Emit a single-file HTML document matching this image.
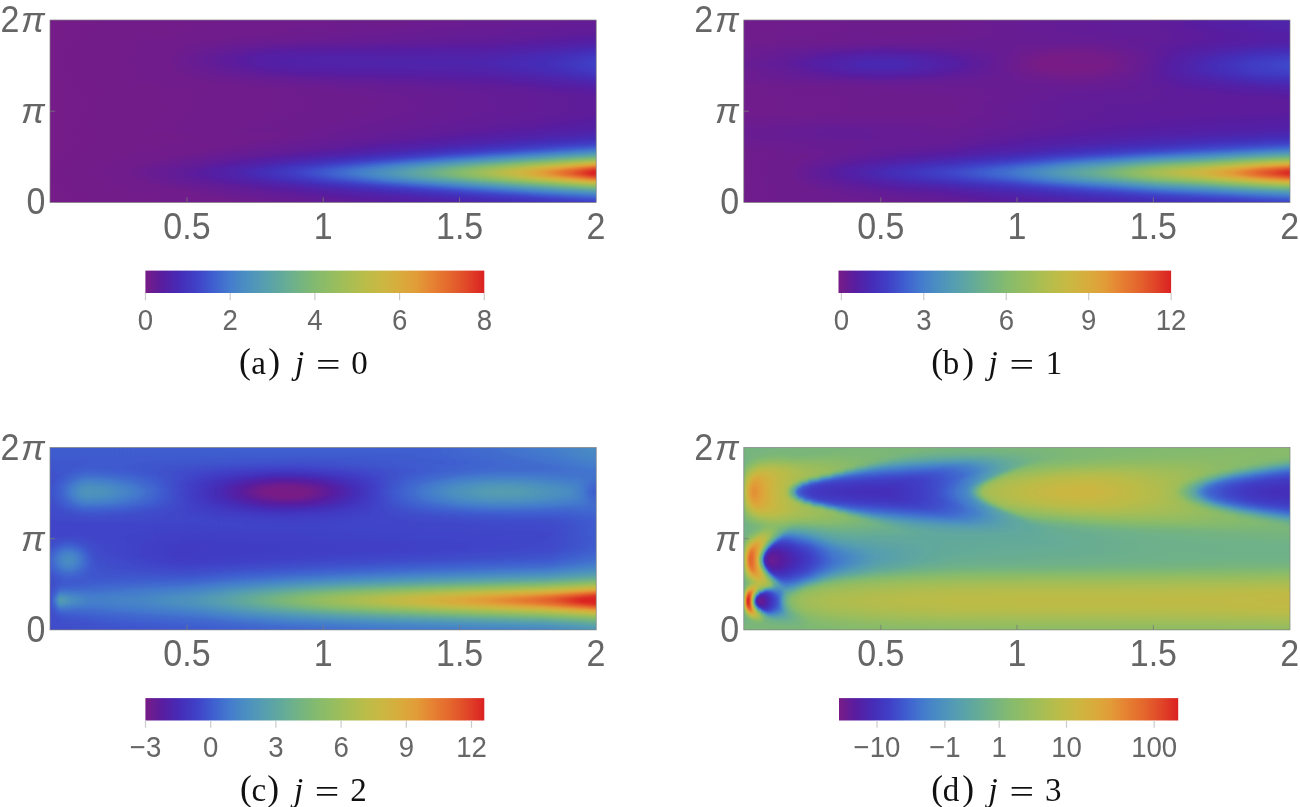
<!DOCTYPE html>
<html><head><meta charset="utf-8"><title>figure</title>
<style>html,body{margin:0;padding:0;background:#fff}svg{display:block}text{font-family:'Liberation Sans',sans-serif}.cap text{font-family:'Liberation Serif',serif}</style></head>
<body><svg width="1300" height="807" viewBox="0 0 1300 807">
<rect width="1300" height="807" fill="#fff"/>
<defs><filter id="rb" filterUnits="userSpaceOnUse" x="0" y="0" width="1300" height="807" color-interpolation-filters="sRGB"><feGaussianBlur stdDeviation="0 1.6"/><feComponentTransfer><feFuncR type="table" tableValues=".4706 .3451 .2745 .251 .2471 .2667 .2941 .3373 .3843 .4471 .5137 .5804 .6549 .7333 .7961 .8471 .8863 .902 .8941 .8784 .8588"/><feFuncG type="table" tableValues=".1098 .1137 .1725 .251 .3725 .4863 .5647 .6196 .6627 .702 .7294 .7412 .7451 .7373 .7176 .6745 .6118 .502 .4 .2745 .1294"/><feFuncB type="table" tableValues=".5255 .6275 .7176 .7804 .8157 .8039 .7529 .6902 .6118 .5216 .4392 .3804 .3294 .2824 .2588 .2353 .2196 .1961 .1765 .1569 .1333"/></feComponentTransfer></filter></defs>
<defs><linearGradient id="h0_0"><stop offset="0" stop-color="#010101"/><stop offset=".6378" stop-color="#040404"/><stop offset="1" stop-color="#080808"/></linearGradient><linearGradient id="h0_1"><stop offset="0" stop-color="#010101"/><stop offset=".6378" stop-color="#040404"/><stop offset="1" stop-color="#080808"/></linearGradient><linearGradient id="h0_2"><stop offset="0" stop-color="#010101"/><stop offset=".6378" stop-color="#040404"/><stop offset="1" stop-color="#080808"/></linearGradient><linearGradient id="h0_3"><stop offset="0" stop-color="#010101"/><stop offset=".6324" stop-color="#040404"/><stop offset="1" stop-color="#080808"/></linearGradient><linearGradient id="h0_4"><stop offset="0" stop-color="#010101"/><stop offset=".6109" stop-color="#040404"/><stop offset="1" stop-color="#090909"/></linearGradient><linearGradient id="h0_5"><stop offset="0" stop-color="#010101"/><stop offset=".5357" stop-color="#040404"/><stop offset=".9656" stop-color="#090909"/><stop offset="1" stop-color="#090909"/></linearGradient><linearGradient id="h0_6"><stop offset="0" stop-color="#010101"/><stop offset=".3852" stop-color="#030303"/><stop offset=".9011" stop-color="#080808"/><stop offset="1" stop-color="#0a0a0a"/></linearGradient><linearGradient id="h0_7"><stop offset="0" stop-color="#010101"/><stop offset=".3099" stop-color="#030303"/><stop offset=".8796" stop-color="#090909"/><stop offset="1" stop-color="#0c0c0c"/></linearGradient><linearGradient id="h0_8"><stop offset="0" stop-color="#010101"/><stop offset=".2669" stop-color="#030303"/><stop offset=".5679" stop-color="#060606"/><stop offset=".8581" stop-color="#0a0a0a"/><stop offset="1" stop-color="#0e0e0e"/></linearGradient><linearGradient id="h0_9"><stop offset="0" stop-color="#010101"/><stop offset=".2508" stop-color="#030303"/><stop offset=".4765" stop-color="#070707"/><stop offset=".8259" stop-color="#0a0a0a"/><stop offset=".9656" stop-color="#0f0f0f"/><stop offset="1" stop-color="#111111"/></linearGradient><linearGradient id="h0_10"><stop offset="0" stop-color="#010101"/><stop offset=".2401" stop-color="#030303"/><stop offset=".4497" stop-color="#090909"/><stop offset=".8097" stop-color="#0c0c0c"/><stop offset=".9441" stop-color="#111111"/><stop offset="1" stop-color="#141414"/></linearGradient><linearGradient id="h0_11"><stop offset="0" stop-color="#010101"/><stop offset=".2347" stop-color="#030303"/><stop offset=".4335" stop-color="#0b0b0b"/><stop offset=".799" stop-color="#0d0d0d"/><stop offset=".9334" stop-color="#131313"/><stop offset=".9979" stop-color="#181818"/><stop offset="1" stop-color="#181818"/></linearGradient><linearGradient id="h0_12"><stop offset="0" stop-color="#010101"/><stop offset=".2293" stop-color="#030303"/><stop offset=".412" stop-color="#0d0d0d"/><stop offset=".67" stop-color="#0f0f0f"/><stop offset=".799" stop-color="#101010"/><stop offset=".928" stop-color="#161616"/><stop offset=".9925" stop-color="#1c1c1c"/><stop offset="1" stop-color="#1c1c1c"/></linearGradient><linearGradient id="h0_13"><stop offset="0" stop-color="#010101"/><stop offset=".2293" stop-color="#030303"/><stop offset=".4013" stop-color="#0e0e0e"/><stop offset=".541" stop-color="#101010"/><stop offset=".7829" stop-color="#111111"/><stop offset=".9172" stop-color="#181818"/><stop offset=".9925" stop-color="#202020"/><stop offset="1" stop-color="#202020"/></linearGradient><linearGradient id="h0_14"><stop offset="0" stop-color="#010101"/><stop offset=".2239" stop-color="#030303"/><stop offset=".3959" stop-color="#0f0f0f"/><stop offset=".4927" stop-color="#121212"/><stop offset=".6915" stop-color="#121212"/><stop offset=".799" stop-color="#131313"/><stop offset=".9172" stop-color="#1a1a1a"/><stop offset=".9925" stop-color="#232323"/><stop offset="1" stop-color="#232323"/></linearGradient><linearGradient id="h0_15"><stop offset="0" stop-color="#010101"/><stop offset=".2239" stop-color="#030303"/><stop offset=".4013" stop-color="#101010"/><stop offset=".5088" stop-color="#121212"/><stop offset=".6915" stop-color="#131313"/><stop offset=".7936" stop-color="#141414"/><stop offset=".9119" stop-color="#1b1b1b"/><stop offset=".9925" stop-color="#252525"/><stop offset="1" stop-color="#252525"/></linearGradient><linearGradient id="h0_16"><stop offset="0" stop-color="#010101"/><stop offset=".2239" stop-color="#030303"/><stop offset=".412" stop-color="#101010"/><stop offset=".6163" stop-color="#131313"/><stop offset=".7721" stop-color="#141414"/><stop offset=".8957" stop-color="#1a1a1a"/><stop offset=".9602" stop-color="#222222"/><stop offset=".9925" stop-color="#272727"/><stop offset="1" stop-color="#272727"/></linearGradient><linearGradient id="h0_17"><stop offset="0" stop-color="#010101"/><stop offset=".2293" stop-color="#030303"/><stop offset=".4228" stop-color="#101010"/><stop offset=".6593" stop-color="#131313"/><stop offset=".7829" stop-color="#131313"/><stop offset=".9065" stop-color="#1b1b1b"/><stop offset=".9817" stop-color="#252525"/><stop offset="1" stop-color="#262626"/></linearGradient><linearGradient id="h0_18"><stop offset="0" stop-color="#010101"/><stop offset=".2293" stop-color="#030303"/><stop offset=".4335" stop-color="#0e0e0e"/><stop offset=".67" stop-color="#111111"/><stop offset=".7882" stop-color="#121212"/><stop offset=".9119" stop-color="#1a1a1a"/><stop offset=".9925" stop-color="#242424"/><stop offset="1" stop-color="#242424"/></linearGradient><linearGradient id="h0_19"><stop offset="0" stop-color="#010101"/><stop offset=".2347" stop-color="#030303"/><stop offset=".4443" stop-color="#0d0d0d"/><stop offset=".6969" stop-color="#0f0f0f"/><stop offset=".8097" stop-color="#121212"/><stop offset=".9226" stop-color="#191919"/><stop offset=".9925" stop-color="#222222"/><stop offset="1" stop-color="#222222"/></linearGradient><linearGradient id="h0_20"><stop offset="0" stop-color="#010101"/><stop offset=".2401" stop-color="#030303"/><stop offset=".4604" stop-color="#0b0b0b"/><stop offset=".799" stop-color="#0f0f0f"/><stop offset=".9226" stop-color="#161616"/><stop offset=".9925" stop-color="#1e1e1e"/><stop offset="1" stop-color="#1e1e1e"/></linearGradient><linearGradient id="h0_21"><stop offset="0" stop-color="#010101"/><stop offset=".2508" stop-color="#030303"/><stop offset=".4927" stop-color="#090909"/><stop offset=".8044" stop-color="#0d0d0d"/><stop offset=".928" stop-color="#141414"/><stop offset=".9925" stop-color="#1a1a1a"/><stop offset="1" stop-color="#1a1a1a"/></linearGradient><linearGradient id="h0_22"><stop offset="0" stop-color="#010101"/><stop offset=".2669" stop-color="#030303"/><stop offset=".6109" stop-color="#090909"/><stop offset=".8205" stop-color="#0c0c0c"/><stop offset=".9387" stop-color="#121212"/><stop offset=".9979" stop-color="#161616"/><stop offset="1" stop-color="#161616"/></linearGradient><linearGradient id="h0_23"><stop offset="0" stop-color="#010101"/><stop offset=".2992" stop-color="#030303"/><stop offset=".8312" stop-color="#0b0b0b"/><stop offset=".9549" stop-color="#101010"/><stop offset="1" stop-color="#131313"/></linearGradient><linearGradient id="h0_24"><stop offset="0" stop-color="#010101"/><stop offset=".3475" stop-color="#030303"/><stop offset=".8366" stop-color="#090909"/><stop offset=".9764" stop-color="#0f0f0f"/><stop offset="1" stop-color="#101010"/></linearGradient><linearGradient id="h0_25"><stop offset="0" stop-color="#010101"/><stop offset=".4174" stop-color="#030303"/><stop offset=".8527" stop-color="#090909"/><stop offset="1" stop-color="#0d0d0d"/></linearGradient><linearGradient id="h0_26"><stop offset="0" stop-color="#010101"/><stop offset=".5034" stop-color="#040404"/><stop offset=".8957" stop-color="#090909"/><stop offset="1" stop-color="#0c0c0c"/></linearGradient><linearGradient id="h0_27"><stop offset="0" stop-color="#010101"/><stop offset=".5464" stop-color="#040404"/><stop offset=".9334" stop-color="#090909"/><stop offset="1" stop-color="#0b0b0b"/></linearGradient><linearGradient id="h0_28"><stop offset="0" stop-color="#010101"/><stop offset=".5679" stop-color="#040404"/><stop offset=".9656" stop-color="#0a0a0a"/><stop offset="1" stop-color="#0a0a0a"/></linearGradient><linearGradient id="h0_29"><stop offset="0" stop-color="#010101"/><stop offset=".5733" stop-color="#040404"/><stop offset="1" stop-color="#0a0a0a"/></linearGradient><linearGradient id="h0_30"><stop offset="0" stop-color="#010101"/><stop offset=".5733" stop-color="#040404"/><stop offset="1" stop-color="#0a0a0a"/></linearGradient><linearGradient id="h0_31"><stop offset="0" stop-color="#010101"/><stop offset=".5679" stop-color="#040404"/><stop offset="1" stop-color="#0a0a0a"/></linearGradient><linearGradient id="h0_32"><stop offset="0" stop-color="#010101"/><stop offset=".5571" stop-color="#040404"/><stop offset=".9817" stop-color="#0a0a0a"/><stop offset="1" stop-color="#0b0b0b"/></linearGradient><linearGradient id="h0_33"><stop offset="0" stop-color="#010101"/><stop offset=".5464" stop-color="#040404"/><stop offset=".9602" stop-color="#0a0a0a"/><stop offset="1" stop-color="#0b0b0b"/></linearGradient><linearGradient id="h0_34"><stop offset="0" stop-color="#010101"/><stop offset=".5303" stop-color="#040404"/><stop offset=".928" stop-color="#0a0a0a"/><stop offset="1" stop-color="#0c0c0c"/></linearGradient><linearGradient id="h0_35"><stop offset="0" stop-color="#010101"/><stop offset=".5142" stop-color="#040404"/><stop offset=".8957" stop-color="#0a0a0a"/><stop offset="1" stop-color="#0d0d0d"/></linearGradient><linearGradient id="h0_36"><stop offset="0" stop-color="#010101"/><stop offset=".498" stop-color="#040404"/><stop offset=".8635" stop-color="#0a0a0a"/><stop offset="1" stop-color="#0e0e0e"/></linearGradient><linearGradient id="h0_37"><stop offset="0" stop-color="#010101"/><stop offset=".4819" stop-color="#040404"/><stop offset=".8312" stop-color="#0a0a0a"/><stop offset="1" stop-color="#0f0f0f"/></linearGradient><linearGradient id="h0_38"><stop offset="0" stop-color="#010101"/><stop offset=".4604" stop-color="#040404"/><stop offset=".7882" stop-color="#0a0a0a"/><stop offset="1" stop-color="#111111"/></linearGradient><linearGradient id="h0_39"><stop offset="0" stop-color="#010101"/><stop offset=".4389" stop-color="#040404"/><stop offset=".7506" stop-color="#0a0a0a"/><stop offset="1" stop-color="#141414"/></linearGradient><linearGradient id="h0_40"><stop offset="0" stop-color="#010101"/><stop offset=".4174" stop-color="#030303"/><stop offset=".7076" stop-color="#0a0a0a"/><stop offset=".9441" stop-color="#141414"/><stop offset="1" stop-color="#171717"/></linearGradient><linearGradient id="h0_41"><stop offset="0" stop-color="#010101"/><stop offset=".3905" stop-color="#030303"/><stop offset=".6593" stop-color="#0a0a0a"/><stop offset=".8796" stop-color="#141414"/><stop offset="1" stop-color="#1b1b1b"/></linearGradient><linearGradient id="h0_42"><stop offset="0" stop-color="#010101"/><stop offset=".3637" stop-color="#030303"/><stop offset=".6163" stop-color="#0a0a0a"/><stop offset=".8205" stop-color="#141414"/><stop offset=".9979" stop-color="#212121"/><stop offset="1" stop-color="#212121"/></linearGradient><linearGradient id="h0_43"><stop offset="0" stop-color="#010101"/><stop offset=".3368" stop-color="#030303"/><stop offset=".5679" stop-color="#0a0a0a"/><stop offset=".7614" stop-color="#141414"/><stop offset=".928" stop-color="#222222"/><stop offset=".9925" stop-color="#282828"/><stop offset="1" stop-color="#282828"/></linearGradient><linearGradient id="h0_44"><stop offset="0" stop-color="#010101"/><stop offset=".3046" stop-color="#030303"/><stop offset=".5195" stop-color="#090909"/><stop offset=".6969" stop-color="#141414"/><stop offset=".8527" stop-color="#222222"/><stop offset=".9925" stop-color="#333333"/><stop offset="1" stop-color="#333333"/></linearGradient><linearGradient id="h0_45"><stop offset="0" stop-color="#010101"/><stop offset=".2777" stop-color="#030303"/><stop offset=".4712" stop-color="#090909"/><stop offset=".6378" stop-color="#141414"/><stop offset=".7829" stop-color="#222222"/><stop offset=".9119" stop-color="#333333"/><stop offset=".9925" stop-color="#414141"/><stop offset="1" stop-color="#414141"/></linearGradient><linearGradient id="h0_46"><stop offset="0" stop-color="#010101"/><stop offset=".2508" stop-color="#030303"/><stop offset=".4282" stop-color="#090909"/><stop offset=".5786" stop-color="#141414"/><stop offset=".713" stop-color="#222222"/><stop offset=".8366" stop-color="#343434"/><stop offset=".9495" stop-color="#4a4a4a"/><stop offset=".9925" stop-color="#535353"/><stop offset="1" stop-color="#535353"/></linearGradient><linearGradient id="h0_47"><stop offset="0" stop-color="#010101"/><stop offset=".2239" stop-color="#030303"/><stop offset=".3852" stop-color="#090909"/><stop offset=".5249" stop-color="#141414"/><stop offset=".6485" stop-color="#222222"/><stop offset=".7614" stop-color="#353535"/><stop offset=".8689" stop-color="#4b4b4b"/><stop offset=".971" stop-color="#666666"/><stop offset=".9871" stop-color="#6b6b6b"/><stop offset="1" stop-color="#6c6c6c"/></linearGradient><linearGradient id="h0_48"><stop offset="0" stop-color="#010101"/><stop offset=".2024" stop-color="#030303"/><stop offset=".3475" stop-color="#0a0a0a"/><stop offset=".4712" stop-color="#141414"/><stop offset=".584" stop-color="#222222"/><stop offset=".6915" stop-color="#353535"/><stop offset=".7936" stop-color="#4c4c4c"/><stop offset=".8904" stop-color="#686868"/><stop offset=".9817" stop-color="#878787"/><stop offset=".9925" stop-color="#8a8a8a"/><stop offset="1" stop-color="#8a8a8a"/></linearGradient><linearGradient id="h0_49"><stop offset="0" stop-color="#010101"/><stop offset=".1809" stop-color="#030303"/><stop offset=".3153" stop-color="#0a0a0a"/><stop offset=".4282" stop-color="#141414"/><stop offset=".5357" stop-color="#232323"/><stop offset=".6324" stop-color="#363636"/><stop offset=".7238" stop-color="#4c4c4c"/><stop offset=".8151" stop-color="#686868"/><stop offset=".9011" stop-color="#888888"/><stop offset=".9817" stop-color="#aaaaaa"/><stop offset=".9871" stop-color="#adadad"/><stop offset="1" stop-color="#aeaeae"/></linearGradient><linearGradient id="h0_50"><stop offset="0" stop-color="#010101"/><stop offset=".1648" stop-color="#030303"/><stop offset=".2831" stop-color="#090909"/><stop offset=".3905" stop-color="#141414"/><stop offset=".4873" stop-color="#232323"/><stop offset=".5786" stop-color="#353535"/><stop offset=".6646" stop-color="#4c4c4c"/><stop offset=".7506" stop-color="#686868"/><stop offset=".8312" stop-color="#878787"/><stop offset=".9119" stop-color="#ababab"/><stop offset=".9871" stop-color="#d1d1d1"/><stop offset="1" stop-color="#d3d3d3"/></linearGradient><linearGradient id="h0_51"><stop offset="0" stop-color="#010101"/><stop offset=".1523" stop-color="#030303"/><stop offset=".2669" stop-color="#0a0a0a"/><stop offset=".369" stop-color="#151515"/><stop offset=".4604" stop-color="#242424"/><stop offset=".5464" stop-color="#363636"/><stop offset=".6324" stop-color="#4e4e4e"/><stop offset=".713" stop-color="#6a6a6a"/><stop offset=".7936" stop-color="#8b8b8b"/><stop offset=".8689" stop-color="#afafaf"/><stop offset=".9441" stop-color="#d7d7d7"/><stop offset=".9871" stop-color="#f1f1f1"/><stop offset=".9979" stop-color="#f2f2f2"/><stop offset="1" stop-color="#f2f2f2"/></linearGradient><linearGradient id="h0_52"><stop offset="0" stop-color="#010101"/><stop offset=".1469" stop-color="#030303"/><stop offset=".2562" stop-color="#0a0a0a"/><stop offset=".3529" stop-color="#141414"/><stop offset=".4443" stop-color="#242424"/><stop offset=".5303" stop-color="#373737"/><stop offset=".6109" stop-color="#4e4e4e"/><stop offset=".6915" stop-color="#6a6a6a"/><stop offset=".7668" stop-color="#8a8a8a"/><stop offset=".842" stop-color="#aeaeae"/><stop offset=".9172" stop-color="#d8d8d8"/><stop offset=".9817" stop-color="#ffffff"/><stop offset="1" stop-color="#ffffff"/></linearGradient><linearGradient id="h0_53"><stop offset="0" stop-color="#010101"/><stop offset=".1469" stop-color="#030303"/><stop offset=".2562" stop-color="#0a0a0a"/><stop offset=".3529" stop-color="#141414"/><stop offset=".4443" stop-color="#232323"/><stop offset=".5303" stop-color="#373737"/><stop offset=".6109" stop-color="#4e4e4e"/><stop offset=".6915" stop-color="#6a6a6a"/><stop offset=".7721" stop-color="#8c8c8c"/><stop offset=".8474" stop-color="#b0b0b0"/><stop offset=".9226" stop-color="#dadada"/><stop offset=".9817" stop-color="#ffffff"/><stop offset="1" stop-color="#ffffff"/></linearGradient><linearGradient id="h0_54"><stop offset="0" stop-color="#010101"/><stop offset=".1541" stop-color="#030303"/><stop offset=".2669" stop-color="#0a0a0a"/><stop offset=".369" stop-color="#141414"/><stop offset=".4604" stop-color="#232323"/><stop offset=".5518" stop-color="#373737"/><stop offset=".6378" stop-color="#4f4f4f"/><stop offset=".7184" stop-color="#6b6b6b"/><stop offset=".799" stop-color="#8c8c8c"/><stop offset=".8742" stop-color="#afafaf"/><stop offset=".9495" stop-color="#d8d8d8"/><stop offset=".9871" stop-color="#eeeeee"/><stop offset=".9979" stop-color="#f0f0f0"/><stop offset="1" stop-color="#f0f0f0"/></linearGradient><linearGradient id="h0_55"><stop offset="0" stop-color="#010101"/><stop offset=".1648" stop-color="#030303"/><stop offset=".2884" stop-color="#0a0a0a"/><stop offset=".3959" stop-color="#141414"/><stop offset=".4927" stop-color="#232323"/><stop offset=".584" stop-color="#363636"/><stop offset=".6754" stop-color="#4e4e4e"/><stop offset=".7614" stop-color="#696969"/><stop offset=".842" stop-color="#898989"/><stop offset=".9226" stop-color="#adadad"/><stop offset=".9871" stop-color="#cecece"/><stop offset="1" stop-color="#cfcfcf"/></linearGradient><linearGradient id="h0_56"><stop offset="0" stop-color="#010101"/><stop offset=".1809" stop-color="#030303"/><stop offset=".3153" stop-color="#0a0a0a"/><stop offset=".4335" stop-color="#141414"/><stop offset=".541" stop-color="#232323"/><stop offset=".6378" stop-color="#363636"/><stop offset=".7291" stop-color="#4c4c4c"/><stop offset=".8205" stop-color="#686868"/><stop offset=".9065" stop-color="#878787"/><stop offset=".9871" stop-color="#a9a9a9"/><stop offset="1" stop-color="#aaaaaa"/></linearGradient><linearGradient id="h0_57"><stop offset="0" stop-color="#010101"/><stop offset=".2024" stop-color="#030303"/><stop offset=".3475" stop-color="#090909"/><stop offset=".4765" stop-color="#141414"/><stop offset=".5894" stop-color="#222222"/><stop offset=".6969" stop-color="#353535"/><stop offset=".799" stop-color="#4c4c4c"/><stop offset=".8957" stop-color="#676767"/><stop offset=".9871" stop-color="#868686"/><stop offset="1" stop-color="#878787"/></linearGradient><linearGradient id="h0_58"><stop offset="0" stop-color="#010101"/><stop offset=".2293" stop-color="#030303"/><stop offset=".3905" stop-color="#0a0a0a"/><stop offset=".5303" stop-color="#141414"/><stop offset=".6539" stop-color="#222222"/><stop offset=".7668" stop-color="#343434"/><stop offset=".8742" stop-color="#4b4b4b"/><stop offset=".9764" stop-color="#656565"/><stop offset=".9925" stop-color="#696969"/><stop offset="1" stop-color="#696969"/></linearGradient><linearGradient id="h0_59"><stop offset="0" stop-color="#010101"/><stop offset=".2562" stop-color="#030303"/><stop offset=".4335" stop-color="#0a0a0a"/><stop offset=".584" stop-color="#141414"/><stop offset=".7184" stop-color="#222222"/><stop offset=".842" stop-color="#343434"/><stop offset=".9549" stop-color="#4a4a4a"/><stop offset=".9925" stop-color="#515151"/><stop offset="1" stop-color="#515151"/></linearGradient><linearGradient id="h0_60"><stop offset="0" stop-color="#010101"/><stop offset=".2831" stop-color="#030303"/><stop offset=".4819" stop-color="#0a0a0a"/><stop offset=".6485" stop-color="#141414"/><stop offset=".7936" stop-color="#222222"/><stop offset=".928" stop-color="#353535"/><stop offset=".9925" stop-color="#3f3f3f"/><stop offset="1" stop-color="#3f3f3f"/></linearGradient><linearGradient id="h0_61"><stop offset="0" stop-color="#010101"/><stop offset=".3099" stop-color="#030303"/><stop offset=".5249" stop-color="#0a0a0a"/><stop offset=".7023" stop-color="#141414"/><stop offset=".8581" stop-color="#212121"/><stop offset=".9925" stop-color="#313131"/><stop offset="1" stop-color="#313131"/></linearGradient><linearGradient id="h0_62"><stop offset="0" stop-color="#010101"/><stop offset=".3368" stop-color="#030303"/><stop offset=".5733" stop-color="#0a0a0a"/><stop offset=".7668" stop-color="#141414"/><stop offset=".9334" stop-color="#222222"/><stop offset=".9925" stop-color="#272727"/><stop offset="1" stop-color="#272727"/></linearGradient><linearGradient id="h0_63"><stop offset="0" stop-color="#010101"/><stop offset=".3475" stop-color="#030303"/><stop offset=".5894" stop-color="#0a0a0a"/><stop offset=".7882" stop-color="#141414"/><stop offset=".9602" stop-color="#222222"/><stop offset=".9979" stop-color="#252525"/><stop offset="1" stop-color="#252525"/></linearGradient><linearGradient id="h0_64"><stop offset="0" stop-color="#010101"/><stop offset=".3475" stop-color="#030303"/><stop offset=".5894" stop-color="#0a0a0a"/><stop offset=".7882" stop-color="#141414"/><stop offset=".9602" stop-color="#222222"/><stop offset=".9979" stop-color="#252525"/><stop offset="1" stop-color="#252525"/></linearGradient><clipPath id="cp0"><rect x="50" y="20" width="546.2" height="182.4"/></clipPath></defs>
<g clip-path="url(#cp0)"><g filter="url(#rb)"><rect x="44" y="14" width="558.2" height="3.5" fill="url(#h0_0)"/><rect x="44" y="17" width="558.2" height="3.5" fill="url(#h0_1)"/><rect x="44" y="20" width="558.2" height="3.5" fill="url(#h0_2)"/><rect x="44" y="23" width="558.2" height="3.5" fill="url(#h0_3)"/><rect x="44" y="26" width="558.2" height="3.5" fill="url(#h0_4)"/><rect x="44" y="29" width="558.2" height="3.5" fill="url(#h0_5)"/><rect x="44" y="32" width="558.2" height="3.5" fill="url(#h0_6)"/><rect x="44" y="35" width="558.2" height="3.5" fill="url(#h0_7)"/><rect x="44" y="38" width="558.2" height="3.5" fill="url(#h0_8)"/><rect x="44" y="41" width="558.2" height="3.5" fill="url(#h0_9)"/><rect x="44" y="44" width="558.2" height="3.5" fill="url(#h0_10)"/><rect x="44" y="47" width="558.2" height="3.5" fill="url(#h0_11)"/><rect x="44" y="50" width="558.2" height="3.5" fill="url(#h0_12)"/><rect x="44" y="53" width="558.2" height="3.5" fill="url(#h0_13)"/><rect x="44" y="56" width="558.2" height="3.5" fill="url(#h0_14)"/><rect x="44" y="59" width="558.2" height="3.5" fill="url(#h0_15)"/><rect x="44" y="62" width="558.2" height="3.5" fill="url(#h0_16)"/><rect x="44" y="65" width="558.2" height="3.5" fill="url(#h0_17)"/><rect x="44" y="68" width="558.2" height="3.5" fill="url(#h0_18)"/><rect x="44" y="71" width="558.2" height="3.5" fill="url(#h0_19)"/><rect x="44" y="74" width="558.2" height="3.5" fill="url(#h0_20)"/><rect x="44" y="77" width="558.2" height="3.5" fill="url(#h0_21)"/><rect x="44" y="80" width="558.2" height="3.5" fill="url(#h0_22)"/><rect x="44" y="83" width="558.2" height="3.5" fill="url(#h0_23)"/><rect x="44" y="86" width="558.2" height="3.5" fill="url(#h0_24)"/><rect x="44" y="89" width="558.2" height="3.5" fill="url(#h0_25)"/><rect x="44" y="92" width="558.2" height="3.5" fill="url(#h0_26)"/><rect x="44" y="95" width="558.2" height="3.5" fill="url(#h0_27)"/><rect x="44" y="98" width="558.2" height="3.5" fill="url(#h0_28)"/><rect x="44" y="101" width="558.2" height="3.5" fill="url(#h0_29)"/><rect x="44" y="104" width="558.2" height="3.5" fill="url(#h0_30)"/><rect x="44" y="107" width="558.2" height="3.5" fill="url(#h0_31)"/><rect x="44" y="110" width="558.2" height="3.5" fill="url(#h0_32)"/><rect x="44" y="113" width="558.2" height="3.5" fill="url(#h0_33)"/><rect x="44" y="116" width="558.2" height="3.5" fill="url(#h0_34)"/><rect x="44" y="119" width="558.2" height="3.5" fill="url(#h0_35)"/><rect x="44" y="122" width="558.2" height="3.5" fill="url(#h0_36)"/><rect x="44" y="125" width="558.2" height="3.5" fill="url(#h0_37)"/><rect x="44" y="128" width="558.2" height="3.5" fill="url(#h0_38)"/><rect x="44" y="131" width="558.2" height="3.5" fill="url(#h0_39)"/><rect x="44" y="134" width="558.2" height="3.5" fill="url(#h0_40)"/><rect x="44" y="137" width="558.2" height="3.5" fill="url(#h0_41)"/><rect x="44" y="140" width="558.2" height="3.5" fill="url(#h0_42)"/><rect x="44" y="143" width="558.2" height="3.5" fill="url(#h0_43)"/><rect x="44" y="146" width="558.2" height="3.5" fill="url(#h0_44)"/><rect x="44" y="149" width="558.2" height="3.5" fill="url(#h0_45)"/><rect x="44" y="152" width="558.2" height="3.5" fill="url(#h0_46)"/><rect x="44" y="155" width="558.2" height="3.5" fill="url(#h0_47)"/><rect x="44" y="158" width="558.2" height="3.5" fill="url(#h0_48)"/><rect x="44" y="161" width="558.2" height="3.5" fill="url(#h0_49)"/><rect x="44" y="164" width="558.2" height="3.5" fill="url(#h0_50)"/><rect x="44" y="167" width="558.2" height="3.5" fill="url(#h0_51)"/><rect x="44" y="170" width="558.2" height="3.5" fill="url(#h0_52)"/><rect x="44" y="173" width="558.2" height="3.5" fill="url(#h0_53)"/><rect x="44" y="176" width="558.2" height="3.5" fill="url(#h0_54)"/><rect x="44" y="179" width="558.2" height="3.5" fill="url(#h0_55)"/><rect x="44" y="182" width="558.2" height="3.5" fill="url(#h0_56)"/><rect x="44" y="185" width="558.2" height="3.5" fill="url(#h0_57)"/><rect x="44" y="188" width="558.2" height="3.5" fill="url(#h0_58)"/><rect x="44" y="191" width="558.2" height="3.5" fill="url(#h0_59)"/><rect x="44" y="194" width="558.2" height="3.5" fill="url(#h0_60)"/><rect x="44" y="197" width="558.2" height="3.5" fill="url(#h0_61)"/><rect x="44" y="200" width="558.2" height="3.5" fill="url(#h0_62)"/><rect x="44" y="203" width="558.2" height="3.5" fill="url(#h0_63)"/><rect x="44" y="206" width="558.2" height="3.5" fill="url(#h0_64)"/></g></g>
<rect x="50.0" y="20.0" width="546.2" height="182.4" fill="none" stroke="#808080" stroke-width="0.7"/>
<line x1="187.0" y1="202.4" x2="187.0" y2="197.4" stroke="#7a7a7a" stroke-width="0.8"/>
<text transform="translate(187.0 238.8) scale(1 1.07)" text-anchor="middle" font-size="34" fill="#666">0.5</text>
<line x1="323.2" y1="202.4" x2="323.2" y2="197.4" stroke="#7a7a7a" stroke-width="0.8"/>
<text transform="translate(323.2 238.8) scale(1 1.07)" text-anchor="middle" font-size="34" fill="#666">1</text>
<line x1="459.6" y1="202.4" x2="459.6" y2="197.4" stroke="#7a7a7a" stroke-width="0.8"/>
<text transform="translate(459.6 238.8) scale(1 1.07)" text-anchor="middle" font-size="34" fill="#666">1.5</text>
<text transform="translate(596.0 238.8) scale(1 1.07)" text-anchor="middle" font-size="34" fill="#666">2</text>
<line x1="50.0" y1="111.2" x2="55.0" y2="111.2" stroke="#7a7a7a" stroke-width="0.8"/>
<text transform="translate(19.3 32.0) scale(1 1.07)" text-anchor="end" font-size="34" fill="#666">2</text>
<text x="44.9" y="32.0" text-anchor="end" font-size="35.5" fill="#666" font-style="italic">π</text>
<text x="44.9" y="123.3" text-anchor="end" font-size="35.5" fill="#666" font-style="italic">π</text>
<text transform="translate(45.3 214.3) scale(1 1.07)" text-anchor="end" font-size="34" fill="#666">0</text>
<defs><linearGradient id="cb0"><stop offset="0" stop-color="#781c86"/><stop offset=".05" stop-color="#581da0"/><stop offset=".1" stop-color="#462cb7"/><stop offset=".15" stop-color="#4040c7"/><stop offset=".2" stop-color="#3f5fd0"/><stop offset=".25" stop-color="#447ccd"/><stop offset=".3" stop-color="#4b90c0"/><stop offset=".35" stop-color="#569eb0"/><stop offset=".4" stop-color="#62a99c"/><stop offset=".45" stop-color="#72b385"/><stop offset=".5" stop-color="#83ba70"/><stop offset=".55" stop-color="#94bd61"/><stop offset=".6" stop-color="#a7be54"/><stop offset=".65" stop-color="#bbbc48"/><stop offset=".7" stop-color="#cbb742"/><stop offset=".75" stop-color="#d8ac3c"/><stop offset=".8" stop-color="#e29c38"/><stop offset=".85" stop-color="#e68032"/><stop offset=".9" stop-color="#e4662d"/><stop offset=".95" stop-color="#e04628"/><stop offset="1" stop-color="#db2122"/></linearGradient></defs>
<rect x="145.4" y="270.6" width="338.9" height="22.4" fill="url(#cb0)"/>
<line x1="145.5" y1="293.0" x2="145.5" y2="300.3" stroke="#cbcbcb" stroke-width="1.2"/>
<text transform="translate(145.5 329.8) scale(1 1.05)" text-anchor="middle" font-size="27.6" fill="#666">0</text>
<line x1="230.2" y1="293.0" x2="230.2" y2="300.3" stroke="#cbcbcb" stroke-width="1.2"/>
<text transform="translate(230.2 329.8) scale(1 1.05)" text-anchor="middle" font-size="27.6" fill="#666">2</text>
<line x1="314.9" y1="293.0" x2="314.9" y2="300.3" stroke="#cbcbcb" stroke-width="1.2"/>
<text transform="translate(314.9 329.8) scale(1 1.05)" text-anchor="middle" font-size="27.6" fill="#666">4</text>
<line x1="399.6" y1="293.0" x2="399.6" y2="300.3" stroke="#cbcbcb" stroke-width="1.2"/>
<text transform="translate(399.6 329.8) scale(1 1.05)" text-anchor="middle" font-size="27.6" fill="#666">6</text>
<line x1="484.3" y1="293.0" x2="484.3" y2="300.3" stroke="#cbcbcb" stroke-width="1.2"/>
<text transform="translate(484.3 329.8) scale(1 1.05)" text-anchor="middle" font-size="27.6" fill="#666">8</text>
<g class="cap" font-size="33" fill="#111"><text x="239.0" y="372.8" font-size="35.5">(</text><text x="251.2" y="373.5">a</text><text x="268.2" y="372.8" font-size="35.5">)</text><text x="294.9" y="373.5" font-style="italic">j</text><text transform="translate(316.0 375.5) scale(1.32 1)">=</text><text x="351.3" y="373.5">0</text></g>
<defs><linearGradient id="h1_0"><stop offset="0" stop-color="#030303"/><stop offset=".3798" stop-color="#040404"/><stop offset=".6001" stop-color="#080808"/><stop offset=".7453" stop-color="#090909"/><stop offset=".9602" stop-color="#141414"/><stop offset="1" stop-color="#141414"/></linearGradient><linearGradient id="h1_1"><stop offset="0" stop-color="#030303"/><stop offset=".3798" stop-color="#040404"/><stop offset=".6001" stop-color="#080808"/><stop offset=".7453" stop-color="#090909"/><stop offset=".9602" stop-color="#141414"/><stop offset="1" stop-color="#141414"/></linearGradient><linearGradient id="h1_2"><stop offset="0" stop-color="#030303"/><stop offset=".3798" stop-color="#040404"/><stop offset=".6001" stop-color="#080808"/><stop offset=".7453" stop-color="#090909"/><stop offset=".9602" stop-color="#131313"/><stop offset="1" stop-color="#141414"/></linearGradient><linearGradient id="h1_3"><stop offset="0" stop-color="#030303"/><stop offset=".3798" stop-color="#040404"/><stop offset=".6001" stop-color="#080808"/><stop offset=".7506" stop-color="#090909"/><stop offset=".9602" stop-color="#131313"/><stop offset="1" stop-color="#131313"/></linearGradient><linearGradient id="h1_4"><stop offset="0" stop-color="#030303"/><stop offset=".3798" stop-color="#040404"/><stop offset=".6001" stop-color="#080808"/><stop offset=".7506" stop-color="#090909"/><stop offset=".9656" stop-color="#121212"/><stop offset="1" stop-color="#121212"/></linearGradient><linearGradient id="h1_5"><stop offset="0" stop-color="#030303"/><stop offset=".3852" stop-color="#040404"/><stop offset=".6055" stop-color="#080808"/><stop offset=".756" stop-color="#090909"/><stop offset=".9656" stop-color="#111111"/><stop offset="1" stop-color="#111111"/></linearGradient><linearGradient id="h1_6"><stop offset="0" stop-color="#030303"/><stop offset=".3905" stop-color="#040404"/><stop offset=".6109" stop-color="#080808"/><stop offset=".7668" stop-color="#090909"/><stop offset=".971" stop-color="#101010"/><stop offset="1" stop-color="#101010"/></linearGradient><linearGradient id="h1_7"><stop offset="0" stop-color="#030303"/><stop offset=".4067" stop-color="#050505"/><stop offset=".6324" stop-color="#070707"/><stop offset=".7829" stop-color="#0a0a0a"/><stop offset=".9817" stop-color="#0f0f0f"/><stop offset="1" stop-color="#101010"/></linearGradient><linearGradient id="h1_8"><stop offset="0" stop-color="#030303"/><stop offset=".455" stop-color="#060606"/><stop offset=".7399" stop-color="#080808"/><stop offset=".9764" stop-color="#101010"/><stop offset="1" stop-color="#101010"/></linearGradient><linearGradient id="h1_9"><stop offset="0" stop-color="#030303"/><stop offset=".3099" stop-color="#050505"/><stop offset=".6861" stop-color="#070707"/><stop offset=".9764" stop-color="#111111"/><stop offset="1" stop-color="#111111"/></linearGradient><linearGradient id="h1_10"><stop offset="0" stop-color="#030303"/><stop offset=".2831" stop-color="#070707"/><stop offset=".6378" stop-color="#050505"/><stop offset=".7668" stop-color="#0a0a0a"/><stop offset=".9602" stop-color="#131313"/><stop offset="1" stop-color="#131313"/></linearGradient><linearGradient id="h1_11"><stop offset="0" stop-color="#040404"/><stop offset=".1541" stop-color="#070707"/><stop offset=".2723" stop-color="#0a0a0a"/><stop offset=".6055" stop-color="#030303"/><stop offset=".713" stop-color="#070707"/><stop offset=".9441" stop-color="#161616"/><stop offset="1" stop-color="#171717"/></linearGradient><linearGradient id="h1_12"><stop offset="0" stop-color="#040404"/><stop offset=".1218" stop-color="#080808"/><stop offset=".2454" stop-color="#0d0d0d"/><stop offset=".3422" stop-color="#0b0b0b"/><stop offset=".584" stop-color="#020202"/><stop offset=".6754" stop-color="#040404"/><stop offset=".7936" stop-color="#0d0d0d"/><stop offset=".9387" stop-color="#191919"/><stop offset="1" stop-color="#1b1b1b"/></linearGradient><linearGradient id="h1_13"><stop offset="0" stop-color="#040404"/><stop offset=".1021" stop-color="#080808"/><stop offset=".2347" stop-color="#101010"/><stop offset=".3046" stop-color="#101010"/><stop offset=".5625" stop-color="#010101"/><stop offset=".6378" stop-color="#010101"/><stop offset=".7184" stop-color="#060606"/><stop offset=".928" stop-color="#1c1c1c"/><stop offset=".9979" stop-color="#202020"/><stop offset="1" stop-color="#202020"/></linearGradient><linearGradient id="h1_14"><stop offset="0" stop-color="#040404"/><stop offset=".0896" stop-color="#080808"/><stop offset=".2293" stop-color="#131313"/><stop offset=".2938" stop-color="#131313"/><stop offset=".5571" stop-color="#000000"/><stop offset=".6485" stop-color="#010101"/><stop offset=".7184" stop-color="#060606"/><stop offset=".9226" stop-color="#1f1f1f"/><stop offset=".9925" stop-color="#242424"/><stop offset="1" stop-color="#242424"/></linearGradient><linearGradient id="h1_15"><stop offset="0" stop-color="#050505"/><stop offset=".0824" stop-color="#090909"/><stop offset=".2239" stop-color="#151515"/><stop offset=".2831" stop-color="#161616"/><stop offset=".3744" stop-color="#0f0f0f"/><stop offset=".5464" stop-color="#000000"/><stop offset=".6593" stop-color="#010101"/><stop offset=".7238" stop-color="#060606"/><stop offset=".9172" stop-color="#212121"/><stop offset=".9871" stop-color="#272727"/><stop offset="1" stop-color="#272727"/></linearGradient><linearGradient id="h1_16"><stop offset="0" stop-color="#050505"/><stop offset=".0788" stop-color="#090909"/><stop offset=".2239" stop-color="#161616"/><stop offset=".2831" stop-color="#171717"/><stop offset=".369" stop-color="#101010"/><stop offset=".541" stop-color="#000000"/><stop offset=".6646" stop-color="#010101"/><stop offset=".7291" stop-color="#070707"/><stop offset=".9172" stop-color="#232323"/><stop offset=".9817" stop-color="#292929"/><stop offset="1" stop-color="#292929"/></linearGradient><linearGradient id="h1_17"><stop offset="0" stop-color="#050505"/><stop offset=".0806" stop-color="#090909"/><stop offset=".2239" stop-color="#161616"/><stop offset=".2831" stop-color="#171717"/><stop offset=".369" stop-color="#101010"/><stop offset=".541" stop-color="#000000"/><stop offset=".6593" stop-color="#000000"/><stop offset=".7238" stop-color="#070707"/><stop offset=".9172" stop-color="#232323"/><stop offset=".9817" stop-color="#292929"/><stop offset="1" stop-color="#292929"/></linearGradient><linearGradient id="h1_18"><stop offset="0" stop-color="#050505"/><stop offset=".086" stop-color="#080808"/><stop offset=".2239" stop-color="#141414"/><stop offset=".2831" stop-color="#151515"/><stop offset=".3852" stop-color="#0d0d0d"/><stop offset=".5518" stop-color="#000000"/><stop offset=".6539" stop-color="#010101"/><stop offset=".7184" stop-color="#060606"/><stop offset=".9226" stop-color="#232323"/><stop offset=".9871" stop-color="#282828"/><stop offset="1" stop-color="#282828"/></linearGradient><linearGradient id="h1_19"><stop offset="0" stop-color="#040404"/><stop offset=".0949" stop-color="#080808"/><stop offset=".2293" stop-color="#111111"/><stop offset=".2938" stop-color="#111111"/><stop offset=".5625" stop-color="#010101"/><stop offset=".6378" stop-color="#010101"/><stop offset=".713" stop-color="#060606"/><stop offset=".928" stop-color="#222222"/><stop offset=".9925" stop-color="#262626"/><stop offset="1" stop-color="#262626"/></linearGradient><linearGradient id="h1_20"><stop offset="0" stop-color="#040404"/><stop offset=".1111" stop-color="#080808"/><stop offset=".2401" stop-color="#0e0e0e"/><stop offset=".3207" stop-color="#0d0d0d"/><stop offset=".5733" stop-color="#020202"/><stop offset=".6539" stop-color="#030303"/><stop offset=".7291" stop-color="#080808"/><stop offset=".928" stop-color="#1f1f1f"/><stop offset=".9925" stop-color="#222222"/><stop offset="1" stop-color="#222222"/></linearGradient><linearGradient id="h1_21"><stop offset="0" stop-color="#040404"/><stop offset=".1379" stop-color="#080808"/><stop offset=".2562" stop-color="#0b0b0b"/><stop offset=".6001" stop-color="#030303"/><stop offset=".7023" stop-color="#060606"/><stop offset=".9441" stop-color="#1c1c1c"/><stop offset="1" stop-color="#1e1e1e"/></linearGradient><linearGradient id="h1_22"><stop offset="0" stop-color="#040404"/><stop offset=".2723" stop-color="#080808"/><stop offset=".6216" stop-color="#040404"/><stop offset=".7238" stop-color="#080808"/><stop offset=".9495" stop-color="#191919"/><stop offset="1" stop-color="#1a1a1a"/></linearGradient><linearGradient id="h1_23"><stop offset="0" stop-color="#030303"/><stop offset=".2938" stop-color="#060606"/><stop offset=".6593" stop-color="#060606"/><stop offset=".7721" stop-color="#0b0b0b"/><stop offset=".9602" stop-color="#151515"/><stop offset="1" stop-color="#161616"/></linearGradient><linearGradient id="h1_24"><stop offset="0" stop-color="#030303"/><stop offset=".6915" stop-color="#070707"/><stop offset=".9817" stop-color="#131313"/><stop offset="1" stop-color="#131313"/></linearGradient><linearGradient id="h1_25"><stop offset="0" stop-color="#030303"/><stop offset=".4174" stop-color="#050505"/><stop offset=".756" stop-color="#090909"/><stop offset=".9925" stop-color="#101010"/><stop offset="1" stop-color="#101010"/></linearGradient><linearGradient id="h1_26"><stop offset="0" stop-color="#030303"/><stop offset=".3959" stop-color="#050505"/><stop offset=".6216" stop-color="#080808"/><stop offset=".8527" stop-color="#0b0b0b"/><stop offset="1" stop-color="#0e0e0e"/></linearGradient><linearGradient id="h1_27"><stop offset="0" stop-color="#030303"/><stop offset=".3852" stop-color="#040404"/><stop offset=".6109" stop-color="#080808"/><stop offset="1" stop-color="#0c0c0c"/></linearGradient><linearGradient id="h1_28"><stop offset="0" stop-color="#030303"/><stop offset=".3798" stop-color="#040404"/><stop offset=".6055" stop-color="#080808"/><stop offset="1" stop-color="#0b0b0b"/></linearGradient><linearGradient id="h1_29"><stop offset="0" stop-color="#030303"/><stop offset=".3798" stop-color="#040404"/><stop offset=".6055" stop-color="#090909"/><stop offset="1" stop-color="#0b0b0b"/></linearGradient><linearGradient id="h1_30"><stop offset="0" stop-color="#030303"/><stop offset=".3798" stop-color="#040404"/><stop offset=".6055" stop-color="#090909"/><stop offset="1" stop-color="#0b0b0b"/></linearGradient><linearGradient id="h1_31"><stop offset="0" stop-color="#030303"/><stop offset=".3798" stop-color="#040404"/><stop offset=".6055" stop-color="#090909"/><stop offset="1" stop-color="#0b0b0b"/></linearGradient><linearGradient id="h1_32"><stop offset="0" stop-color="#030303"/><stop offset=".3798" stop-color="#040404"/><stop offset=".6109" stop-color="#090909"/><stop offset="1" stop-color="#0b0b0b"/></linearGradient><linearGradient id="h1_33"><stop offset="0" stop-color="#030303"/><stop offset=".3852" stop-color="#040404"/><stop offset=".6109" stop-color="#090909"/><stop offset="1" stop-color="#0c0c0c"/></linearGradient><linearGradient id="h1_34"><stop offset="0" stop-color="#040404"/><stop offset=".3905" stop-color="#050505"/><stop offset=".6163" stop-color="#090909"/><stop offset="1" stop-color="#0d0d0d"/></linearGradient><linearGradient id="h1_35"><stop offset="0" stop-color="#040404"/><stop offset=".2562" stop-color="#050505"/><stop offset=".4013" stop-color="#050505"/><stop offset=".6216" stop-color="#0a0a0a"/><stop offset="1" stop-color="#0e0e0e"/></linearGradient><linearGradient id="h1_36"><stop offset="0" stop-color="#040404"/><stop offset=".2132" stop-color="#060606"/><stop offset=".3798" stop-color="#050505"/><stop offset=".6324" stop-color="#0a0a0a"/><stop offset="1" stop-color="#0f0f0f"/></linearGradient><linearGradient id="h1_37"><stop offset="0" stop-color="#050505"/><stop offset=".1971" stop-color="#070707"/><stop offset=".3798" stop-color="#050505"/><stop offset=".6431" stop-color="#0b0b0b"/><stop offset="1" stop-color="#101010"/></linearGradient><linearGradient id="h1_38"><stop offset="0" stop-color="#050505"/><stop offset=".1863" stop-color="#080808"/><stop offset=".3798" stop-color="#060606"/><stop offset=".6646" stop-color="#0c0c0c"/><stop offset="1" stop-color="#121212"/></linearGradient><linearGradient id="h1_39"><stop offset="0" stop-color="#050505"/><stop offset=".1809" stop-color="#080808"/><stop offset=".3744" stop-color="#060606"/><stop offset=".799" stop-color="#101010"/><stop offset="1" stop-color="#151515"/></linearGradient><linearGradient id="h1_40"><stop offset="0" stop-color="#050505"/><stop offset=".1863" stop-color="#080808"/><stop offset=".3744" stop-color="#060606"/><stop offset=".9119" stop-color="#151515"/><stop offset="1" stop-color="#181818"/></linearGradient><linearGradient id="h1_41"><stop offset="0" stop-color="#050505"/><stop offset=".2024" stop-color="#080808"/><stop offset=".3744" stop-color="#070707"/><stop offset=".885" stop-color="#181818"/><stop offset="1" stop-color="#1d1d1d"/></linearGradient><linearGradient id="h1_42"><stop offset="0" stop-color="#050505"/><stop offset=".2347" stop-color="#070707"/><stop offset=".3798" stop-color="#070707"/><stop offset=".8259" stop-color="#191919"/><stop offset="1" stop-color="#232323"/></linearGradient><linearGradient id="h1_43"><stop offset="0" stop-color="#040404"/><stop offset=".3852" stop-color="#080808"/><stop offset=".7023" stop-color="#171717"/><stop offset=".8904" stop-color="#232323"/><stop offset=".9925" stop-color="#2b2b2b"/><stop offset="1" stop-color="#2b2b2b"/></linearGradient><linearGradient id="h1_44"><stop offset="0" stop-color="#040404"/><stop offset=".369" stop-color="#090909"/><stop offset=".541" stop-color="#121212"/><stop offset=".713" stop-color="#1d1d1d"/><stop offset=".8796" stop-color="#2a2a2a"/><stop offset=".9871" stop-color="#353535"/><stop offset="1" stop-color="#353535"/></linearGradient><linearGradient id="h1_45"><stop offset="0" stop-color="#030303"/><stop offset=".1917" stop-color="#060606"/><stop offset=".3852" stop-color="#0b0b0b"/><stop offset=".5357" stop-color="#141414"/><stop offset=".6969" stop-color="#222222"/><stop offset=".8689" stop-color="#333333"/><stop offset=".9871" stop-color="#434343"/><stop offset="1" stop-color="#434343"/></linearGradient><linearGradient id="h1_46"><stop offset="0" stop-color="#030303"/><stop offset=".1451" stop-color="#050505"/><stop offset=".3744" stop-color="#0d0d0d"/><stop offset=".5195" stop-color="#171717"/><stop offset=".6861" stop-color="#292929"/><stop offset=".7882" stop-color="#363636"/><stop offset=".8742" stop-color="#424242"/><stop offset=".971" stop-color="#545454"/><stop offset=".9925" stop-color="#565656"/><stop offset="1" stop-color="#565656"/></linearGradient><linearGradient id="h1_47"><stop offset="0" stop-color="#030303"/><stop offset=".1236" stop-color="#040404"/><stop offset=".3744" stop-color="#101010"/><stop offset=".5088" stop-color="#1c1c1c"/><stop offset=".6754" stop-color="#323232"/><stop offset=".7721" stop-color="#434343"/><stop offset=".8527" stop-color="#505050"/><stop offset=".9226" stop-color="#606060"/><stop offset=".9871" stop-color="#6e6e6e"/><stop offset="1" stop-color="#6e6e6e"/></linearGradient><linearGradient id="h1_48"><stop offset="0" stop-color="#030303"/><stop offset=".1111" stop-color="#040404"/><stop offset=".3475" stop-color="#121212"/><stop offset=".4819" stop-color="#1f1f1f"/><stop offset=".5518" stop-color="#2a2a2a"/><stop offset=".6754" stop-color="#404040"/><stop offset=".7614" stop-color="#535353"/><stop offset=".842" stop-color="#636363"/><stop offset=".9011" stop-color="#747474"/><stop offset=".9549" stop-color="#848484"/><stop offset=".9925" stop-color="#8c8c8c"/><stop offset="1" stop-color="#8c8c8c"/></linearGradient><linearGradient id="h1_49"><stop offset="0" stop-color="#030303"/><stop offset=".1039" stop-color="#040404"/><stop offset=".2293" stop-color="#0d0d0d"/><stop offset=".3852" stop-color="#1b1b1b"/><stop offset=".4927" stop-color="#282828"/><stop offset=".5571" stop-color="#353535"/><stop offset=".67" stop-color="#4e4e4e"/><stop offset=".756" stop-color="#676767"/><stop offset=".8366" stop-color="#7a7a7a"/><stop offset=".8957" stop-color="#8e8e8e"/><stop offset=".9441" stop-color="#a0a0a0"/><stop offset=".9871" stop-color="#adadad"/><stop offset="1" stop-color="#adadad"/></linearGradient><linearGradient id="h1_50"><stop offset="0" stop-color="#030303"/><stop offset=".0985" stop-color="#040404"/><stop offset=".2078" stop-color="#0e0e0e"/><stop offset=".3852" stop-color="#202020"/><stop offset=".4873" stop-color="#303030"/><stop offset=".5357" stop-color="#3a3a3a"/><stop offset=".6646" stop-color="#5d5d5d"/><stop offset=".7506" stop-color="#7b7b7b"/><stop offset=".8312" stop-color="#929292"/><stop offset=".8904" stop-color="#a8a8a8"/><stop offset=".9441" stop-color="#c1c1c1"/><stop offset=".9871" stop-color="#cfcfcf"/><stop offset="1" stop-color="#d0d0d0"/></linearGradient><linearGradient id="h1_51"><stop offset="0" stop-color="#030303"/><stop offset=".0949" stop-color="#040404"/><stop offset=".1971" stop-color="#0e0e0e"/><stop offset=".3905" stop-color="#262626"/><stop offset=".4873" stop-color="#373737"/><stop offset=".5357" stop-color="#434343"/><stop offset=".6324" stop-color="#606060"/><stop offset=".6754" stop-color="#6f6f6f"/><stop offset=".7453" stop-color="#8c8c8c"/><stop offset=".8312" stop-color="#a7a7a7"/><stop offset=".885" stop-color="#bebebe"/><stop offset=".9387" stop-color="#dadada"/><stop offset=".9871" stop-color="#ececec"/><stop offset="1" stop-color="#ededed"/></linearGradient><linearGradient id="h1_52"><stop offset="0" stop-color="#030303"/><stop offset=".0932" stop-color="#040404"/><stop offset=".1917" stop-color="#0f0f0f"/><stop offset=".3905" stop-color="#2a2a2a"/><stop offset=".4819" stop-color="#3a3a3a"/><stop offset=".5249" stop-color="#454545"/><stop offset=".6324" stop-color="#686868"/><stop offset=".6754" stop-color="#777777"/><stop offset=".7453" stop-color="#969696"/><stop offset=".8312" stop-color="#b3b3b3"/><stop offset=".885" stop-color="#cccccc"/><stop offset=".9387" stop-color="#e9e9e9"/><stop offset=".9817" stop-color="#fbfbfb"/><stop offset=".9925" stop-color="#fefefe"/><stop offset="1" stop-color="#fefefe"/></linearGradient><linearGradient id="h1_53"><stop offset="0" stop-color="#030303"/><stop offset=".0932" stop-color="#040404"/><stop offset=".1971" stop-color="#0f0f0f"/><stop offset=".3905" stop-color="#292929"/><stop offset=".4819" stop-color="#3a3a3a"/><stop offset=".5249" stop-color="#444444"/><stop offset=".6324" stop-color="#676767"/><stop offset=".6754" stop-color="#777777"/><stop offset=".7453" stop-color="#959595"/><stop offset=".8312" stop-color="#b3b3b3"/><stop offset=".885" stop-color="#cbcbcb"/><stop offset=".9387" stop-color="#e8e8e8"/><stop offset=".9817" stop-color="#fafafa"/><stop offset=".9925" stop-color="#fdfdfd"/><stop offset="1" stop-color="#fdfdfd"/></linearGradient><linearGradient id="h1_54"><stop offset="0" stop-color="#030303"/><stop offset=".0949" stop-color="#040404"/><stop offset=".1971" stop-color="#0e0e0e"/><stop offset=".3905" stop-color="#262626"/><stop offset=".4873" stop-color="#363636"/><stop offset=".5357" stop-color="#424242"/><stop offset=".6324" stop-color="#5f5f5f"/><stop offset=".6754" stop-color="#6e6e6e"/><stop offset=".7453" stop-color="#8a8a8a"/><stop offset=".8312" stop-color="#a5a5a5"/><stop offset=".885" stop-color="#bcbcbc"/><stop offset=".9387" stop-color="#d7d7d7"/><stop offset=".9871" stop-color="#eaeaea"/><stop offset="1" stop-color="#ebebeb"/></linearGradient><linearGradient id="h1_55"><stop offset="0" stop-color="#030303"/><stop offset=".0985" stop-color="#040404"/><stop offset=".2078" stop-color="#0d0d0d"/><stop offset=".3852" stop-color="#202020"/><stop offset=".4873" stop-color="#2f2f2f"/><stop offset=".541" stop-color="#3b3b3b"/><stop offset=".67" stop-color="#5d5d5d"/><stop offset=".7506" stop-color="#797979"/><stop offset=".8312" stop-color="#8f8f8f"/><stop offset=".8904" stop-color="#a6a6a6"/><stop offset=".9441" stop-color="#bdbdbd"/><stop offset=".9871" stop-color="#cccccc"/><stop offset="1" stop-color="#cdcdcd"/></linearGradient><linearGradient id="h1_56"><stop offset="0" stop-color="#030303"/><stop offset=".1039" stop-color="#040404"/><stop offset=".2347" stop-color="#0d0d0d"/><stop offset=".3852" stop-color="#1a1a1a"/><stop offset=".4927" stop-color="#272727"/><stop offset=".5571" stop-color="#343434"/><stop offset=".67" stop-color="#4c4c4c"/><stop offset=".756" stop-color="#656565"/><stop offset=".8366" stop-color="#787878"/><stop offset=".8957" stop-color="#8b8b8b"/><stop offset=".9441" stop-color="#9d9d9d"/><stop offset=".9871" stop-color="#a9a9a9"/><stop offset="1" stop-color="#aaaaaa"/></linearGradient><linearGradient id="h1_57"><stop offset="0" stop-color="#030303"/><stop offset=".1129" stop-color="#040404"/><stop offset=".3475" stop-color="#121212"/><stop offset=".4819" stop-color="#1e1e1e"/><stop offset=".5518" stop-color="#292929"/><stop offset=".6754" stop-color="#3e3e3e"/><stop offset=".7614" stop-color="#525252"/><stop offset=".842" stop-color="#616161"/><stop offset=".9065" stop-color="#737373"/><stop offset=".9602" stop-color="#828282"/><stop offset=".9925" stop-color="#888888"/><stop offset="1" stop-color="#888888"/></linearGradient><linearGradient id="h1_58"><stop offset="0" stop-color="#030303"/><stop offset=".1254" stop-color="#040404"/><stop offset=".3744" stop-color="#101010"/><stop offset=".5088" stop-color="#1b1b1b"/><stop offset=".6754" stop-color="#313131"/><stop offset=".7721" stop-color="#424242"/><stop offset=".8527" stop-color="#4e4e4e"/><stop offset=".9226" stop-color="#5e5e5e"/><stop offset=".9871" stop-color="#6b6b6b"/><stop offset="1" stop-color="#6b6b6b"/></linearGradient><linearGradient id="h1_59"><stop offset="0" stop-color="#030303"/><stop offset=".1451" stop-color="#040404"/><stop offset=".3744" stop-color="#0c0c0c"/><stop offset=".5195" stop-color="#171717"/><stop offset=".6861" stop-color="#282828"/><stop offset=".7936" stop-color="#363636"/><stop offset=".8796" stop-color="#424242"/><stop offset=".971" stop-color="#515151"/><stop offset=".9925" stop-color="#545454"/><stop offset="1" stop-color="#545454"/></linearGradient><linearGradient id="h1_60"><stop offset="0" stop-color="#030303"/><stop offset=".1756" stop-color="#050505"/><stop offset=".3852" stop-color="#0b0b0b"/><stop offset=".541" stop-color="#151515"/><stop offset=".6969" stop-color="#212121"/><stop offset=".8689" stop-color="#323232"/><stop offset=".9871" stop-color="#424242"/><stop offset="1" stop-color="#424242"/></linearGradient><linearGradient id="h1_61"><stop offset="0" stop-color="#030303"/><stop offset=".2132" stop-color="#050505"/><stop offset=".3905" stop-color="#090909"/><stop offset=".67" stop-color="#191919"/><stop offset=".8796" stop-color="#292929"/><stop offset=".9871" stop-color="#343434"/><stop offset="1" stop-color="#343434"/></linearGradient><linearGradient id="h1_62"><stop offset="0" stop-color="#030303"/><stop offset=".2884" stop-color="#050505"/><stop offset=".4389" stop-color="#0a0a0a"/><stop offset=".7399" stop-color="#191919"/><stop offset=".8904" stop-color="#222222"/><stop offset=".9925" stop-color="#2a2a2a"/><stop offset="1" stop-color="#2a2a2a"/></linearGradient><linearGradient id="h1_63"><stop offset="0" stop-color="#030303"/><stop offset=".3153" stop-color="#060606"/><stop offset=".498" stop-color="#0c0c0c"/><stop offset=".8527" stop-color="#1d1d1d"/><stop offset=".9925" stop-color="#272727"/><stop offset="1" stop-color="#272727"/></linearGradient><linearGradient id="h1_64"><stop offset="0" stop-color="#030303"/><stop offset=".3153" stop-color="#060606"/><stop offset=".498" stop-color="#0c0c0c"/><stop offset=".8527" stop-color="#1d1d1d"/><stop offset=".9925" stop-color="#272727"/><stop offset="1" stop-color="#272727"/></linearGradient><clipPath id="cp1"><rect x="743.8" y="20" width="546.2" height="182.4"/></clipPath></defs>
<g clip-path="url(#cp1)"><g filter="url(#rb)"><rect x="737.8" y="14" width="558.2" height="3.5" fill="url(#h1_0)"/><rect x="737.8" y="17" width="558.2" height="3.5" fill="url(#h1_1)"/><rect x="737.8" y="20" width="558.2" height="3.5" fill="url(#h1_2)"/><rect x="737.8" y="23" width="558.2" height="3.5" fill="url(#h1_3)"/><rect x="737.8" y="26" width="558.2" height="3.5" fill="url(#h1_4)"/><rect x="737.8" y="29" width="558.2" height="3.5" fill="url(#h1_5)"/><rect x="737.8" y="32" width="558.2" height="3.5" fill="url(#h1_6)"/><rect x="737.8" y="35" width="558.2" height="3.5" fill="url(#h1_7)"/><rect x="737.8" y="38" width="558.2" height="3.5" fill="url(#h1_8)"/><rect x="737.8" y="41" width="558.2" height="3.5" fill="url(#h1_9)"/><rect x="737.8" y="44" width="558.2" height="3.5" fill="url(#h1_10)"/><rect x="737.8" y="47" width="558.2" height="3.5" fill="url(#h1_11)"/><rect x="737.8" y="50" width="558.2" height="3.5" fill="url(#h1_12)"/><rect x="737.8" y="53" width="558.2" height="3.5" fill="url(#h1_13)"/><rect x="737.8" y="56" width="558.2" height="3.5" fill="url(#h1_14)"/><rect x="737.8" y="59" width="558.2" height="3.5" fill="url(#h1_15)"/><rect x="737.8" y="62" width="558.2" height="3.5" fill="url(#h1_16)"/><rect x="737.8" y="65" width="558.2" height="3.5" fill="url(#h1_17)"/><rect x="737.8" y="68" width="558.2" height="3.5" fill="url(#h1_18)"/><rect x="737.8" y="71" width="558.2" height="3.5" fill="url(#h1_19)"/><rect x="737.8" y="74" width="558.2" height="3.5" fill="url(#h1_20)"/><rect x="737.8" y="77" width="558.2" height="3.5" fill="url(#h1_21)"/><rect x="737.8" y="80" width="558.2" height="3.5" fill="url(#h1_22)"/><rect x="737.8" y="83" width="558.2" height="3.5" fill="url(#h1_23)"/><rect x="737.8" y="86" width="558.2" height="3.5" fill="url(#h1_24)"/><rect x="737.8" y="89" width="558.2" height="3.5" fill="url(#h1_25)"/><rect x="737.8" y="92" width="558.2" height="3.5" fill="url(#h1_26)"/><rect x="737.8" y="95" width="558.2" height="3.5" fill="url(#h1_27)"/><rect x="737.8" y="98" width="558.2" height="3.5" fill="url(#h1_28)"/><rect x="737.8" y="101" width="558.2" height="3.5" fill="url(#h1_29)"/><rect x="737.8" y="104" width="558.2" height="3.5" fill="url(#h1_30)"/><rect x="737.8" y="107" width="558.2" height="3.5" fill="url(#h1_31)"/><rect x="737.8" y="110" width="558.2" height="3.5" fill="url(#h1_32)"/><rect x="737.8" y="113" width="558.2" height="3.5" fill="url(#h1_33)"/><rect x="737.8" y="116" width="558.2" height="3.5" fill="url(#h1_34)"/><rect x="737.8" y="119" width="558.2" height="3.5" fill="url(#h1_35)"/><rect x="737.8" y="122" width="558.2" height="3.5" fill="url(#h1_36)"/><rect x="737.8" y="125" width="558.2" height="3.5" fill="url(#h1_37)"/><rect x="737.8" y="128" width="558.2" height="3.5" fill="url(#h1_38)"/><rect x="737.8" y="131" width="558.2" height="3.5" fill="url(#h1_39)"/><rect x="737.8" y="134" width="558.2" height="3.5" fill="url(#h1_40)"/><rect x="737.8" y="137" width="558.2" height="3.5" fill="url(#h1_41)"/><rect x="737.8" y="140" width="558.2" height="3.5" fill="url(#h1_42)"/><rect x="737.8" y="143" width="558.2" height="3.5" fill="url(#h1_43)"/><rect x="737.8" y="146" width="558.2" height="3.5" fill="url(#h1_44)"/><rect x="737.8" y="149" width="558.2" height="3.5" fill="url(#h1_45)"/><rect x="737.8" y="152" width="558.2" height="3.5" fill="url(#h1_46)"/><rect x="737.8" y="155" width="558.2" height="3.5" fill="url(#h1_47)"/><rect x="737.8" y="158" width="558.2" height="3.5" fill="url(#h1_48)"/><rect x="737.8" y="161" width="558.2" height="3.5" fill="url(#h1_49)"/><rect x="737.8" y="164" width="558.2" height="3.5" fill="url(#h1_50)"/><rect x="737.8" y="167" width="558.2" height="3.5" fill="url(#h1_51)"/><rect x="737.8" y="170" width="558.2" height="3.5" fill="url(#h1_52)"/><rect x="737.8" y="173" width="558.2" height="3.5" fill="url(#h1_53)"/><rect x="737.8" y="176" width="558.2" height="3.5" fill="url(#h1_54)"/><rect x="737.8" y="179" width="558.2" height="3.5" fill="url(#h1_55)"/><rect x="737.8" y="182" width="558.2" height="3.5" fill="url(#h1_56)"/><rect x="737.8" y="185" width="558.2" height="3.5" fill="url(#h1_57)"/><rect x="737.8" y="188" width="558.2" height="3.5" fill="url(#h1_58)"/><rect x="737.8" y="191" width="558.2" height="3.5" fill="url(#h1_59)"/><rect x="737.8" y="194" width="558.2" height="3.5" fill="url(#h1_60)"/><rect x="737.8" y="197" width="558.2" height="3.5" fill="url(#h1_61)"/><rect x="737.8" y="200" width="558.2" height="3.5" fill="url(#h1_62)"/><rect x="737.8" y="203" width="558.2" height="3.5" fill="url(#h1_63)"/><rect x="737.8" y="206" width="558.2" height="3.5" fill="url(#h1_64)"/></g></g>
<rect x="743.8" y="20.0" width="546.2" height="182.4" fill="none" stroke="#808080" stroke-width="0.7"/>
<line x1="880.8" y1="202.4" x2="880.8" y2="197.4" stroke="#7a7a7a" stroke-width="0.8"/>
<text transform="translate(880.8 238.8) scale(1 1.07)" text-anchor="middle" font-size="34" fill="#666">0.5</text>
<line x1="1017.0" y1="202.4" x2="1017.0" y2="197.4" stroke="#7a7a7a" stroke-width="0.8"/>
<text transform="translate(1017.0 238.8) scale(1 1.07)" text-anchor="middle" font-size="34" fill="#666">1</text>
<line x1="1153.4" y1="202.4" x2="1153.4" y2="197.4" stroke="#7a7a7a" stroke-width="0.8"/>
<text transform="translate(1153.4 238.8) scale(1 1.07)" text-anchor="middle" font-size="34" fill="#666">1.5</text>
<text transform="translate(1289.8 238.8) scale(1 1.07)" text-anchor="middle" font-size="34" fill="#666">2</text>
<line x1="743.8" y1="111.2" x2="748.8" y2="111.2" stroke="#7a7a7a" stroke-width="0.8"/>
<text transform="translate(713.1 32.0) scale(1 1.07)" text-anchor="end" font-size="34" fill="#666">2</text>
<text x="738.7" y="32.0" text-anchor="end" font-size="35.5" fill="#666" font-style="italic">π</text>
<text x="738.7" y="123.3" text-anchor="end" font-size="35.5" fill="#666" font-style="italic">π</text>
<text transform="translate(739.1 214.3) scale(1 1.07)" text-anchor="end" font-size="34" fill="#666">0</text>
<defs><linearGradient id="cb1"><stop offset="0" stop-color="#781c86"/><stop offset=".05" stop-color="#581da0"/><stop offset=".1" stop-color="#462cb7"/><stop offset=".15" stop-color="#4040c7"/><stop offset=".2" stop-color="#3f5fd0"/><stop offset=".25" stop-color="#447ccd"/><stop offset=".3" stop-color="#4b90c0"/><stop offset=".35" stop-color="#569eb0"/><stop offset=".4" stop-color="#62a99c"/><stop offset=".45" stop-color="#72b385"/><stop offset=".5" stop-color="#83ba70"/><stop offset=".55" stop-color="#94bd61"/><stop offset=".6" stop-color="#a7be54"/><stop offset=".65" stop-color="#bbbc48"/><stop offset=".7" stop-color="#cbb742"/><stop offset=".75" stop-color="#d8ac3c"/><stop offset=".8" stop-color="#e29c38"/><stop offset=".85" stop-color="#e68032"/><stop offset=".9" stop-color="#e4662d"/><stop offset=".95" stop-color="#e04628"/><stop offset="1" stop-color="#db2122"/></linearGradient></defs>
<rect x="838.5" y="270.6" width="332.6" height="22.4" fill="url(#cb1)"/>
<line x1="841.4" y1="293.0" x2="841.4" y2="300.3" stroke="#cbcbcb" stroke-width="1.2"/>
<text transform="translate(841.4 329.8) scale(1 1.05)" text-anchor="middle" font-size="27.6" fill="#666">0</text>
<line x1="923.8" y1="293.0" x2="923.8" y2="300.3" stroke="#cbcbcb" stroke-width="1.2"/>
<text transform="translate(923.8 329.8) scale(1 1.05)" text-anchor="middle" font-size="27.6" fill="#666">3</text>
<line x1="1006.3" y1="293.0" x2="1006.3" y2="300.3" stroke="#cbcbcb" stroke-width="1.2"/>
<text transform="translate(1006.3 329.8) scale(1 1.05)" text-anchor="middle" font-size="27.6" fill="#666">6</text>
<line x1="1088.7" y1="293.0" x2="1088.7" y2="300.3" stroke="#cbcbcb" stroke-width="1.2"/>
<text transform="translate(1088.7 329.8) scale(1 1.05)" text-anchor="middle" font-size="27.6" fill="#666">9</text>
<line x1="1171.1" y1="293.0" x2="1171.1" y2="300.3" stroke="#cbcbcb" stroke-width="1.2"/>
<text transform="translate(1171.1 329.8) scale(1 1.05)" text-anchor="middle" font-size="27.6" fill="#666">12</text>
<g class="cap" font-size="33" fill="#111"><text x="931.2" y="372.8" font-size="35.5">(</text><text x="942.8" y="373.5">b</text><text x="962.2" y="372.8" font-size="35.5">)</text><text x="988.6" y="373.5" font-style="italic">j</text><text transform="translate(1009.5 375.5) scale(1.32 1)">=</text><text x="1045.7" y="373.5">1</text></g>
<defs><linearGradient id="h2_0"><stop offset="0" stop-color="#323232"/><stop offset=".6915" stop-color="#333333"/><stop offset=".842" stop-color="#3c3c3c"/><stop offset=".9119" stop-color="#414141"/><stop offset=".9764" stop-color="#494949"/><stop offset="1" stop-color="#4a4a4a"/></linearGradient><linearGradient id="h2_1"><stop offset="0" stop-color="#323232"/><stop offset=".6915" stop-color="#333333"/><stop offset=".842" stop-color="#3c3c3c"/><stop offset=".9119" stop-color="#414141"/><stop offset=".9764" stop-color="#494949"/><stop offset="1" stop-color="#4a4a4a"/></linearGradient><linearGradient id="h2_2"><stop offset="0" stop-color="#323232"/><stop offset=".6915" stop-color="#333333"/><stop offset=".842" stop-color="#3c3c3c"/><stop offset=".9119" stop-color="#414141"/><stop offset=".9764" stop-color="#494949"/><stop offset="1" stop-color="#494949"/></linearGradient><linearGradient id="h2_3"><stop offset="0" stop-color="#323232"/><stop offset=".6861" stop-color="#333333"/><stop offset=".8312" stop-color="#3b3b3b"/><stop offset=".9119" stop-color="#404040"/><stop offset=".9764" stop-color="#484848"/><stop offset="1" stop-color="#494949"/></linearGradient><linearGradient id="h2_4"><stop offset="0" stop-color="#323232"/><stop offset=".6593" stop-color="#323232"/><stop offset=".7775" stop-color="#373737"/><stop offset=".9119" stop-color="#3f3f3f"/><stop offset=".9764" stop-color="#474747"/><stop offset="1" stop-color="#474747"/></linearGradient><linearGradient id="h2_5"><stop offset="0" stop-color="#313131"/><stop offset=".541" stop-color="#303030"/><stop offset=".7076" stop-color="#333333"/><stop offset=".9119" stop-color="#3d3d3d"/><stop offset=".9764" stop-color="#454545"/><stop offset="1" stop-color="#454545"/></linearGradient><linearGradient id="h2_6"><stop offset="0" stop-color="#303030"/><stop offset=".1756" stop-color="#313131"/><stop offset=".4819" stop-color="#2e2e2e"/><stop offset=".713" stop-color="#323232"/><stop offset=".9119" stop-color="#3c3c3c"/><stop offset=".9764" stop-color="#434343"/><stop offset="1" stop-color="#434343"/></linearGradient><linearGradient id="h2_7"><stop offset="0" stop-color="#2f2f2f"/><stop offset=".1147" stop-color="#313131"/><stop offset=".455" stop-color="#2c2c2c"/><stop offset=".7291" stop-color="#333333"/><stop offset=".9172" stop-color="#3b3b3b"/><stop offset=".9764" stop-color="#414141"/><stop offset="1" stop-color="#414141"/></linearGradient><linearGradient id="h2_8"><stop offset="0" stop-color="#2e2e2e"/><stop offset=".0932" stop-color="#323232"/><stop offset=".3529" stop-color="#2a2a2a"/><stop offset=".4497" stop-color="#282828"/><stop offset=".756" stop-color="#353535"/><stop offset=".8796" stop-color="#383838"/><stop offset=".9226" stop-color="#3a3a3a"/><stop offset=".9817" stop-color="#3f3f3f"/><stop offset="1" stop-color="#3f3f3f"/></linearGradient><linearGradient id="h2_9"><stop offset="0" stop-color="#2e2e2e"/><stop offset=".0412" stop-color="#303030"/><stop offset=".0806" stop-color="#333333"/><stop offset=".1971" stop-color="#2f2f2f"/><stop offset=".369" stop-color="#262626"/><stop offset=".4443" stop-color="#242424"/><stop offset=".5303" stop-color="#282828"/><stop offset=".799" stop-color="#383838"/><stop offset=".9172" stop-color="#3a3a3a"/><stop offset=".9817" stop-color="#3d3d3d"/><stop offset="1" stop-color="#3d3d3d"/></linearGradient><linearGradient id="h2_10"><stop offset="0" stop-color="#2d2d2d"/><stop offset=".0322" stop-color="#2f2f2f"/><stop offset=".0752" stop-color="#363636"/><stop offset=".1397" stop-color="#333333"/><stop offset=".3368" stop-color="#242424"/><stop offset=".4174" stop-color="#1e1e1e"/><stop offset=".4712" stop-color="#1f1f1f"/><stop offset=".6969" stop-color="#343434"/><stop offset=".799" stop-color="#3b3b3b"/><stop offset=".8742" stop-color="#3b3b3b"/><stop offset=".9226" stop-color="#3b3b3b"/><stop offset=".9764" stop-color="#3c3c3c"/><stop offset="1" stop-color="#3c3c3c"/></linearGradient><linearGradient id="h2_11"><stop offset="0" stop-color="#2d2d2d"/><stop offset=".0233" stop-color="#2e2e2e"/><stop offset=".0735" stop-color="#3a3a3a"/><stop offset=".1182" stop-color="#383838"/><stop offset=".326" stop-color="#222222"/><stop offset=".4013" stop-color="#191919"/><stop offset=".4497" stop-color="#181818"/><stop offset=".5034" stop-color="#1d1d1d"/><stop offset=".6431" stop-color="#303030"/><stop offset=".7721" stop-color="#3e3e3e"/><stop offset=".8366" stop-color="#404040"/><stop offset=".9226" stop-color="#3d3d3d"/><stop offset=".971" stop-color="#3c3c3c"/><stop offset="1" stop-color="#3b3b3b"/></linearGradient><linearGradient id="h2_12"><stop offset="0" stop-color="#2c2c2c"/><stop offset=".0197" stop-color="#2e2e2e"/><stop offset=".043" stop-color="#343434"/><stop offset=".0699" stop-color="#3e3e3e"/><stop offset=".0914" stop-color="#3f3f3f"/><stop offset=".1397" stop-color="#3a3a3a"/><stop offset=".2562" stop-color="#292929"/><stop offset=".3475" stop-color="#1a1a1a"/><stop offset=".4067" stop-color="#111111"/><stop offset=".4443" stop-color="#101010"/><stop offset=".4873" stop-color="#141414"/><stop offset=".6378" stop-color="#303030"/><stop offset=".756" stop-color="#414141"/><stop offset=".8151" stop-color="#454545"/><stop offset=".8689" stop-color="#444444"/><stop offset=".9226" stop-color="#404040"/><stop offset=".9602" stop-color="#3e3e3e"/><stop offset=".9925" stop-color="#3a3a3a"/><stop offset="1" stop-color="#3a3a3a"/></linearGradient><linearGradient id="h2_13"><stop offset="0" stop-color="#2d2d2d"/><stop offset=".0161" stop-color="#2d2d2d"/><stop offset=".0358" stop-color="#343434"/><stop offset=".0681" stop-color="#434343"/><stop offset=".0824" stop-color="#454545"/><stop offset=".12" stop-color="#414141"/><stop offset=".2401" stop-color="#2a2a2a"/><stop offset=".3207" stop-color="#1b1b1b"/><stop offset=".3905" stop-color="#0d0d0d"/><stop offset=".4282" stop-color="#090909"/><stop offset=".4658" stop-color="#0b0b0b"/><stop offset=".5088" stop-color="#131313"/><stop offset=".6216" stop-color="#2e2e2e"/><stop offset=".7453" stop-color="#454545"/><stop offset=".799" stop-color="#4b4b4b"/><stop offset=".8474" stop-color="#4b4b4b"/><stop offset=".9549" stop-color="#414141"/><stop offset=".9871" stop-color="#383838"/><stop offset="1" stop-color="#383838"/></linearGradient><linearGradient id="h2_14"><stop offset="0" stop-color="#2d2d2d"/><stop offset=".0143" stop-color="#2e2e2e"/><stop offset=".0322" stop-color="#343434"/><stop offset=".0663" stop-color="#474747"/><stop offset=".0788" stop-color="#4a4a4a"/><stop offset=".1111" stop-color="#484848"/><stop offset=".1594" stop-color="#3d3d3d"/><stop offset=".2347" stop-color="#2b2b2b"/><stop offset=".3153" stop-color="#1a1a1a"/><stop offset=".3905" stop-color="#070707"/><stop offset=".4228" stop-color="#030303"/><stop offset=".455" stop-color="#040404"/><stop offset=".4927" stop-color="#0a0a0a"/><stop offset=".6216" stop-color="#2e2e2e"/><stop offset=".7399" stop-color="#494949"/><stop offset=".7882" stop-color="#505050"/><stop offset=".8312" stop-color="#525252"/><stop offset=".8742" stop-color="#4e4e4e"/><stop offset=".9495" stop-color="#444444"/><stop offset=".971" stop-color="#3c3c3c"/><stop offset=".9871" stop-color="#363636"/><stop offset="1" stop-color="#363636"/></linearGradient><linearGradient id="h2_15"><stop offset="0" stop-color="#2d2d2d"/><stop offset=".0143" stop-color="#2e2e2e"/><stop offset=".0305" stop-color="#343434"/><stop offset=".052" stop-color="#424242"/><stop offset=".0681" stop-color="#4c4c4c"/><stop offset=".0788" stop-color="#4f4f4f"/><stop offset=".1093" stop-color="#4c4c4c"/><stop offset=".1523" stop-color="#424242"/><stop offset=".2239" stop-color="#2e2e2e"/><stop offset=".3099" stop-color="#1a1a1a"/><stop offset=".3852" stop-color="#040404"/><stop offset=".412" stop-color="#000000"/><stop offset=".4658" stop-color="#010101"/><stop offset=".5034" stop-color="#090909"/><stop offset=".6163" stop-color="#2d2d2d"/><stop offset=".7345" stop-color="#4b4b4b"/><stop offset=".7829" stop-color="#545454"/><stop offset=".8205" stop-color="#565656"/><stop offset=".8635" stop-color="#545454"/><stop offset=".9441" stop-color="#484848"/><stop offset=".9602" stop-color="#424242"/><stop offset=".9817" stop-color="#363636"/><stop offset=".9871" stop-color="#343434"/><stop offset="1" stop-color="#333333"/></linearGradient><linearGradient id="h2_16"><stop offset="0" stop-color="#2d2d2d"/><stop offset=".0143" stop-color="#2e2e2e"/><stop offset=".0305" stop-color="#343434"/><stop offset=".0502" stop-color="#424242"/><stop offset=".0663" stop-color="#4d4d4d"/><stop offset=".077" stop-color="#515151"/><stop offset=".1057" stop-color="#4f4f4f"/><stop offset=".1433" stop-color="#464646"/><stop offset=".2186" stop-color="#303030"/><stop offset=".3099" stop-color="#191919"/><stop offset=".3852" stop-color="#020202"/><stop offset=".3959" stop-color="#000000"/><stop offset=".4765" stop-color="#010101"/><stop offset=".5195" stop-color="#0d0d0d"/><stop offset=".6109" stop-color="#2c2c2c"/><stop offset=".7291" stop-color="#4c4c4c"/><stop offset=".7775" stop-color="#555555"/><stop offset=".8151" stop-color="#595959"/><stop offset=".8527" stop-color="#575757"/><stop offset=".9441" stop-color="#494949"/><stop offset=".9602" stop-color="#424242"/><stop offset=".9817" stop-color="#343434"/><stop offset=".9871" stop-color="#323232"/><stop offset="1" stop-color="#323232"/></linearGradient><linearGradient id="h2_17"><stop offset="0" stop-color="#2d2d2d"/><stop offset=".0143" stop-color="#2e2e2e"/><stop offset=".0305" stop-color="#343434"/><stop offset=".0502" stop-color="#424242"/><stop offset=".0663" stop-color="#4d4d4d"/><stop offset=".077" stop-color="#505050"/><stop offset=".1057" stop-color="#4e4e4e"/><stop offset=".1451" stop-color="#454545"/><stop offset=".2186" stop-color="#2f2f2f"/><stop offset=".3099" stop-color="#191919"/><stop offset=".3852" stop-color="#030303"/><stop offset=".4013" stop-color="#000000"/><stop offset=".4712" stop-color="#000000"/><stop offset=".5088" stop-color="#0a0a0a"/><stop offset=".6109" stop-color="#2c2c2c"/><stop offset=".7291" stop-color="#4b4b4b"/><stop offset=".7775" stop-color="#555555"/><stop offset=".8151" stop-color="#585858"/><stop offset=".8527" stop-color="#575757"/><stop offset=".9441" stop-color="#494949"/><stop offset=".9602" stop-color="#424242"/><stop offset=".9817" stop-color="#353535"/><stop offset=".9871" stop-color="#333333"/><stop offset="1" stop-color="#323232"/></linearGradient><linearGradient id="h2_18"><stop offset="0" stop-color="#2d2d2d"/><stop offset=".0143" stop-color="#2e2e2e"/><stop offset=".0322" stop-color="#343434"/><stop offset=".0663" stop-color="#4a4a4a"/><stop offset=".077" stop-color="#4d4d4d"/><stop offset=".1075" stop-color="#4b4b4b"/><stop offset=".1505" stop-color="#414141"/><stop offset=".2239" stop-color="#2e2e2e"/><stop offset=".3099" stop-color="#1a1a1a"/><stop offset=".3852" stop-color="#050505"/><stop offset=".4174" stop-color="#000000"/><stop offset=".455" stop-color="#000000"/><stop offset=".4873" stop-color="#060606"/><stop offset=".5464" stop-color="#181818"/><stop offset=".6216" stop-color="#2e2e2e"/><stop offset=".7345" stop-color="#4a4a4a"/><stop offset=".7829" stop-color="#535353"/><stop offset=".8259" stop-color="#555555"/><stop offset=".8689" stop-color="#525252"/><stop offset=".9441" stop-color="#474747"/><stop offset=".9602" stop-color="#424242"/><stop offset=".9817" stop-color="#363636"/><stop offset=".9925" stop-color="#343434"/><stop offset="1" stop-color="#343434"/></linearGradient><linearGradient id="h2_19"><stop offset="0" stop-color="#2c2c2c"/><stop offset=".0161" stop-color="#2d2d2d"/><stop offset=".034" stop-color="#333333"/><stop offset=".0663" stop-color="#454545"/><stop offset=".0788" stop-color="#484848"/><stop offset=".1129" stop-color="#454545"/><stop offset=".1702" stop-color="#393939"/><stop offset=".2454" stop-color="#292929"/><stop offset=".3207" stop-color="#191919"/><stop offset=".3905" stop-color="#090909"/><stop offset=".4282" stop-color="#040404"/><stop offset=".4604" stop-color="#060606"/><stop offset=".498" stop-color="#0d0d0d"/><stop offset=".6216" stop-color="#2e2e2e"/><stop offset=".7399" stop-color="#474747"/><stop offset=".7936" stop-color="#4e4e4e"/><stop offset=".8366" stop-color="#4f4f4f"/><stop offset=".885" stop-color="#4b4b4b"/><stop offset=".9495" stop-color="#434343"/><stop offset=".971" stop-color="#3c3c3c"/><stop offset=".9871" stop-color="#373737"/><stop offset="1" stop-color="#363636"/></linearGradient><linearGradient id="h2_20"><stop offset="0" stop-color="#2c2c2c"/><stop offset=".0179" stop-color="#2d2d2d"/><stop offset=".0394" stop-color="#343434"/><stop offset=".0681" stop-color="#404040"/><stop offset=".0824" stop-color="#424242"/><stop offset=".1218" stop-color="#3f3f3f"/><stop offset=".2454" stop-color="#292929"/><stop offset=".326" stop-color="#1b1b1b"/><stop offset=".3959" stop-color="#0d0d0d"/><stop offset=".4335" stop-color="#0b0b0b"/><stop offset=".4712" stop-color="#0d0d0d"/><stop offset=".5195" stop-color="#161616"/><stop offset=".6216" stop-color="#2d2d2d"/><stop offset=".7453" stop-color="#434343"/><stop offset=".799" stop-color="#484848"/><stop offset=".8474" stop-color="#484848"/><stop offset=".9334" stop-color="#414141"/><stop offset=".9602" stop-color="#3e3e3e"/><stop offset=".9871" stop-color="#383838"/><stop offset="1" stop-color="#383838"/></linearGradient><linearGradient id="h2_21"><stop offset="0" stop-color="#2b2b2b"/><stop offset=".0197" stop-color="#2c2c2c"/><stop offset=".0448" stop-color="#333333"/><stop offset=".0699" stop-color="#3b3b3b"/><stop offset=".0949" stop-color="#3b3b3b"/><stop offset=".1487" stop-color="#363636"/><stop offset=".3314" stop-color="#1d1d1d"/><stop offset=".4013" stop-color="#131313"/><stop offset=".4443" stop-color="#111111"/><stop offset=".4873" stop-color="#151515"/><stop offset=".6378" stop-color="#2f2f2f"/><stop offset=".756" stop-color="#3e3e3e"/><stop offset=".8151" stop-color="#424242"/><stop offset=".8742" stop-color="#404040"/><stop offset=".9226" stop-color="#3d3d3d"/><stop offset=".9656" stop-color="#3b3b3b"/><stop offset=".9925" stop-color="#383838"/><stop offset="1" stop-color="#383838"/></linearGradient><linearGradient id="h2_22"><stop offset="0" stop-color="#2b2b2b"/><stop offset=".0269" stop-color="#2c2c2c"/><stop offset=".0735" stop-color="#363636"/><stop offset=".1236" stop-color="#343434"/><stop offset=".3314" stop-color="#202020"/><stop offset=".4067" stop-color="#181818"/><stop offset=".455" stop-color="#181818"/><stop offset=".5142" stop-color="#1e1e1e"/><stop offset=".6485" stop-color="#2e2e2e"/><stop offset=".7721" stop-color="#3a3a3a"/><stop offset=".8366" stop-color="#3b3b3b"/><stop offset=".9226" stop-color="#383838"/><stop offset=".9764" stop-color="#383838"/><stop offset="1" stop-color="#373737"/></linearGradient><linearGradient id="h2_23"><stop offset="0" stop-color="#2a2a2a"/><stop offset=".034" stop-color="#2c2c2c"/><stop offset=".077" stop-color="#313131"/><stop offset=".1505" stop-color="#2f2f2f"/><stop offset=".3475" stop-color="#212121"/><stop offset=".4228" stop-color="#1d1d1d"/><stop offset=".4819" stop-color="#1f1f1f"/><stop offset=".6808" stop-color="#2f2f2f"/><stop offset=".7936" stop-color="#353535"/><stop offset=".8742" stop-color="#353535"/><stop offset=".9226" stop-color="#343434"/><stop offset=".9817" stop-color="#363636"/><stop offset="1" stop-color="#363636"/></linearGradient><linearGradient id="h2_24"><stop offset="0" stop-color="#292929"/><stop offset=".0466" stop-color="#2c2c2c"/><stop offset=".086" stop-color="#2e2e2e"/><stop offset=".3099" stop-color="#262626"/><stop offset=".4228" stop-color="#212121"/><stop offset=".498" stop-color="#232323"/><stop offset=".713" stop-color="#2e2e2e"/><stop offset=".8259" stop-color="#313131"/><stop offset=".9172" stop-color="#313131"/><stop offset=".9817" stop-color="#343434"/><stop offset="1" stop-color="#343434"/></linearGradient><linearGradient id="h2_25"><stop offset="0" stop-color="#292929"/><stop offset=".1003" stop-color="#2c2c2c"/><stop offset=".4389" stop-color="#242424"/><stop offset=".7936" stop-color="#2e2e2e"/><stop offset=".9119" stop-color="#2e2e2e"/><stop offset=".9817" stop-color="#333333"/><stop offset="1" stop-color="#333333"/></linearGradient><linearGradient id="h2_26"><stop offset="0" stop-color="#292929"/><stop offset=".1272" stop-color="#2a2a2a"/><stop offset=".455" stop-color="#262626"/><stop offset=".8205" stop-color="#2c2c2c"/><stop offset=".9119" stop-color="#2c2c2c"/><stop offset=".9817" stop-color="#323232"/><stop offset="1" stop-color="#323232"/></linearGradient><linearGradient id="h2_27"><stop offset="0" stop-color="#282828"/><stop offset=".1756" stop-color="#282828"/><stop offset=".4819" stop-color="#272727"/><stop offset=".8689" stop-color="#2a2a2a"/><stop offset=".9172" stop-color="#2c2c2c"/><stop offset=".9817" stop-color="#313131"/><stop offset="1" stop-color="#323232"/></linearGradient><linearGradient id="h2_28"><stop offset="0" stop-color="#282828"/><stop offset=".2454" stop-color="#272727"/><stop offset=".5571" stop-color="#282828"/><stop offset=".9119" stop-color="#2a2a2a"/><stop offset=".9817" stop-color="#313131"/><stop offset="1" stop-color="#313131"/></linearGradient><linearGradient id="h2_29"><stop offset="0" stop-color="#282828"/><stop offset=".4819" stop-color="#272727"/><stop offset=".9065" stop-color="#2a2a2a"/><stop offset=".9817" stop-color="#313131"/><stop offset="1" stop-color="#313131"/></linearGradient><linearGradient id="h2_30"><stop offset="0" stop-color="#282828"/><stop offset=".0878" stop-color="#282828"/><stop offset=".3207" stop-color="#262626"/><stop offset=".9065" stop-color="#292929"/><stop offset=".9817" stop-color="#313131"/><stop offset="1" stop-color="#313131"/></linearGradient><linearGradient id="h2_31"><stop offset="0" stop-color="#282828"/><stop offset=".0591" stop-color="#292929"/><stop offset=".2669" stop-color="#252525"/><stop offset=".9011" stop-color="#292929"/><stop offset=".9817" stop-color="#313131"/><stop offset="1" stop-color="#313131"/></linearGradient><linearGradient id="h2_32"><stop offset="0" stop-color="#292929"/><stop offset=".0287" stop-color="#2b2b2b"/><stop offset=".0555" stop-color="#2b2b2b"/><stop offset=".1021" stop-color="#282828"/><stop offset=".2723" stop-color="#252525"/><stop offset=".8957" stop-color="#292929"/><stop offset=".9549" stop-color="#2e2e2e"/><stop offset=".9925" stop-color="#313131"/><stop offset="1" stop-color="#313131"/></linearGradient><linearGradient id="h2_33"><stop offset="0" stop-color="#2a2a2a"/><stop offset=".0161" stop-color="#2b2b2b"/><stop offset=".043" stop-color="#2f2f2f"/><stop offset=".0681" stop-color="#2c2c2c"/><stop offset=".0985" stop-color="#292929"/><stop offset=".2616" stop-color="#242424"/><stop offset=".8259" stop-color="#282828"/><stop offset=".9119" stop-color="#2a2a2a"/><stop offset=".9817" stop-color="#313131"/><stop offset="1" stop-color="#313131"/></linearGradient><linearGradient id="h2_34"><stop offset="0" stop-color="#2c2c2c"/><stop offset=".0143" stop-color="#2c2c2c"/><stop offset=".0394" stop-color="#333333"/><stop offset=".0537" stop-color="#323232"/><stop offset=".086" stop-color="#2a2a2a"/><stop offset=".2454" stop-color="#232323"/><stop offset=".7453" stop-color="#272727"/><stop offset=".9065" stop-color="#2a2a2a"/><stop offset=".9817" stop-color="#313131"/><stop offset="1" stop-color="#323232"/></linearGradient><linearGradient id="h2_35"><stop offset="0" stop-color="#2d2d2d"/><stop offset=".0125" stop-color="#2e2e2e"/><stop offset=".0376" stop-color="#383838"/><stop offset=".0502" stop-color="#383838"/><stop offset=".0842" stop-color="#2c2c2c"/><stop offset=".1111" stop-color="#292929"/><stop offset=".2508" stop-color="#232323"/><stop offset=".7291" stop-color="#272727"/><stop offset=".9065" stop-color="#2a2a2a"/><stop offset=".9817" stop-color="#323232"/><stop offset="1" stop-color="#323232"/></linearGradient><linearGradient id="h2_36"><stop offset="0" stop-color="#303030"/><stop offset=".0107" stop-color="#303030"/><stop offset=".0358" stop-color="#3e3e3e"/><stop offset=".0466" stop-color="#3f3f3f"/><stop offset=".0573" stop-color="#3b3b3b"/><stop offset=".0806" stop-color="#2e2e2e"/><stop offset=".0985" stop-color="#2a2a2a"/><stop offset=".2454" stop-color="#232323"/><stop offset=".7023" stop-color="#272727"/><stop offset=".9065" stop-color="#2b2b2b"/><stop offset=".9817" stop-color="#333333"/><stop offset="1" stop-color="#333333"/></linearGradient><linearGradient id="h2_37"><stop offset="0" stop-color="#323232"/><stop offset=".0107" stop-color="#323232"/><stop offset=".0358" stop-color="#434343"/><stop offset=".0448" stop-color="#454545"/><stop offset=".0537" stop-color="#434343"/><stop offset=".0806" stop-color="#303030"/><stop offset=".0949" stop-color="#2b2b2b"/><stop offset=".2347" stop-color="#232323"/><stop offset=".6754" stop-color="#282828"/><stop offset=".9065" stop-color="#2d2d2d"/><stop offset=".9817" stop-color="#353535"/><stop offset="1" stop-color="#353535"/></linearGradient><linearGradient id="h2_38"><stop offset="0" stop-color="#333333"/><stop offset=".0107" stop-color="#333333"/><stop offset=".034" stop-color="#464646"/><stop offset=".043" stop-color="#494949"/><stop offset=".052" stop-color="#474747"/><stop offset=".0645" stop-color="#3e3e3e"/><stop offset=".0806" stop-color="#313131"/><stop offset=".0949" stop-color="#2c2c2c"/><stop offset=".1469" stop-color="#282828"/><stop offset=".2454" stop-color="#232323"/><stop offset=".7023" stop-color="#2a2a2a"/><stop offset=".9065" stop-color="#2e2e2e"/><stop offset=".9817" stop-color="#373737"/><stop offset="1" stop-color="#373737"/></linearGradient><linearGradient id="h2_39"><stop offset="0" stop-color="#343434"/><stop offset=".0107" stop-color="#343434"/><stop offset=".034" stop-color="#484848"/><stop offset=".043" stop-color="#4b4b4b"/><stop offset=".052" stop-color="#494949"/><stop offset=".0645" stop-color="#3f3f3f"/><stop offset=".0788" stop-color="#333333"/><stop offset=".0914" stop-color="#2d2d2d"/><stop offset=".1147" stop-color="#2b2b2b"/><stop offset=".2454" stop-color="#242424"/><stop offset=".7184" stop-color="#2c2c2c"/><stop offset=".9065" stop-color="#313131"/><stop offset=".9817" stop-color="#3a3a3a"/><stop offset="1" stop-color="#3a3a3a"/></linearGradient><linearGradient id="h2_40"><stop offset="0" stop-color="#333333"/><stop offset=".0107" stop-color="#333333"/><stop offset=".034" stop-color="#474747"/><stop offset=".043" stop-color="#4a4a4a"/><stop offset=".052" stop-color="#484848"/><stop offset=".0645" stop-color="#3f3f3f"/><stop offset=".0806" stop-color="#323232"/><stop offset=".0949" stop-color="#2d2d2d"/><stop offset=".1809" stop-color="#282828"/><stop offset=".2562" stop-color="#252525"/><stop offset=".7775" stop-color="#313131"/><stop offset=".9065" stop-color="#343434"/><stop offset=".9817" stop-color="#3d3d3d"/><stop offset="1" stop-color="#3e3e3e"/></linearGradient><linearGradient id="h2_41"><stop offset="0" stop-color="#323232"/><stop offset=".0107" stop-color="#323232"/><stop offset=".034" stop-color="#434343"/><stop offset=".043" stop-color="#464646"/><stop offset=".052" stop-color="#444444"/><stop offset=".0681" stop-color="#3a3a3a"/><stop offset=".0824" stop-color="#313131"/><stop offset=".0985" stop-color="#2d2d2d"/><stop offset=".2454" stop-color="#272727"/><stop offset=".8366" stop-color="#363636"/><stop offset=".9119" stop-color="#393939"/><stop offset=".9817" stop-color="#424242"/><stop offset="1" stop-color="#424242"/></linearGradient><linearGradient id="h2_42"><stop offset="0" stop-color="#313131"/><stop offset=".0107" stop-color="#313131"/><stop offset=".0358" stop-color="#3f3f3f"/><stop offset=".0466" stop-color="#414141"/><stop offset=".0591" stop-color="#3c3c3c"/><stop offset=".0806" stop-color="#313131"/><stop offset=".0985" stop-color="#2d2d2d"/><stop offset=".2454" stop-color="#292929"/><stop offset=".8957" stop-color="#3d3d3d"/><stop offset=".9495" stop-color="#444444"/><stop offset=".9871" stop-color="#494949"/><stop offset="1" stop-color="#494949"/></linearGradient><linearGradient id="h2_43"><stop offset="0" stop-color="#2f2f2f"/><stop offset=".0125" stop-color="#303030"/><stop offset=".0358" stop-color="#3a3a3a"/><stop offset=".0484" stop-color="#3b3b3b"/><stop offset=".0663" stop-color="#353535"/><stop offset=".086" stop-color="#2f2f2f"/><stop offset=".1218" stop-color="#2e2e2e"/><stop offset=".2508" stop-color="#2b2b2b"/><stop offset=".9065" stop-color="#454545"/><stop offset=".9817" stop-color="#505050"/><stop offset="1" stop-color="#515151"/></linearGradient><linearGradient id="h2_44"><stop offset="0" stop-color="#2e2e2e"/><stop offset=".0125" stop-color="#2e2e2e"/><stop offset=".0376" stop-color="#363636"/><stop offset=".0537" stop-color="#363636"/><stop offset=".086" stop-color="#2f2f2f"/><stop offset=".2562" stop-color="#2e2e2e"/><stop offset=".9011" stop-color="#4e4e4e"/><stop offset=".9871" stop-color="#5b5b5b"/><stop offset="1" stop-color="#5b5b5b"/></linearGradient><linearGradient id="h2_45"><stop offset="0" stop-color="#2d2d2d"/><stop offset=".0143" stop-color="#2d2d2d"/><stop offset=".0376" stop-color="#333333"/><stop offset=".0609" stop-color="#323232"/><stop offset=".0914" stop-color="#303030"/><stop offset=".2669" stop-color="#313131"/><stop offset=".6216" stop-color="#494949"/><stop offset=".9011" stop-color="#5a5a5a"/><stop offset=".9871" stop-color="#686868"/><stop offset="1" stop-color="#686868"/></linearGradient><linearGradient id="h2_46"><stop offset="0" stop-color="#2c2c2c"/><stop offset=".0161" stop-color="#2d2d2d"/><stop offset=".0358" stop-color="#313131"/><stop offset=".1003" stop-color="#313131"/><stop offset=".2669" stop-color="#353535"/><stop offset=".4282" stop-color="#434343"/><stop offset=".5948" stop-color="#515151"/><stop offset=".9011" stop-color="#696969"/><stop offset=".9871" stop-color="#797979"/><stop offset="1" stop-color="#7a7a7a"/></linearGradient><linearGradient id="h2_47"><stop offset="0" stop-color="#2b2b2b"/><stop offset=".0143" stop-color="#2c2c2c"/><stop offset=".034" stop-color="#313131"/><stop offset=".1075" stop-color="#343434"/><stop offset=".2616" stop-color="#393939"/><stop offset=".3475" stop-color="#424242"/><stop offset=".5464" stop-color="#595959"/><stop offset=".8957" stop-color="#7b7b7b"/><stop offset=".9387" stop-color="#848484"/><stop offset=".9871" stop-color="#8f8f8f"/><stop offset="1" stop-color="#8f8f8f"/></linearGradient><linearGradient id="h2_48"><stop offset="0" stop-color="#2b2b2b"/><stop offset=".0125" stop-color="#2c2c2c"/><stop offset=".0251" stop-color="#313131"/><stop offset=".0322" stop-color="#333333"/><stop offset=".1039" stop-color="#373737"/><stop offset=".2508" stop-color="#3d3d3d"/><stop offset=".3153" stop-color="#444444"/><stop offset=".5303" stop-color="#656565"/><stop offset=".8904" stop-color="#919191"/><stop offset=".928" stop-color="#999999"/><stop offset=".9871" stop-color="#a9a9a9"/><stop offset="1" stop-color="#a9a9a9"/></linearGradient><linearGradient id="h2_49"><stop offset="0" stop-color="#2b2b2b"/><stop offset=".0107" stop-color="#2b2b2b"/><stop offset=".0233" stop-color="#323232"/><stop offset=".0287" stop-color="#383838"/><stop offset=".0394" stop-color="#393939"/><stop offset=".0932" stop-color="#393939"/><stop offset=".2347" stop-color="#414141"/><stop offset=".2884" stop-color="#464646"/><stop offset=".4604" stop-color="#676767"/><stop offset=".5733" stop-color="#7a7a7a"/><stop offset=".8796" stop-color="#a8a8a8"/><stop offset=".9172" stop-color="#b0b0b0"/><stop offset=".9871" stop-color="#c6c6c6"/><stop offset="1" stop-color="#c6c6c6"/></linearGradient><linearGradient id="h2_50"><stop offset="0" stop-color="#2b2b2b"/><stop offset=".0107" stop-color="#2b2b2b"/><stop offset=".0215" stop-color="#353535"/><stop offset=".0287" stop-color="#404040"/><stop offset=".034" stop-color="#414141"/><stop offset=".0555" stop-color="#3e3e3e"/><stop offset=".0896" stop-color="#3c3c3c"/><stop offset=".2078" stop-color="#434343"/><stop offset=".2777" stop-color="#4a4a4a"/><stop offset=".3475" stop-color="#595959"/><stop offset=".5142" stop-color="#7f7f7f"/><stop offset=".8796" stop-color="#c0c0c0"/><stop offset=".9119" stop-color="#c8c8c8"/><stop offset=".9871" stop-color="#e3e3e3"/><stop offset="1" stop-color="#e4e4e4"/></linearGradient><linearGradient id="h2_51"><stop offset="0" stop-color="#2b2b2b"/><stop offset=".0107" stop-color="#2b2b2b"/><stop offset=".0197" stop-color="#383838"/><stop offset=".0233" stop-color="#404040"/><stop offset=".0269" stop-color="#494949"/><stop offset=".0287" stop-color="#4c4c4c"/><stop offset=".0322" stop-color="#4d4d4d"/><stop offset=".043" stop-color="#494949"/><stop offset=".0537" stop-color="#454545"/><stop offset=".0824" stop-color="#404040"/><stop offset=".1648" stop-color="#434343"/><stop offset=".2669" stop-color="#4d4d4d"/><stop offset=".3207" stop-color="#585858"/><stop offset=".5142" stop-color="#8a8a8a"/><stop offset=".6861" stop-color="#adadad"/><stop offset=".8796" stop-color="#d5d5d5"/><stop offset=".9119" stop-color="#dedede"/><stop offset=".9871" stop-color="#fbfbfb"/><stop offset="1" stop-color="#fcfcfc"/></linearGradient><linearGradient id="h2_52"><stop offset="0" stop-color="#2b2b2b"/><stop offset=".0107" stop-color="#2b2b2b"/><stop offset=".0197" stop-color="#3d3d3d"/><stop offset=".0233" stop-color="#474747"/><stop offset=".0269" stop-color="#525252"/><stop offset=".0287" stop-color="#565656"/><stop offset=".0305" stop-color="#575757"/><stop offset=".0376" stop-color="#545454"/><stop offset=".0484" stop-color="#4c4c4c"/><stop offset=".077" stop-color="#434343"/><stop offset=".0985" stop-color="#424242"/><stop offset=".1756" stop-color="#464646"/><stop offset=".2723" stop-color="#515151"/><stop offset=".326" stop-color="#5d5d5d"/><stop offset=".5088" stop-color="#909090"/><stop offset=".6539" stop-color="#afafaf"/><stop offset=".8742" stop-color="#dfdfdf"/><stop offset=".9119" stop-color="#eaeaea"/><stop offset=".9602" stop-color="#fefefe"/><stop offset="1" stop-color="#ffffff"/></linearGradient><linearGradient id="h2_53"><stop offset="0" stop-color="#2b2b2b"/><stop offset=".0107" stop-color="#2b2b2b"/><stop offset=".0197" stop-color="#3c3c3c"/><stop offset=".0233" stop-color="#464646"/><stop offset=".0269" stop-color="#515151"/><stop offset=".0287" stop-color="#555555"/><stop offset=".0305" stop-color="#575757"/><stop offset=".0376" stop-color="#545454"/><stop offset=".0484" stop-color="#4c4c4c"/><stop offset=".077" stop-color="#434343"/><stop offset=".0985" stop-color="#424242"/><stop offset=".1756" stop-color="#464646"/><stop offset=".2723" stop-color="#515151"/><stop offset=".326" stop-color="#5d5d5d"/><stop offset=".5088" stop-color="#8f8f8f"/><stop offset=".6539" stop-color="#afafaf"/><stop offset=".8742" stop-color="#dfdfdf"/><stop offset=".9119" stop-color="#e9e9e9"/><stop offset=".9656" stop-color="#ffffff"/><stop offset="1" stop-color="#ffffff"/></linearGradient><linearGradient id="h2_54"><stop offset="0" stop-color="#2b2b2b"/><stop offset=".0107" stop-color="#2b2b2b"/><stop offset=".0215" stop-color="#3b3b3b"/><stop offset=".0269" stop-color="#484848"/><stop offset=".0287" stop-color="#4b4b4b"/><stop offset=".0322" stop-color="#4c4c4c"/><stop offset=".043" stop-color="#484848"/><stop offset=".0537" stop-color="#444444"/><stop offset=".0842" stop-color="#3f3f3f"/><stop offset=".1756" stop-color="#444444"/><stop offset=".2723" stop-color="#4e4e4e"/><stop offset=".326" stop-color="#595959"/><stop offset=".5142" stop-color="#8a8a8a"/><stop offset=".6861" stop-color="#acacac"/><stop offset=".8796" stop-color="#d3d3d3"/><stop offset=".9119" stop-color="#dcdcdc"/><stop offset=".9871" stop-color="#f9f9f9"/><stop offset="1" stop-color="#fafafa"/></linearGradient><linearGradient id="h2_55"><stop offset="0" stop-color="#2b2b2b"/><stop offset=".0107" stop-color="#2b2b2b"/><stop offset=".0215" stop-color="#353535"/><stop offset=".0287" stop-color="#3f3f3f"/><stop offset=".0358" stop-color="#404040"/><stop offset=".0555" stop-color="#3d3d3d"/><stop offset=".0896" stop-color="#3c3c3c"/><stop offset=".2078" stop-color="#434343"/><stop offset=".2777" stop-color="#4a4a4a"/><stop offset=".3475" stop-color="#585858"/><stop offset=".5142" stop-color="#7e7e7e"/><stop offset=".8796" stop-color="#bebebe"/><stop offset=".9172" stop-color="#c8c8c8"/><stop offset=".9871" stop-color="#e0e0e0"/><stop offset="1" stop-color="#e1e1e1"/></linearGradient><linearGradient id="h2_56"><stop offset="0" stop-color="#2b2b2b"/><stop offset=".0125" stop-color="#2c2c2c"/><stop offset=".0233" stop-color="#323232"/><stop offset=".0305" stop-color="#373737"/><stop offset=".0949" stop-color="#393939"/><stop offset=".2401" stop-color="#424242"/><stop offset=".2938" stop-color="#474747"/><stop offset=".5249" stop-color="#727272"/><stop offset=".885" stop-color="#a6a6a6"/><stop offset=".9172" stop-color="#aeaeae"/><stop offset=".9871" stop-color="#c3c3c3"/><stop offset="1" stop-color="#c4c4c4"/></linearGradient><linearGradient id="h2_57"><stop offset="0" stop-color="#2b2b2b"/><stop offset=".0143" stop-color="#2c2c2c"/><stop offset=".0269" stop-color="#313131"/><stop offset=".0376" stop-color="#333333"/><stop offset=".2669" stop-color="#3f3f3f"/><stop offset=".3475" stop-color="#494949"/><stop offset=".5303" stop-color="#646464"/><stop offset=".8904" stop-color="#8f8f8f"/><stop offset=".928" stop-color="#979797"/><stop offset=".9871" stop-color="#a7a7a7"/><stop offset="1" stop-color="#a7a7a7"/></linearGradient><linearGradient id="h2_58"><stop offset="0" stop-color="#2b2b2b"/><stop offset=".0179" stop-color="#2c2c2c"/><stop offset=".034" stop-color="#2f2f2f"/><stop offset=".1451" stop-color="#353535"/><stop offset=".2831" stop-color="#3c3c3c"/><stop offset=".5518" stop-color="#5a5a5a"/><stop offset=".8957" stop-color="#7a7a7a"/><stop offset=".9387" stop-color="#838383"/><stop offset=".9871" stop-color="#8d8d8d"/><stop offset="1" stop-color="#8e8e8e"/></linearGradient><linearGradient id="h2_59"><stop offset="0" stop-color="#2b2b2b"/><stop offset=".0233" stop-color="#2c2c2c"/><stop offset=".0448" stop-color="#2e2e2e"/><stop offset=".1415" stop-color="#333333"/><stop offset=".2884" stop-color="#383838"/><stop offset=".5679" stop-color="#505050"/><stop offset=".8957" stop-color="#686868"/><stop offset=".9441" stop-color="#717171"/><stop offset=".9871" stop-color="#797979"/><stop offset="1" stop-color="#797979"/></linearGradient><linearGradient id="h2_60"><stop offset="0" stop-color="#2b2b2b"/><stop offset=".1451" stop-color="#313131"/><stop offset=".2992" stop-color="#363636"/><stop offset=".584" stop-color="#484848"/><stop offset=".9011" stop-color="#5a5a5a"/><stop offset=".9871" stop-color="#686868"/><stop offset="1" stop-color="#696969"/></linearGradient><linearGradient id="h2_61"><stop offset="0" stop-color="#2b2b2b"/><stop offset=".1541" stop-color="#303030"/><stop offset=".3099" stop-color="#343434"/><stop offset=".6109" stop-color="#434343"/><stop offset=".9011" stop-color="#4f4f4f"/><stop offset=".9871" stop-color="#5c5c5c"/><stop offset="1" stop-color="#5c5c5c"/></linearGradient><linearGradient id="h2_62"><stop offset="0" stop-color="#2b2b2b"/><stop offset=".1756" stop-color="#2f2f2f"/><stop offset=".3314" stop-color="#333333"/><stop offset=".6539" stop-color="#3f3f3f"/><stop offset=".9065" stop-color="#474747"/><stop offset=".9817" stop-color="#525252"/><stop offset="1" stop-color="#525252"/></linearGradient><linearGradient id="h2_63"><stop offset="0" stop-color="#2b2b2b"/><stop offset=".1863" stop-color="#2f2f2f"/><stop offset=".3422" stop-color="#323232"/><stop offset=".6808" stop-color="#3e3e3e"/><stop offset=".9065" stop-color="#454545"/><stop offset=".9817" stop-color="#505050"/><stop offset="1" stop-color="#505050"/></linearGradient><linearGradient id="h2_64"><stop offset="0" stop-color="#2b2b2b"/><stop offset=".1863" stop-color="#2f2f2f"/><stop offset=".3422" stop-color="#323232"/><stop offset=".6808" stop-color="#3e3e3e"/><stop offset=".9065" stop-color="#454545"/><stop offset=".9817" stop-color="#505050"/><stop offset="1" stop-color="#505050"/></linearGradient><clipPath id="cp2"><rect x="50" y="447.5" width="546.2" height="182.4"/></clipPath></defs>
<g clip-path="url(#cp2)"><g filter="url(#rb)"><rect x="44" y="441.5" width="558.2" height="3.5" fill="url(#h2_0)"/><rect x="44" y="444.5" width="558.2" height="3.5" fill="url(#h2_1)"/><rect x="44" y="447.5" width="558.2" height="3.5" fill="url(#h2_2)"/><rect x="44" y="450.5" width="558.2" height="3.5" fill="url(#h2_3)"/><rect x="44" y="453.5" width="558.2" height="3.5" fill="url(#h2_4)"/><rect x="44" y="456.5" width="558.2" height="3.5" fill="url(#h2_5)"/><rect x="44" y="459.5" width="558.2" height="3.5" fill="url(#h2_6)"/><rect x="44" y="462.5" width="558.2" height="3.5" fill="url(#h2_7)"/><rect x="44" y="465.5" width="558.2" height="3.5" fill="url(#h2_8)"/><rect x="44" y="468.5" width="558.2" height="3.5" fill="url(#h2_9)"/><rect x="44" y="471.5" width="558.2" height="3.5" fill="url(#h2_10)"/><rect x="44" y="474.5" width="558.2" height="3.5" fill="url(#h2_11)"/><rect x="44" y="477.5" width="558.2" height="3.5" fill="url(#h2_12)"/><rect x="44" y="480.5" width="558.2" height="3.5" fill="url(#h2_13)"/><rect x="44" y="483.5" width="558.2" height="3.5" fill="url(#h2_14)"/><rect x="44" y="486.5" width="558.2" height="3.5" fill="url(#h2_15)"/><rect x="44" y="489.5" width="558.2" height="3.5" fill="url(#h2_16)"/><rect x="44" y="492.5" width="558.2" height="3.5" fill="url(#h2_17)"/><rect x="44" y="495.5" width="558.2" height="3.5" fill="url(#h2_18)"/><rect x="44" y="498.5" width="558.2" height="3.5" fill="url(#h2_19)"/><rect x="44" y="501.5" width="558.2" height="3.5" fill="url(#h2_20)"/><rect x="44" y="504.5" width="558.2" height="3.5" fill="url(#h2_21)"/><rect x="44" y="507.5" width="558.2" height="3.5" fill="url(#h2_22)"/><rect x="44" y="510.5" width="558.2" height="3.5" fill="url(#h2_23)"/><rect x="44" y="513.5" width="558.2" height="3.5" fill="url(#h2_24)"/><rect x="44" y="516.5" width="558.2" height="3.5" fill="url(#h2_25)"/><rect x="44" y="519.5" width="558.2" height="3.5" fill="url(#h2_26)"/><rect x="44" y="522.5" width="558.2" height="3.5" fill="url(#h2_27)"/><rect x="44" y="525.5" width="558.2" height="3.5" fill="url(#h2_28)"/><rect x="44" y="528.5" width="558.2" height="3.5" fill="url(#h2_29)"/><rect x="44" y="531.5" width="558.2" height="3.5" fill="url(#h2_30)"/><rect x="44" y="534.5" width="558.2" height="3.5" fill="url(#h2_31)"/><rect x="44" y="537.5" width="558.2" height="3.5" fill="url(#h2_32)"/><rect x="44" y="540.5" width="558.2" height="3.5" fill="url(#h2_33)"/><rect x="44" y="543.5" width="558.2" height="3.5" fill="url(#h2_34)"/><rect x="44" y="546.5" width="558.2" height="3.5" fill="url(#h2_35)"/><rect x="44" y="549.5" width="558.2" height="3.5" fill="url(#h2_36)"/><rect x="44" y="552.5" width="558.2" height="3.5" fill="url(#h2_37)"/><rect x="44" y="555.5" width="558.2" height="3.5" fill="url(#h2_38)"/><rect x="44" y="558.5" width="558.2" height="3.5" fill="url(#h2_39)"/><rect x="44" y="561.5" width="558.2" height="3.5" fill="url(#h2_40)"/><rect x="44" y="564.5" width="558.2" height="3.5" fill="url(#h2_41)"/><rect x="44" y="567.5" width="558.2" height="3.5" fill="url(#h2_42)"/><rect x="44" y="570.5" width="558.2" height="3.5" fill="url(#h2_43)"/><rect x="44" y="573.5" width="558.2" height="3.5" fill="url(#h2_44)"/><rect x="44" y="576.5" width="558.2" height="3.5" fill="url(#h2_45)"/><rect x="44" y="579.5" width="558.2" height="3.5" fill="url(#h2_46)"/><rect x="44" y="582.5" width="558.2" height="3.5" fill="url(#h2_47)"/><rect x="44" y="585.5" width="558.2" height="3.5" fill="url(#h2_48)"/><rect x="44" y="588.5" width="558.2" height="3.5" fill="url(#h2_49)"/><rect x="44" y="591.5" width="558.2" height="3.5" fill="url(#h2_50)"/><rect x="44" y="594.5" width="558.2" height="3.5" fill="url(#h2_51)"/><rect x="44" y="597.5" width="558.2" height="3.5" fill="url(#h2_52)"/><rect x="44" y="600.5" width="558.2" height="3.5" fill="url(#h2_53)"/><rect x="44" y="603.5" width="558.2" height="3.5" fill="url(#h2_54)"/><rect x="44" y="606.5" width="558.2" height="3.5" fill="url(#h2_55)"/><rect x="44" y="609.5" width="558.2" height="3.5" fill="url(#h2_56)"/><rect x="44" y="612.5" width="558.2" height="3.5" fill="url(#h2_57)"/><rect x="44" y="615.5" width="558.2" height="3.5" fill="url(#h2_58)"/><rect x="44" y="618.5" width="558.2" height="3.5" fill="url(#h2_59)"/><rect x="44" y="621.5" width="558.2" height="3.5" fill="url(#h2_60)"/><rect x="44" y="624.5" width="558.2" height="3.5" fill="url(#h2_61)"/><rect x="44" y="627.5" width="558.2" height="3.5" fill="url(#h2_62)"/><rect x="44" y="630.5" width="558.2" height="3.5" fill="url(#h2_63)"/><rect x="44" y="633.5" width="558.2" height="3.5" fill="url(#h2_64)"/></g></g>
<rect x="50.0" y="447.5" width="546.2" height="182.4" fill="none" stroke="#808080" stroke-width="0.7"/>
<line x1="187.0" y1="629.9" x2="187.0" y2="624.9" stroke="#7a7a7a" stroke-width="0.8"/>
<text transform="translate(187.0 666.3) scale(1 1.07)" text-anchor="middle" font-size="34" fill="#666">0.5</text>
<line x1="323.2" y1="629.9" x2="323.2" y2="624.9" stroke="#7a7a7a" stroke-width="0.8"/>
<text transform="translate(323.2 666.3) scale(1 1.07)" text-anchor="middle" font-size="34" fill="#666">1</text>
<line x1="459.6" y1="629.9" x2="459.6" y2="624.9" stroke="#7a7a7a" stroke-width="0.8"/>
<text transform="translate(459.6 666.3) scale(1 1.07)" text-anchor="middle" font-size="34" fill="#666">1.5</text>
<text transform="translate(596.0 666.3) scale(1 1.07)" text-anchor="middle" font-size="34" fill="#666">2</text>
<line x1="50.0" y1="538.7" x2="55.0" y2="538.7" stroke="#7a7a7a" stroke-width="0.8"/>
<text transform="translate(19.3 459.5) scale(1 1.07)" text-anchor="end" font-size="34" fill="#666">2</text>
<text x="44.9" y="459.5" text-anchor="end" font-size="35.5" fill="#666" font-style="italic">π</text>
<text x="44.9" y="550.8" text-anchor="end" font-size="35.5" fill="#666" font-style="italic">π</text>
<text transform="translate(45.3 641.8) scale(1 1.07)" text-anchor="end" font-size="34" fill="#666">0</text>
<defs><linearGradient id="cb2"><stop offset="0" stop-color="#781c86"/><stop offset=".05" stop-color="#581da0"/><stop offset=".1" stop-color="#462cb7"/><stop offset=".15" stop-color="#4040c7"/><stop offset=".2" stop-color="#3f5fd0"/><stop offset=".25" stop-color="#447ccd"/><stop offset=".3" stop-color="#4b90c0"/><stop offset=".35" stop-color="#569eb0"/><stop offset=".4" stop-color="#62a99c"/><stop offset=".45" stop-color="#72b385"/><stop offset=".5" stop-color="#83ba70"/><stop offset=".55" stop-color="#94bd61"/><stop offset=".6" stop-color="#a7be54"/><stop offset=".65" stop-color="#bbbc48"/><stop offset=".7" stop-color="#cbb742"/><stop offset=".75" stop-color="#d8ac3c"/><stop offset=".8" stop-color="#e29c38"/><stop offset=".85" stop-color="#e68032"/><stop offset=".9" stop-color="#e4662d"/><stop offset=".95" stop-color="#e04628"/><stop offset="1" stop-color="#db2122"/></linearGradient></defs>
<rect x="145.4" y="698.1" width="338.9" height="22.4" fill="url(#cb2)"/>
<line x1="145.5" y1="720.5" x2="145.5" y2="727.8" stroke="#cbcbcb" stroke-width="1.2"/>
<text transform="translate(145.5 757.3) scale(1 1.05)" text-anchor="middle" font-size="27.6" fill="#666">−3</text>
<line x1="210.7" y1="720.5" x2="210.7" y2="727.8" stroke="#cbcbcb" stroke-width="1.2"/>
<text transform="translate(210.7 757.3) scale(1 1.05)" text-anchor="middle" font-size="27.6" fill="#666">0</text>
<line x1="275.9" y1="720.5" x2="275.9" y2="727.8" stroke="#cbcbcb" stroke-width="1.2"/>
<text transform="translate(275.9 757.3) scale(1 1.05)" text-anchor="middle" font-size="27.6" fill="#666">3</text>
<line x1="341.1" y1="720.5" x2="341.1" y2="727.8" stroke="#cbcbcb" stroke-width="1.2"/>
<text transform="translate(341.1 757.3) scale(1 1.05)" text-anchor="middle" font-size="27.6" fill="#666">6</text>
<line x1="406.3" y1="720.5" x2="406.3" y2="727.8" stroke="#cbcbcb" stroke-width="1.2"/>
<text transform="translate(406.3 757.3) scale(1 1.05)" text-anchor="middle" font-size="27.6" fill="#666">9</text>
<line x1="471.5" y1="720.5" x2="471.5" y2="727.8" stroke="#cbcbcb" stroke-width="1.2"/>
<text transform="translate(471.5 757.3) scale(1 1.05)" text-anchor="middle" font-size="27.6" fill="#666">12</text>
<g class="cap" font-size="33" fill="#111"><text x="239.9" y="800.3" font-size="35.5">(</text><text x="251.4" y="801.0">c</text><text x="267.2" y="800.3" font-size="35.5">)</text><text x="293.9" y="801.0" font-style="italic">j</text><text transform="translate(314.8 803.0) scale(1.32 1)">=</text><text x="350.3" y="801.0">2</text></g>
<defs><linearGradient id="h3_0"><stop offset="0" stop-color="#767676"/><stop offset=".2938" stop-color="#7b7b7b"/><stop offset=".3583" stop-color="#787878"/><stop offset=".4443" stop-color="#787878"/><stop offset=".6754" stop-color="#7e7e7e"/><stop offset=".9119" stop-color="#828282"/><stop offset="1" stop-color="#838383"/></linearGradient><linearGradient id="h3_1"><stop offset="0" stop-color="#767676"/><stop offset=".2938" stop-color="#7b7b7b"/><stop offset=".3583" stop-color="#787878"/><stop offset=".4443" stop-color="#787878"/><stop offset=".6754" stop-color="#7e7e7e"/><stop offset=".9119" stop-color="#828282"/><stop offset="1" stop-color="#838383"/></linearGradient><linearGradient id="h3_2"><stop offset="0" stop-color="#767676"/><stop offset=".2078" stop-color="#7b7b7b"/><stop offset=".3153" stop-color="#7a7a7a"/><stop offset=".3852" stop-color="#767676"/><stop offset=".4819" stop-color="#787878"/><stop offset=".6324" stop-color="#7d7d7d"/><stop offset=".8957" stop-color="#828282"/><stop offset="1" stop-color="#848484"/></linearGradient><linearGradient id="h3_3"><stop offset="0" stop-color="#767676"/><stop offset=".0788" stop-color="#797979"/><stop offset=".1362" stop-color="#797979"/><stop offset=".2293" stop-color="#7c7c7c"/><stop offset=".2992" stop-color="#7a7a7a"/><stop offset=".3637" stop-color="#737373"/><stop offset=".4335" stop-color="#727272"/><stop offset=".4873" stop-color="#767676"/><stop offset=".6109" stop-color="#7d7d7d"/><stop offset=".7614" stop-color="#808080"/><stop offset=".9602" stop-color="#848484"/><stop offset="1" stop-color="#848484"/></linearGradient><linearGradient id="h3_4"><stop offset="0" stop-color="#757575"/><stop offset=".0197" stop-color="#767676"/><stop offset=".0663" stop-color="#7b7b7b"/><stop offset=".1147" stop-color="#7a7a7a"/><stop offset=".1971" stop-color="#7d7d7d"/><stop offset=".2723" stop-color="#7b7b7b"/><stop offset=".2831" stop-color="#797979"/><stop offset=".2884" stop-color="#777777"/><stop offset=".3046" stop-color="#757575"/><stop offset=".3422" stop-color="#6f6f6f"/><stop offset=".4067" stop-color="#6c6c6c"/><stop offset=".455" stop-color="#6e6e6e"/><stop offset=".5357" stop-color="#777777"/><stop offset=".5948" stop-color="#7c7c7c"/><stop offset=".7291" stop-color="#818181"/><stop offset=".9226" stop-color="#848484"/><stop offset="1" stop-color="#838383"/></linearGradient><linearGradient id="h3_5"><stop offset="0" stop-color="#747474"/><stop offset=".0125" stop-color="#747474"/><stop offset=".0502" stop-color="#7f7f7f"/><stop offset=".0717" stop-color="#818181"/><stop offset=".1093" stop-color="#7e7e7e"/><stop offset=".1809" stop-color="#808080"/><stop offset=".2508" stop-color="#7c7c7c"/><stop offset=".2669" stop-color="#787878"/><stop offset=".2723" stop-color="#767676"/><stop offset=".2831" stop-color="#747474"/><stop offset=".3046" stop-color="#6d6d6d"/><stop offset=".3368" stop-color="#686868"/><stop offset=".3905" stop-color="#636363"/><stop offset=".4335" stop-color="#636363"/><stop offset=".5195" stop-color="#737373"/><stop offset=".5464" stop-color="#777777"/><stop offset=".5625" stop-color="#7b7b7b"/><stop offset=".6808" stop-color="#828282"/><stop offset=".8689" stop-color="#858585"/><stop offset=".971" stop-color="#818181"/><stop offset="1" stop-color="#7f7f7f"/></linearGradient><linearGradient id="h3_6"><stop offset="0" stop-color="#737373"/><stop offset=".0107" stop-color="#737373"/><stop offset=".0322" stop-color="#818181"/><stop offset=".0466" stop-color="#888888"/><stop offset=".0663" stop-color="#8b8b8b"/><stop offset=".0914" stop-color="#888888"/><stop offset=".1129" stop-color="#868686"/><stop offset=".1702" stop-color="#858585"/><stop offset=".2347" stop-color="#7d7d7d"/><stop offset=".2454" stop-color="#7a7a7a"/><stop offset=".2562" stop-color="#747474"/><stop offset=".2669" stop-color="#717171"/><stop offset=".2723" stop-color="#6d6d6d"/><stop offset=".3046" stop-color="#626262"/><stop offset=".3637" stop-color="#595959"/><stop offset=".4067" stop-color="#565656"/><stop offset=".4282" stop-color="#595959"/><stop offset=".5034" stop-color="#6e6e6e"/><stop offset=".5249" stop-color="#737373"/><stop offset=".541" stop-color="#797979"/><stop offset=".5625" stop-color="#7d7d7d"/><stop offset=".6646" stop-color="#858585"/><stop offset=".8097" stop-color="#888888"/><stop offset=".9334" stop-color="#828282"/><stop offset=".9656" stop-color="#7d7d7d"/><stop offset=".9764" stop-color="#787878"/><stop offset=".9925" stop-color="#757575"/><stop offset="1" stop-color="#757575"/></linearGradient><linearGradient id="h3_7"><stop offset="0" stop-color="#737373"/><stop offset=".0107" stop-color="#737373"/><stop offset=".0215" stop-color="#818181"/><stop offset=".0412" stop-color="#919191"/><stop offset=".0537" stop-color="#959595"/><stop offset=".0699" stop-color="#969696"/><stop offset=".1093" stop-color="#8e8e8e"/><stop offset=".1648" stop-color="#898989"/><stop offset=".2186" stop-color="#7f7f7f"/><stop offset=".2293" stop-color="#7b7b7b"/><stop offset=".2347" stop-color="#747474"/><stop offset=".2454" stop-color="#707070"/><stop offset=".2508" stop-color="#6b6b6b"/><stop offset=".2723" stop-color="#5f5f5f"/><stop offset=".2938" stop-color="#575757"/><stop offset=".3475" stop-color="#4c4c4c"/><stop offset=".3852" stop-color="#484848"/><stop offset=".4013" stop-color="#494949"/><stop offset=".4228" stop-color="#4e4e4e"/><stop offset=".4873" stop-color="#686868"/><stop offset=".5088" stop-color="#6e6e6e"/><stop offset=".5195" stop-color="#747474"/><stop offset=".5249" stop-color="#7a7a7a"/><stop offset=".541" stop-color="#7f7f7f"/><stop offset=".6324" stop-color="#898989"/><stop offset=".7023" stop-color="#8c8c8c"/><stop offset=".799" stop-color="#8b8b8b"/><stop offset=".9065" stop-color="#838383"/><stop offset=".9334" stop-color="#7e7e7e"/><stop offset=".9387" stop-color="#7b7b7b"/><stop offset=".9441" stop-color="#777777"/><stop offset=".971" stop-color="#6e6e6e"/><stop offset=".9871" stop-color="#656565"/><stop offset="1" stop-color="#636363"/></linearGradient><linearGradient id="h3_8"><stop offset="0" stop-color="#747474"/><stop offset=".0107" stop-color="#747474"/><stop offset=".0161" stop-color="#818181"/><stop offset=".0215" stop-color="#8a8a8a"/><stop offset=".0358" stop-color="#9a9a9a"/><stop offset=".0448" stop-color="#9f9f9f"/><stop offset=".0627" stop-color="#a0a0a0"/><stop offset=".0824" stop-color="#9c9c9c"/><stop offset=".1093" stop-color="#949494"/><stop offset=".1648" stop-color="#8c8c8c"/><stop offset=".1971" stop-color="#848484"/><stop offset=".2078" stop-color="#7f7f7f"/><stop offset=".2132" stop-color="#767676"/><stop offset=".2186" stop-color="#717171"/><stop offset=".2239" stop-color="#6f6f6f"/><stop offset=".2293" stop-color="#6a6a6a"/><stop offset=".2347" stop-color="#636363"/><stop offset=".2562" stop-color="#535353"/><stop offset=".2723" stop-color="#4c4c4c"/><stop offset=".3153" stop-color="#434343"/><stop offset=".3637" stop-color="#3e3e3e"/><stop offset=".3852" stop-color="#3e3e3e"/><stop offset=".412" stop-color="#434343"/><stop offset=".4389" stop-color="#4e4e4e"/><stop offset=".4765" stop-color="#636363"/><stop offset=".4927" stop-color="#696969"/><stop offset=".5034" stop-color="#717171"/><stop offset=".5142" stop-color="#7e7e7e"/><stop offset=".5249" stop-color="#838383"/><stop offset=".584" stop-color="#8c8c8c"/><stop offset=".6485" stop-color="#919191"/><stop offset=".7023" stop-color="#929292"/><stop offset=".7936" stop-color="#8e8e8e"/><stop offset=".8796" stop-color="#858585"/><stop offset=".9065" stop-color="#7e7e7e"/><stop offset=".9172" stop-color="#757575"/><stop offset=".9441" stop-color="#6b6b6b"/><stop offset=".9602" stop-color="#5f5f5f"/><stop offset=".9871" stop-color="#4f4f4f"/><stop offset=".9979" stop-color="#4e4e4e"/><stop offset="1" stop-color="#4e4e4e"/></linearGradient><linearGradient id="h3_9"><stop offset="0" stop-color="#757575"/><stop offset=".0107" stop-color="#757575"/><stop offset=".0143" stop-color="#848484"/><stop offset=".0179" stop-color="#8d8d8d"/><stop offset=".0287" stop-color="#9e9e9e"/><stop offset=".0358" stop-color="#a6a6a6"/><stop offset=".0448" stop-color="#a9a9a9"/><stop offset=".0663" stop-color="#a7a7a7"/><stop offset=".1111" stop-color="#989898"/><stop offset=".1702" stop-color="#8c8c8c"/><stop offset=".1809" stop-color="#878787"/><stop offset=".1863" stop-color="#848484"/><stop offset=".1971" stop-color="#727272"/><stop offset=".2024" stop-color="#6e6e6e"/><stop offset=".2078" stop-color="#696969"/><stop offset=".2132" stop-color="#5e5e5e"/><stop offset=".2293" stop-color="#4e4e4e"/><stop offset=".2401" stop-color="#464646"/><stop offset=".2562" stop-color="#414141"/><stop offset=".3153" stop-color="#393939"/><stop offset=".3637" stop-color="#363636"/><stop offset=".3905" stop-color="#3a3a3a"/><stop offset=".4228" stop-color="#434343"/><stop offset=".4335" stop-color="#484848"/><stop offset=".4604" stop-color="#5b5b5b"/><stop offset=".4765" stop-color="#636363"/><stop offset=".4819" stop-color="#676767"/><stop offset=".4927" stop-color="#747474"/><stop offset=".498" stop-color="#7f7f7f"/><stop offset=".5088" stop-color="#868686"/><stop offset=".5303" stop-color="#8c8c8c"/><stop offset=".6001" stop-color="#959595"/><stop offset=".6593" stop-color="#989898"/><stop offset=".713" stop-color="#969696"/><stop offset=".7936" stop-color="#919191"/><stop offset=".8527" stop-color="#898989"/><stop offset=".8742" stop-color="#838383"/><stop offset=".8796" stop-color="#818181"/><stop offset=".8904" stop-color="#767676"/><stop offset=".9172" stop-color="#696969"/><stop offset=".928" stop-color="#5e5e5e"/><stop offset=".9495" stop-color="#4e4e4e"/><stop offset=".971" stop-color="#434343"/><stop offset=".9871" stop-color="#3d3d3d"/><stop offset="1" stop-color="#3c3c3c"/></linearGradient><linearGradient id="h3_10"><stop offset="0" stop-color="#787878"/><stop offset=".0107" stop-color="#787878"/><stop offset=".0125" stop-color="#848484"/><stop offset=".0143" stop-color="#8c8c8c"/><stop offset=".0179" stop-color="#979797"/><stop offset=".0269" stop-color="#a7a7a7"/><stop offset=".034" stop-color="#b0b0b0"/><stop offset=".0394" stop-color="#b3b3b3"/><stop offset=".052" stop-color="#b0b0b0"/><stop offset=".1111" stop-color="#9a9a9a"/><stop offset=".1541" stop-color="#8f8f8f"/><stop offset=".1648" stop-color="#898989"/><stop offset=".1702" stop-color="#818181"/><stop offset=".1756" stop-color="#747474"/><stop offset=".1863" stop-color="#686868"/><stop offset=".1917" stop-color="#585858"/><stop offset=".2024" stop-color="#4a4a4a"/><stop offset=".2132" stop-color="#414141"/><stop offset=".2293" stop-color="#3b3b3b"/><stop offset=".2723" stop-color="#343434"/><stop offset=".3422" stop-color="#2f2f2f"/><stop offset=".369" stop-color="#323232"/><stop offset=".412" stop-color="#3d3d3d"/><stop offset=".4282" stop-color="#454545"/><stop offset=".4497" stop-color="#565656"/><stop offset=".4658" stop-color="#616161"/><stop offset=".4765" stop-color="#6f6f6f"/><stop offset=".4819" stop-color="#787878"/><stop offset=".4873" stop-color="#848484"/><stop offset=".498" stop-color="#8c8c8c"/><stop offset=".5195" stop-color="#919191"/><stop offset=".5786" stop-color="#9a9a9a"/><stop offset=".6378" stop-color="#9e9e9e"/><stop offset=".6808" stop-color="#9e9e9e"/><stop offset=".7936" stop-color="#939393"/><stop offset=".8312" stop-color="#8d8d8d"/><stop offset=".8527" stop-color="#858585"/><stop offset=".8581" stop-color="#818181"/><stop offset=".8635" stop-color="#797979"/><stop offset=".8904" stop-color="#686868"/><stop offset=".9119" stop-color="#525252"/><stop offset=".9226" stop-color="#494949"/><stop offset=".9495" stop-color="#3c3c3c"/><stop offset=".9817" stop-color="#323232"/><stop offset="1" stop-color="#313131"/></linearGradient><linearGradient id="h3_11"><stop offset="0" stop-color="#7a7a7a"/><stop offset=".0107" stop-color="#7a7a7a"/><stop offset=".0125" stop-color="#8b8b8b"/><stop offset=".0143" stop-color="#949494"/><stop offset=".0161" stop-color="#9a9a9a"/><stop offset=".0269" stop-color="#b3b3b3"/><stop offset=".0322" stop-color="#bababa"/><stop offset=".0376" stop-color="#bcbcbc"/><stop offset=".0502" stop-color="#b7b7b7"/><stop offset=".086" stop-color="#a4a4a4"/><stop offset=".1129" stop-color="#9a9a9a"/><stop offset=".1326" stop-color="#939393"/><stop offset=".1451" stop-color="#8a8a8a"/><stop offset=".1469" stop-color="#868686"/><stop offset=".1505" stop-color="#7a7a7a"/><stop offset=".1541" stop-color="#757575"/><stop offset=".1648" stop-color="#686868"/><stop offset=".1702" stop-color="#535353"/><stop offset=".1756" stop-color="#494949"/><stop offset=".1809" stop-color="#424242"/><stop offset=".1917" stop-color="#3a3a3a"/><stop offset=".2078" stop-color="#343434"/><stop offset=".2562" stop-color="#2d2d2d"/><stop offset=".326" stop-color="#2a2a2a"/><stop offset=".3583" stop-color="#2e2e2e"/><stop offset=".4013" stop-color="#383838"/><stop offset=".4174" stop-color="#414141"/><stop offset=".4497" stop-color="#595959"/><stop offset=".455" stop-color="#5e5e5e"/><stop offset=".4658" stop-color="#717171"/><stop offset=".4712" stop-color="#7c7c7c"/><stop offset=".4765" stop-color="#898989"/><stop offset=".4873" stop-color="#909090"/><stop offset=".5142" stop-color="#979797"/><stop offset=".5679" stop-color="#a0a0a0"/><stop offset=".627" stop-color="#a4a4a4"/><stop offset=".67" stop-color="#a3a3a3"/><stop offset=".7936" stop-color="#959595"/><stop offset=".8205" stop-color="#8e8e8e"/><stop offset=".8312" stop-color="#898989"/><stop offset=".8366" stop-color="#858585"/><stop offset=".842" stop-color="#7c7c7c"/><stop offset=".8581" stop-color="#6f6f6f"/><stop offset=".8689" stop-color="#676767"/><stop offset=".8742" stop-color="#616161"/><stop offset=".8796" stop-color="#585858"/><stop offset=".8904" stop-color="#4b4b4b"/><stop offset=".9011" stop-color="#434343"/><stop offset=".928" stop-color="#373737"/><stop offset=".9602" stop-color="#2e2e2e"/><stop offset=".9925" stop-color="#2a2a2a"/><stop offset="1" stop-color="#2a2a2a"/></linearGradient><linearGradient id="h3_12"><stop offset="0" stop-color="#7d7d7d"/><stop offset=".0107" stop-color="#7d7d7d"/><stop offset=".0125" stop-color="#919191"/><stop offset=".0143" stop-color="#9b9b9b"/><stop offset=".0161" stop-color="#a2a2a2"/><stop offset=".0197" stop-color="#ababab"/><stop offset=".0233" stop-color="#b6b6b6"/><stop offset=".0269" stop-color="#bebebe"/><stop offset=".0305" stop-color="#c2c2c2"/><stop offset=".0358" stop-color="#c3c3c3"/><stop offset=".0466" stop-color="#bdbdbd"/><stop offset=".077" stop-color="#a9a9a9"/><stop offset=".1111" stop-color="#989898"/><stop offset=".1218" stop-color="#8f8f8f"/><stop offset=".1236" stop-color="#8a8a8a"/><stop offset=".1272" stop-color="#7c7c7c"/><stop offset=".1344" stop-color="#707070"/><stop offset=".1415" stop-color="#666666"/><stop offset=".1433" stop-color="#626262"/><stop offset=".1487" stop-color="#4b4b4b"/><stop offset=".1523" stop-color="#454545"/><stop offset=".1594" stop-color="#3d3d3d"/><stop offset=".1702" stop-color="#343434"/><stop offset=".1863" stop-color="#2e2e2e"/><stop offset=".2401" stop-color="#282828"/><stop offset=".3099" stop-color="#252525"/><stop offset=".3422" stop-color="#292929"/><stop offset=".3852" stop-color="#333333"/><stop offset=".4067" stop-color="#3d3d3d"/><stop offset=".4335" stop-color="#505050"/><stop offset=".4443" stop-color="#5b5b5b"/><stop offset=".455" stop-color="#727272"/><stop offset=".4658" stop-color="#8c8c8c"/><stop offset=".4765" stop-color="#949494"/><stop offset=".498" stop-color="#9a9a9a"/><stop offset=".5518" stop-color="#a3a3a3"/><stop offset=".6109" stop-color="#a8a8a8"/><stop offset=".6539" stop-color="#a8a8a8"/><stop offset=".7184" stop-color="#a1a1a1"/><stop offset=".7829" stop-color="#989898"/><stop offset=".8044" stop-color="#919191"/><stop offset=".8151" stop-color="#8c8c8c"/><stop offset=".8205" stop-color="#878787"/><stop offset=".8259" stop-color="#7d7d7d"/><stop offset=".8527" stop-color="#646464"/><stop offset=".8635" stop-color="#515151"/><stop offset=".8689" stop-color="#4a4a4a"/><stop offset=".8742" stop-color="#444444"/><stop offset=".885" stop-color="#3c3c3c"/><stop offset=".9119" stop-color="#323232"/><stop offset=".9441" stop-color="#2a2a2a"/><stop offset=".9871" stop-color="#242424"/><stop offset="1" stop-color="#242424"/></linearGradient><linearGradient id="h3_13"><stop offset="0" stop-color="#808080"/><stop offset=".0107" stop-color="#808080"/><stop offset=".0125" stop-color="#969696"/><stop offset=".0143" stop-color="#a0a0a0"/><stop offset=".0215" stop-color="#bababa"/><stop offset=".0251" stop-color="#c3c3c3"/><stop offset=".0287" stop-color="#c8c8c8"/><stop offset=".034" stop-color="#c9c9c9"/><stop offset=".0448" stop-color="#c2c2c2"/><stop offset=".0735" stop-color="#ababab"/><stop offset=".0949" stop-color="#9f9f9f"/><stop offset=".1039" stop-color="#969696"/><stop offset=".1057" stop-color="#949494"/><stop offset=".1075" stop-color="#8e8e8e"/><stop offset=".1111" stop-color="#7d7d7d"/><stop offset=".1164" stop-color="#707070"/><stop offset=".1236" stop-color="#626262"/><stop offset=".1254" stop-color="#595959"/><stop offset=".1272" stop-color="#4e4e4e"/><stop offset=".129" stop-color="#454545"/><stop offset=".1308" stop-color="#414141"/><stop offset=".1397" stop-color="#373737"/><stop offset=".1523" stop-color="#2e2e2e"/><stop offset=".1702" stop-color="#292929"/><stop offset=".2293" stop-color="#232323"/><stop offset=".2992" stop-color="#222222"/><stop offset=".3368" stop-color="#272727"/><stop offset=".3744" stop-color="#303030"/><stop offset=".3959" stop-color="#3a3a3a"/><stop offset=".4228" stop-color="#4b4b4b"/><stop offset=".4282" stop-color="#505050"/><stop offset=".4335" stop-color="#575757"/><stop offset=".4497" stop-color="#7f7f7f"/><stop offset=".455" stop-color="#8e8e8e"/><stop offset=".4658" stop-color="#969696"/><stop offset=".4819" stop-color="#9b9b9b"/><stop offset=".5357" stop-color="#a6a6a6"/><stop offset=".5948" stop-color="#acacac"/><stop offset=".6378" stop-color="#adadad"/><stop offset=".6915" stop-color="#a7a7a7"/><stop offset=".7721" stop-color="#9a9a9a"/><stop offset=".7936" stop-color="#939393"/><stop offset=".8044" stop-color="#8d8d8d"/><stop offset=".8151" stop-color="#7d7d7d"/><stop offset=".8366" stop-color="#646464"/><stop offset=".842" stop-color="#5c5c5c"/><stop offset=".8474" stop-color="#505050"/><stop offset=".8527" stop-color="#474747"/><stop offset=".8581" stop-color="#414141"/><stop offset=".8689" stop-color="#393939"/><stop offset=".8957" stop-color="#2f2f2f"/><stop offset=".9334" stop-color="#262626"/><stop offset=".9817" stop-color="#212121"/><stop offset="1" stop-color="#202020"/></linearGradient><linearGradient id="h3_14"><stop offset="0" stop-color="#828282"/><stop offset=".0107" stop-color="#828282"/><stop offset=".0125" stop-color="#9a9a9a"/><stop offset=".0143" stop-color="#a5a5a5"/><stop offset=".0197" stop-color="#bababa"/><stop offset=".0233" stop-color="#c5c5c5"/><stop offset=".0269" stop-color="#cbcbcb"/><stop offset=".0305" stop-color="#cdcdcd"/><stop offset=".0376" stop-color="#cacaca"/><stop offset=".0699" stop-color="#adadad"/><stop offset=".0878" stop-color="#a1a1a1"/><stop offset=".0949" stop-color="#999999"/><stop offset=".0967" stop-color="#949494"/><stop offset=".1003" stop-color="#808080"/><stop offset=".1057" stop-color="#6f6f6f"/><stop offset=".1111" stop-color="#606060"/><stop offset=".1129" stop-color="#565656"/><stop offset=".1147" stop-color="#484848"/><stop offset=".1164" stop-color="#3e3e3e"/><stop offset=".12" stop-color="#383838"/><stop offset=".129" stop-color="#2f2f2f"/><stop offset=".1415" stop-color="#282828"/><stop offset=".1594" stop-color="#242424"/><stop offset=".2239" stop-color="#1f1f1f"/><stop offset=".2884" stop-color="#1f1f1f"/><stop offset=".3314" stop-color="#262626"/><stop offset=".3637" stop-color="#2d2d2d"/><stop offset=".3852" stop-color="#363636"/><stop offset=".412" stop-color="#464646"/><stop offset=".4174" stop-color="#4a4a4a"/><stop offset=".4228" stop-color="#515151"/><stop offset=".4335" stop-color="#6b6b6b"/><stop offset=".4389" stop-color="#797979"/><stop offset=".4443" stop-color="#8a8a8a"/><stop offset=".4497" stop-color="#929292"/><stop offset=".4604" stop-color="#999999"/><stop offset=".4819" stop-color="#9f9f9f"/><stop offset=".5357" stop-color="#a9a9a9"/><stop offset=".5948" stop-color="#afafaf"/><stop offset=".6378" stop-color="#b0b0b0"/><stop offset=".6915" stop-color="#a9a9a9"/><stop offset=".7614" stop-color="#9d9d9d"/><stop offset=".7829" stop-color="#969696"/><stop offset=".7936" stop-color="#909090"/><stop offset=".8044" stop-color="#7f7f7f"/><stop offset=".8312" stop-color="#5c5c5c"/><stop offset=".8366" stop-color="#4d4d4d"/><stop offset=".842" stop-color="#444444"/><stop offset=".8474" stop-color="#3e3e3e"/><stop offset=".8581" stop-color="#363636"/><stop offset=".885" stop-color="#2c2c2c"/><stop offset=".9226" stop-color="#232323"/><stop offset=".971" stop-color="#1f1f1f"/><stop offset="1" stop-color="#1e1e1e"/></linearGradient><linearGradient id="h3_15"><stop offset="0" stop-color="#838383"/><stop offset=".0107" stop-color="#838383"/><stop offset=".0125" stop-color="#9d9d9d"/><stop offset=".0143" stop-color="#a8a8a8"/><stop offset=".0197" stop-color="#bfbfbf"/><stop offset=".0215" stop-color="#c5c5c5"/><stop offset=".0251" stop-color="#cdcdcd"/><stop offset=".0287" stop-color="#d0d0d0"/><stop offset=".034" stop-color="#cfcfcf"/><stop offset=".0484" stop-color="#c1c1c1"/><stop offset=".0699" stop-color="#adadad"/><stop offset=".0824" stop-color="#a4a4a4"/><stop offset=".0896" stop-color="#9b9b9b"/><stop offset=".0914" stop-color="#949494"/><stop offset=".0932" stop-color="#888888"/><stop offset=".0949" stop-color="#7f7f7f"/><stop offset=".0985" stop-color="#717171"/><stop offset=".1039" stop-color="#5f5f5f"/><stop offset=".1057" stop-color="#535353"/><stop offset=".1075" stop-color="#434343"/><stop offset=".1093" stop-color="#3a3a3a"/><stop offset=".1147" stop-color="#323232"/><stop offset=".1236" stop-color="#2a2a2a"/><stop offset=".1362" stop-color="#242424"/><stop offset=".1594" stop-color="#202020"/><stop offset=".2293" stop-color="#1d1d1d"/><stop offset=".2777" stop-color="#1d1d1d"/><stop offset=".3207" stop-color="#232323"/><stop offset=".3583" stop-color="#2c2c2c"/><stop offset=".3798" stop-color="#353535"/><stop offset=".4067" stop-color="#444444"/><stop offset=".412" stop-color="#494949"/><stop offset=".4174" stop-color="#505050"/><stop offset=".4282" stop-color="#6b6b6b"/><stop offset=".4335" stop-color="#7a7a7a"/><stop offset=".4389" stop-color="#8b8b8b"/><stop offset=".4443" stop-color="#939393"/><stop offset=".455" stop-color="#9a9a9a"/><stop offset=".4765" stop-color="#a0a0a0"/><stop offset=".5357" stop-color="#ababab"/><stop offset=".584" stop-color="#b1b1b1"/><stop offset=".6324" stop-color="#b2b2b2"/><stop offset=".6754" stop-color="#adadad"/><stop offset=".756" stop-color="#9f9f9f"/><stop offset=".7775" stop-color="#979797"/><stop offset=".7882" stop-color="#919191"/><stop offset=".799" stop-color="#7f7f7f"/><stop offset=".8205" stop-color="#616161"/><stop offset=".8259" stop-color="#575757"/><stop offset=".8312" stop-color="#484848"/><stop offset=".8366" stop-color="#414141"/><stop offset=".842" stop-color="#3b3b3b"/><stop offset=".8527" stop-color="#343434"/><stop offset=".885" stop-color="#282828"/><stop offset=".9226" stop-color="#202020"/><stop offset=".9817" stop-color="#1c1c1c"/><stop offset="1" stop-color="#1c1c1c"/></linearGradient><linearGradient id="h3_16"><stop offset="0" stop-color="#848484"/><stop offset=".0107" stop-color="#848484"/><stop offset=".0125" stop-color="#9e9e9e"/><stop offset=".0143" stop-color="#a9a9a9"/><stop offset=".0179" stop-color="#b9b9b9"/><stop offset=".0215" stop-color="#c7c7c7"/><stop offset=".0233" stop-color="#cbcbcb"/><stop offset=".0269" stop-color="#d1d1d1"/><stop offset=".0305" stop-color="#d1d1d1"/><stop offset=".0376" stop-color="#cdcdcd"/><stop offset=".0663" stop-color="#b0b0b0"/><stop offset=".0806" stop-color="#a5a5a5"/><stop offset=".086" stop-color="#9e9e9e"/><stop offset=".0878" stop-color="#9a9a9a"/><stop offset=".0896" stop-color="#909090"/><stop offset=".0914" stop-color="#838383"/><stop offset=".0967" stop-color="#6e6e6e"/><stop offset=".1003" stop-color="#606060"/><stop offset=".1021" stop-color="#575757"/><stop offset=".1039" stop-color="#464646"/><stop offset=".1057" stop-color="#3a3a3a"/><stop offset=".1075" stop-color="#363636"/><stop offset=".1147" stop-color="#2d2d2d"/><stop offset=".1254" stop-color="#252525"/><stop offset=".1415" stop-color="#212121"/><stop offset=".2078" stop-color="#1c1c1c"/><stop offset=".2723" stop-color="#1c1c1c"/><stop offset=".3153" stop-color="#222222"/><stop offset=".3529" stop-color="#2a2a2a"/><stop offset=".3744" stop-color="#333333"/><stop offset=".4067" stop-color="#454545"/><stop offset=".412" stop-color="#4b4b4b"/><stop offset=".4174" stop-color="#535353"/><stop offset=".4389" stop-color="#919191"/><stop offset=".4497" stop-color="#999999"/><stop offset=".4658" stop-color="#9f9f9f"/><stop offset=".5249" stop-color="#ababab"/><stop offset=".5786" stop-color="#b2b2b2"/><stop offset=".627" stop-color="#b4b4b4"/><stop offset=".6646" stop-color="#b0b0b0"/><stop offset=".756" stop-color="#9f9f9f"/><stop offset=".7775" stop-color="#979797"/><stop offset=".7829" stop-color="#949494"/><stop offset=".7882" stop-color="#8e8e8e"/><stop offset=".7936" stop-color="#828282"/><stop offset=".799" stop-color="#7b7b7b"/><stop offset=".8205" stop-color="#5c5c5c"/><stop offset=".8259" stop-color="#4c4c4c"/><stop offset=".8312" stop-color="#434343"/><stop offset=".8366" stop-color="#3c3c3c"/><stop offset=".8474" stop-color="#343434"/><stop offset=".8742" stop-color="#2a2a2a"/><stop offset=".9119" stop-color="#212121"/><stop offset=".9602" stop-color="#1c1c1c"/><stop offset="1" stop-color="#1b1b1b"/></linearGradient><linearGradient id="h3_17"><stop offset="0" stop-color="#848484"/><stop offset=".0107" stop-color="#848484"/><stop offset=".0125" stop-color="#9e9e9e"/><stop offset=".0143" stop-color="#a9a9a9"/><stop offset=".0179" stop-color="#b9b9b9"/><stop offset=".0215" stop-color="#c6c6c6"/><stop offset=".0233" stop-color="#cbcbcb"/><stop offset=".0269" stop-color="#d0d0d0"/><stop offset=".0305" stop-color="#d1d1d1"/><stop offset=".0376" stop-color="#cdcdcd"/><stop offset=".0663" stop-color="#b0b0b0"/><stop offset=".0806" stop-color="#a5a5a5"/><stop offset=".0878" stop-color="#9b9b9b"/><stop offset=".0896" stop-color="#939393"/><stop offset=".0914" stop-color="#878787"/><stop offset=".0949" stop-color="#767676"/><stop offset=".1021" stop-color="#5c5c5c"/><stop offset=".1039" stop-color="#4b4b4b"/><stop offset=".1057" stop-color="#3e3e3e"/><stop offset=".1075" stop-color="#373737"/><stop offset=".1147" stop-color="#2e2e2e"/><stop offset=".1254" stop-color="#262626"/><stop offset=".1397" stop-color="#212121"/><stop offset=".1971" stop-color="#1d1d1d"/><stop offset=".2669" stop-color="#1b1b1b"/><stop offset=".3099" stop-color="#212121"/><stop offset=".3529" stop-color="#2a2a2a"/><stop offset=".3744" stop-color="#333333"/><stop offset=".4067" stop-color="#454545"/><stop offset=".412" stop-color="#4a4a4a"/><stop offset=".4174" stop-color="#525252"/><stop offset=".4335" stop-color="#808080"/><stop offset=".4389" stop-color="#919191"/><stop offset=".4497" stop-color="#999999"/><stop offset=".4658" stop-color="#9f9f9f"/><stop offset=".5249" stop-color="#aaaaaa"/><stop offset=".5786" stop-color="#b2b2b2"/><stop offset=".627" stop-color="#b3b3b3"/><stop offset=".6646" stop-color="#afafaf"/><stop offset=".756" stop-color="#9f9f9f"/><stop offset=".7775" stop-color="#979797"/><stop offset=".7829" stop-color="#949494"/><stop offset=".7882" stop-color="#8e8e8e"/><stop offset=".7936" stop-color="#838383"/><stop offset=".799" stop-color="#7c7c7c"/><stop offset=".8205" stop-color="#5d5d5d"/><stop offset=".8259" stop-color="#4e4e4e"/><stop offset=".8312" stop-color="#444444"/><stop offset=".8366" stop-color="#3d3d3d"/><stop offset=".8474" stop-color="#353535"/><stop offset=".8742" stop-color="#2a2a2a"/><stop offset=".9065" stop-color="#222222"/><stop offset=".9441" stop-color="#1d1d1d"/><stop offset="1" stop-color="#1b1b1b"/></linearGradient><linearGradient id="h3_18"><stop offset="0" stop-color="#838383"/><stop offset=".0107" stop-color="#838383"/><stop offset=".0125" stop-color="#9c9c9c"/><stop offset=".0143" stop-color="#a7a7a7"/><stop offset=".0197" stop-color="#bebebe"/><stop offset=".0233" stop-color="#c8c8c8"/><stop offset=".0269" stop-color="#cecece"/><stop offset=".0305" stop-color="#cfcfcf"/><stop offset=".0376" stop-color="#cbcbcb"/><stop offset=".0681" stop-color="#afafaf"/><stop offset=".0842" stop-color="#a3a3a3"/><stop offset=".0914" stop-color="#9a9a9a"/><stop offset=".0932" stop-color="#929292"/><stop offset=".0949" stop-color="#868686"/><stop offset=".0985" stop-color="#777777"/><stop offset=".1057" stop-color="#606060"/><stop offset=".1075" stop-color="#555555"/><stop offset=".1093" stop-color="#454545"/><stop offset=".1111" stop-color="#3c3c3c"/><stop offset=".1147" stop-color="#363636"/><stop offset=".1236" stop-color="#2d2d2d"/><stop offset=".1362" stop-color="#262626"/><stop offset=".1541" stop-color="#222222"/><stop offset=".2239" stop-color="#1e1e1e"/><stop offset=".2831" stop-color="#1e1e1e"/><stop offset=".326" stop-color="#242424"/><stop offset=".3583" stop-color="#2c2c2c"/><stop offset=".3798" stop-color="#353535"/><stop offset=".412" stop-color="#474747"/><stop offset=".4174" stop-color="#4d4d4d"/><stop offset=".4228" stop-color="#575757"/><stop offset=".4335" stop-color="#757575"/><stop offset=".4389" stop-color="#848484"/><stop offset=".4443" stop-color="#919191"/><stop offset=".455" stop-color="#999999"/><stop offset=".4712" stop-color="#9e9e9e"/><stop offset=".5303" stop-color="#aaaaaa"/><stop offset=".584" stop-color="#b1b1b1"/><stop offset=".6324" stop-color="#b2b2b2"/><stop offset=".6754" stop-color="#acacac"/><stop offset=".756" stop-color="#9f9f9f"/><stop offset=".7775" stop-color="#979797"/><stop offset=".7882" stop-color="#929292"/><stop offset=".7936" stop-color="#8b8b8b"/><stop offset=".799" stop-color="#818181"/><stop offset=".8259" stop-color="#5c5c5c"/><stop offset=".8312" stop-color="#4c4c4c"/><stop offset=".8366" stop-color="#434343"/><stop offset=".842" stop-color="#3d3d3d"/><stop offset=".8527" stop-color="#353535"/><stop offset=".8796" stop-color="#2b2b2b"/><stop offset=".9172" stop-color="#222222"/><stop offset=".9602" stop-color="#1e1e1e"/><stop offset="1" stop-color="#1d1d1d"/></linearGradient><linearGradient id="h3_19"><stop offset="0" stop-color="#818181"/><stop offset=".0107" stop-color="#818181"/><stop offset=".0125" stop-color="#999999"/><stop offset=".0143" stop-color="#a4a4a4"/><stop offset=".0215" stop-color="#bfbfbf"/><stop offset=".0251" stop-color="#c7c7c7"/><stop offset=".0287" stop-color="#cbcbcb"/><stop offset=".034" stop-color="#cbcbcb"/><stop offset=".0448" stop-color="#c3c3c3"/><stop offset=".0717" stop-color="#acacac"/><stop offset=".0896" stop-color="#a1a1a1"/><stop offset=".0967" stop-color="#999999"/><stop offset=".0985" stop-color="#979797"/><stop offset=".1003" stop-color="#8f8f8f"/><stop offset=".1021" stop-color="#858585"/><stop offset=".1039" stop-color="#7d7d7d"/><stop offset=".1075" stop-color="#727272"/><stop offset=".1147" stop-color="#616161"/><stop offset=".1164" stop-color="#565656"/><stop offset=".1182" stop-color="#494949"/><stop offset=".12" stop-color="#404040"/><stop offset=".1236" stop-color="#3a3a3a"/><stop offset=".1326" stop-color="#313131"/><stop offset=".1451" stop-color="#2a2a2a"/><stop offset=".1648" stop-color="#252525"/><stop offset=".2293" stop-color="#202020"/><stop offset=".2884" stop-color="#1f1f1f"/><stop offset=".326" stop-color="#242424"/><stop offset=".369" stop-color="#2e2e2e"/><stop offset=".3905" stop-color="#383838"/><stop offset=".4174" stop-color="#484848"/><stop offset=".4228" stop-color="#4e4e4e"/><stop offset=".4282" stop-color="#555555"/><stop offset=".4443" stop-color="#7f7f7f"/><stop offset=".4497" stop-color="#8f8f8f"/><stop offset=".4604" stop-color="#979797"/><stop offset=".4765" stop-color="#9d9d9d"/><stop offset=".5303" stop-color="#a7a7a7"/><stop offset=".5948" stop-color="#aeaeae"/><stop offset=".6378" stop-color="#afafaf"/><stop offset=".6969" stop-color="#a8a8a8"/><stop offset=".7668" stop-color="#9c9c9c"/><stop offset=".7882" stop-color="#949494"/><stop offset=".7936" stop-color="#919191"/><stop offset=".799" stop-color="#8d8d8d"/><stop offset=".8044" stop-color="#828282"/><stop offset=".8312" stop-color="#616161"/><stop offset=".842" stop-color="#4a4a4a"/><stop offset=".8474" stop-color="#424242"/><stop offset=".8581" stop-color="#393939"/><stop offset=".8796" stop-color="#303030"/><stop offset=".9119" stop-color="#262626"/><stop offset=".9495" stop-color="#212121"/><stop offset="1" stop-color="#1f1f1f"/></linearGradient><linearGradient id="h3_20"><stop offset="0" stop-color="#7f7f7f"/><stop offset=".0107" stop-color="#7f7f7f"/><stop offset=".0125" stop-color="#949494"/><stop offset=".0143" stop-color="#9f9f9f"/><stop offset=".0161" stop-color="#a6a6a6"/><stop offset=".0197" stop-color="#b1b1b1"/><stop offset=".0233" stop-color="#bcbcbc"/><stop offset=".0269" stop-color="#c3c3c3"/><stop offset=".0305" stop-color="#c7c7c7"/><stop offset=".0358" stop-color="#c6c6c6"/><stop offset=".0502" stop-color="#bcbcbc"/><stop offset=".0752" stop-color="#aaaaaa"/><stop offset=".0985" stop-color="#9e9e9e"/><stop offset=".1093" stop-color="#949494"/><stop offset=".1111" stop-color="#909090"/><stop offset=".1147" stop-color="#808080"/><stop offset=".1164" stop-color="#7b7b7b"/><stop offset=".1218" stop-color="#707070"/><stop offset=".129" stop-color="#636363"/><stop offset=".1308" stop-color="#5b5b5b"/><stop offset=".1344" stop-color="#484848"/><stop offset=".1362" stop-color="#434343"/><stop offset=".1451" stop-color="#393939"/><stop offset=".1541" stop-color="#323232"/><stop offset=".1702" stop-color="#2b2b2b"/><stop offset=".2132" stop-color="#262626"/><stop offset=".2884" stop-color="#222222"/><stop offset=".3153" stop-color="#242424"/><stop offset=".3637" stop-color="#2d2d2d"/><stop offset=".3852" stop-color="#333333"/><stop offset=".4067" stop-color="#3f3f3f"/><stop offset=".4282" stop-color="#4d4d4d"/><stop offset=".4335" stop-color="#535353"/><stop offset=".4389" stop-color="#5c5c5c"/><stop offset=".4497" stop-color="#757575"/><stop offset=".455" stop-color="#868686"/><stop offset=".4604" stop-color="#8f8f8f"/><stop offset=".4712" stop-color="#969696"/><stop offset=".498" stop-color="#9d9d9d"/><stop offset=".5518" stop-color="#a6a6a6"/><stop offset=".6109" stop-color="#ababab"/><stop offset=".6539" stop-color="#aaaaaa"/><stop offset=".7238" stop-color="#a2a2a2"/><stop offset=".7775" stop-color="#999999"/><stop offset=".799" stop-color="#929292"/><stop offset=".8044" stop-color="#8f8f8f"/><stop offset=".8097" stop-color="#8b8b8b"/><stop offset=".8151" stop-color="#818181"/><stop offset=".8312" stop-color="#6f6f6f"/><stop offset=".842" stop-color="#636363"/><stop offset=".8474" stop-color="#5a5a5a"/><stop offset=".8527" stop-color="#4f4f4f"/><stop offset=".8581" stop-color="#474747"/><stop offset=".8635" stop-color="#424242"/><stop offset=".8742" stop-color="#3a3a3a"/><stop offset=".9011" stop-color="#2f2f2f"/><stop offset=".9387" stop-color="#262626"/><stop offset=".9871" stop-color="#222222"/><stop offset="1" stop-color="#222222"/></linearGradient><linearGradient id="h3_21"><stop offset="0" stop-color="#7c7c7c"/><stop offset=".0107" stop-color="#7c7c7c"/><stop offset=".0125" stop-color="#8f8f8f"/><stop offset=".0143" stop-color="#999999"/><stop offset=".0161" stop-color="#9f9f9f"/><stop offset=".0251" stop-color="#b7b7b7"/><stop offset=".0287" stop-color="#bdbdbd"/><stop offset=".034" stop-color="#c1c1c1"/><stop offset=".0412" stop-color="#bfbfbf"/><stop offset=".0788" stop-color="#a8a8a8"/><stop offset=".1182" stop-color="#969696"/><stop offset=".1272" stop-color="#8f8f8f"/><stop offset=".129" stop-color="#8d8d8d"/><stop offset=".1308" stop-color="#888888"/><stop offset=".1344" stop-color="#7b7b7b"/><stop offset=".1415" stop-color="#707070"/><stop offset=".1487" stop-color="#676767"/><stop offset=".1505" stop-color="#646464"/><stop offset=".1523" stop-color="#5e5e5e"/><stop offset=".1541" stop-color="#555555"/><stop offset=".1594" stop-color="#474747"/><stop offset=".1648" stop-color="#404040"/><stop offset=".1756" stop-color="#373737"/><stop offset=".1863" stop-color="#323232"/><stop offset=".2132" stop-color="#2d2d2d"/><stop offset=".2723" stop-color="#282828"/><stop offset=".3207" stop-color="#272727"/><stop offset=".3583" stop-color="#2c2c2c"/><stop offset=".3905" stop-color="#343434"/><stop offset=".412" stop-color="#3f3f3f"/><stop offset=".4389" stop-color="#515151"/><stop offset=".4443" stop-color="#575757"/><stop offset=".4497" stop-color="#5e5e5e"/><stop offset=".4604" stop-color="#757575"/><stop offset=".4658" stop-color="#858585"/><stop offset=".4712" stop-color="#8c8c8c"/><stop offset=".4819" stop-color="#939393"/><stop offset=".5142" stop-color="#9b9b9b"/><stop offset=".5679" stop-color="#a3a3a3"/><stop offset=".627" stop-color="#a7a7a7"/><stop offset=".67" stop-color="#a6a6a6"/><stop offset=".7829" stop-color="#979797"/><stop offset=".8097" stop-color="#909090"/><stop offset=".8205" stop-color="#8b8b8b"/><stop offset=".8259" stop-color="#858585"/><stop offset=".8312" stop-color="#7c7c7c"/><stop offset=".8581" stop-color="#646464"/><stop offset=".8689" stop-color="#535353"/><stop offset=".8742" stop-color="#4b4b4b"/><stop offset=".8796" stop-color="#464646"/><stop offset=".8904" stop-color="#3e3e3e"/><stop offset=".9172" stop-color="#333333"/><stop offset=".9495" stop-color="#2b2b2b"/><stop offset=".9871" stop-color="#262626"/><stop offset="1" stop-color="#262626"/></linearGradient><linearGradient id="h3_22"><stop offset="0" stop-color="#797979"/><stop offset=".0107" stop-color="#797979"/><stop offset=".0125" stop-color="#898989"/><stop offset=".0143" stop-color="#929292"/><stop offset=".0161" stop-color="#989898"/><stop offset=".0233" stop-color="#a8a8a8"/><stop offset=".0287" stop-color="#b2b2b2"/><stop offset=".034" stop-color="#b8b8b8"/><stop offset=".0394" stop-color="#b9b9b9"/><stop offset=".0573" stop-color="#b2b2b2"/><stop offset=".1057" stop-color="#9c9c9c"/><stop offset=".1415" stop-color="#919191"/><stop offset=".1523" stop-color="#8a8a8a"/><stop offset=".1541" stop-color="#888888"/><stop offset=".1594" stop-color="#777777"/><stop offset=".1702" stop-color="#6a6a6a"/><stop offset=".1756" stop-color="#5a5a5a"/><stop offset=".1809" stop-color="#4e4e4e"/><stop offset=".1863" stop-color="#464646"/><stop offset=".1917" stop-color="#414141"/><stop offset=".2024" stop-color="#3a3a3a"/><stop offset=".2186" stop-color="#353535"/><stop offset=".2669" stop-color="#2f2f2f"/><stop offset=".3314" stop-color="#2b2b2b"/><stop offset=".3583" stop-color="#2e2e2e"/><stop offset=".4013" stop-color="#383838"/><stop offset=".4174" stop-color="#3f3f3f"/><stop offset=".4335" stop-color="#4a4a4a"/><stop offset=".455" stop-color="#595959"/><stop offset=".4604" stop-color="#5f5f5f"/><stop offset=".4712" stop-color="#727272"/><stop offset=".4765" stop-color="#808080"/><stop offset=".4819" stop-color="#888888"/><stop offset=".4927" stop-color="#8f8f8f"/><stop offset=".5249" stop-color="#969696"/><stop offset=".584" stop-color="#9f9f9f"/><stop offset=".6431" stop-color="#a2a2a2"/><stop offset=".6861" stop-color="#a0a0a0"/><stop offset=".799" stop-color="#949494"/><stop offset=".8259" stop-color="#8d8d8d"/><stop offset=".8366" stop-color="#898989"/><stop offset=".842" stop-color="#858585"/><stop offset=".8474" stop-color="#7d7d7d"/><stop offset=".8581" stop-color="#747474"/><stop offset=".8742" stop-color="#686868"/><stop offset=".8796" stop-color="#646464"/><stop offset=".885" stop-color="#5b5b5b"/><stop offset=".9011" stop-color="#494949"/><stop offset=".9119" stop-color="#424242"/><stop offset=".9387" stop-color="#373737"/><stop offset=".971" stop-color="#2f2f2f"/><stop offset=".9925" stop-color="#2c2c2c"/><stop offset="1" stop-color="#2c2c2c"/></linearGradient><linearGradient id="h3_23"><stop offset="0" stop-color="#777777"/><stop offset=".0107" stop-color="#777777"/><stop offset=".0125" stop-color="#828282"/><stop offset=".0143" stop-color="#8a8a8a"/><stop offset=".0179" stop-color="#949494"/><stop offset=".0269" stop-color="#a4a4a4"/><stop offset=".034" stop-color="#acacac"/><stop offset=".0394" stop-color="#afafaf"/><stop offset=".0502" stop-color="#afafaf"/><stop offset=".0806" stop-color="#a5a5a5"/><stop offset=".1111" stop-color="#999999"/><stop offset=".1594" stop-color="#8e8e8e"/><stop offset=".1702" stop-color="#888888"/><stop offset=".1756" stop-color="#848484"/><stop offset=".1809" stop-color="#747474"/><stop offset=".1917" stop-color="#6a6a6a"/><stop offset=".1971" stop-color="#5c5c5c"/><stop offset=".2078" stop-color="#4e4e4e"/><stop offset=".2132" stop-color="#484848"/><stop offset=".2239" stop-color="#414141"/><stop offset=".2401" stop-color="#3b3b3b"/><stop offset=".2938" stop-color="#343434"/><stop offset=".3529" stop-color="#313131"/><stop offset=".3798" stop-color="#343434"/><stop offset=".4174" stop-color="#3e3e3e"/><stop offset=".4335" stop-color="#464646"/><stop offset=".455" stop-color="#565656"/><stop offset=".4712" stop-color="#606060"/><stop offset=".4819" stop-color="#6e6e6e"/><stop offset=".4873" stop-color="#777777"/><stop offset=".4927" stop-color="#828282"/><stop offset=".5034" stop-color="#898989"/><stop offset=".5357" stop-color="#919191"/><stop offset=".6001" stop-color="#9a9a9a"/><stop offset=".6593" stop-color="#9c9c9c"/><stop offset=".7238" stop-color="#999999"/><stop offset=".7936" stop-color="#939393"/><stop offset=".8366" stop-color="#8c8c8c"/><stop offset=".8581" stop-color="#858585"/><stop offset=".8635" stop-color="#828282"/><stop offset=".8689" stop-color="#7c7c7c"/><stop offset=".8742" stop-color="#777777"/><stop offset=".9011" stop-color="#676767"/><stop offset=".9065" stop-color="#606060"/><stop offset=".928" stop-color="#4d4d4d"/><stop offset=".9495" stop-color="#414141"/><stop offset=".9764" stop-color="#373737"/><stop offset=".9925" stop-color="#343434"/><stop offset="1" stop-color="#343434"/></linearGradient><linearGradient id="h3_24"><stop offset="0" stop-color="#757575"/><stop offset=".0107" stop-color="#757575"/><stop offset=".0143" stop-color="#828282"/><stop offset=".0179" stop-color="#8a8a8a"/><stop offset=".0287" stop-color="#9a9a9a"/><stop offset=".0358" stop-color="#a2a2a2"/><stop offset=".0448" stop-color="#a6a6a6"/><stop offset=".0645" stop-color="#a5a5a5"/><stop offset=".0878" stop-color="#9e9e9e"/><stop offset=".1111" stop-color="#979797"/><stop offset=".1648" stop-color="#8c8c8c"/><stop offset=".1809" stop-color="#888888"/><stop offset=".1917" stop-color="#828282"/><stop offset=".1971" stop-color="#7b7b7b"/><stop offset=".2024" stop-color="#717171"/><stop offset=".2132" stop-color="#6a6a6a"/><stop offset=".2186" stop-color="#606060"/><stop offset=".2401" stop-color="#4b4b4b"/><stop offset=".2508" stop-color="#464646"/><stop offset=".2831" stop-color="#3f3f3f"/><stop offset=".3368" stop-color="#383838"/><stop offset=".3744" stop-color="#373737"/><stop offset=".4013" stop-color="#3c3c3c"/><stop offset=".4335" stop-color="#464646"/><stop offset=".4497" stop-color="#505050"/><stop offset=".4658" stop-color="#5a5a5a"/><stop offset=".4819" stop-color="#626262"/><stop offset=".4927" stop-color="#6c6c6c"/><stop offset=".498" stop-color="#717171"/><stop offset=".5034" stop-color="#7c7c7c"/><stop offset=".5142" stop-color="#838383"/><stop offset=".5357" stop-color="#888888"/><stop offset=".6055" stop-color="#929292"/><stop offset=".6646" stop-color="#969696"/><stop offset=".7721" stop-color="#929292"/><stop offset=".8581" stop-color="#888888"/><stop offset=".885" stop-color="#818181"/><stop offset=".8904" stop-color="#7e7e7e"/><stop offset=".8957" stop-color="#777777"/><stop offset=".9226" stop-color="#6b6b6b"/><stop offset=".9549" stop-color="#525252"/><stop offset=".9764" stop-color="#464646"/><stop offset=".9871" stop-color="#424242"/><stop offset="1" stop-color="#414141"/></linearGradient><linearGradient id="h3_25"><stop offset="0" stop-color="#737373"/><stop offset=".0107" stop-color="#737373"/><stop offset=".0179" stop-color="#828282"/><stop offset=".0287" stop-color="#8e8e8e"/><stop offset=".0394" stop-color="#989898"/><stop offset=".0502" stop-color="#9c9c9c"/><stop offset=".0681" stop-color="#9d9d9d"/><stop offset=".0914" stop-color="#979797"/><stop offset=".1129" stop-color="#919191"/><stop offset=".1594" stop-color="#8b8b8b"/><stop offset=".2024" stop-color="#818181"/><stop offset=".2132" stop-color="#7c7c7c"/><stop offset=".2239" stop-color="#6f6f6f"/><stop offset=".2347" stop-color="#696969"/><stop offset=".2401" stop-color="#616161"/><stop offset=".2616" stop-color="#535353"/><stop offset=".2777" stop-color="#4c4c4c"/><stop offset=".3207" stop-color="#434343"/><stop offset=".369" stop-color="#3e3e3e"/><stop offset=".3905" stop-color="#3e3e3e"/><stop offset=".4174" stop-color="#444444"/><stop offset=".4497" stop-color="#505050"/><stop offset=".4765" stop-color="#5e5e5e"/><stop offset=".498" stop-color="#666666"/><stop offset=".5088" stop-color="#6d6d6d"/><stop offset=".5142" stop-color="#747474"/><stop offset=".5195" stop-color="#787878"/><stop offset=".5303" stop-color="#7d7d7d"/><stop offset=".5948" stop-color="#888888"/><stop offset=".6539" stop-color="#8e8e8e"/><stop offset=".713" stop-color="#8f8f8f"/><stop offset=".7882" stop-color="#8d8d8d"/><stop offset=".885" stop-color="#848484"/><stop offset=".9119" stop-color="#7e7e7e"/><stop offset=".9172" stop-color="#7c7c7c"/><stop offset=".9226" stop-color="#777777"/><stop offset=".9387" stop-color="#707070"/><stop offset=".9549" stop-color="#696969"/><stop offset=".9817" stop-color="#585858"/><stop offset=".9871" stop-color="#565656"/><stop offset="1" stop-color="#545454"/></linearGradient><linearGradient id="h3_26"><stop offset="0" stop-color="#727272"/><stop offset=".0107" stop-color="#727272"/><stop offset=".0233" stop-color="#7f7f7f"/><stop offset=".043" stop-color="#8e8e8e"/><stop offset=".0609" stop-color="#939393"/><stop offset=".0752" stop-color="#929292"/><stop offset=".1093" stop-color="#898989"/><stop offset=".1648" stop-color="#868686"/><stop offset=".2239" stop-color="#7a7a7a"/><stop offset=".2347" stop-color="#757575"/><stop offset=".2401" stop-color="#6f6f6f"/><stop offset=".2508" stop-color="#6a6a6a"/><stop offset=".2616" stop-color="#636363"/><stop offset=".2884" stop-color="#575757"/><stop offset=".3368" stop-color="#4c4c4c"/><stop offset=".3798" stop-color="#474747"/><stop offset=".4067" stop-color="#474747"/><stop offset=".4282" stop-color="#4c4c4c"/><stop offset=".4927" stop-color="#626262"/><stop offset=".5088" stop-color="#666666"/><stop offset=".5249" stop-color="#6e6e6e"/><stop offset=".5303" stop-color="#727272"/><stop offset=".5464" stop-color="#777777"/><stop offset=".6324" stop-color="#848484"/><stop offset=".6969" stop-color="#888888"/><stop offset=".7936" stop-color="#898989"/><stop offset=".9172" stop-color="#808080"/><stop offset=".9441" stop-color="#7a7a7a"/><stop offset=".9549" stop-color="#747474"/><stop offset=".9817" stop-color="#6b6b6b"/><stop offset=".9871" stop-color="#686868"/><stop offset="1" stop-color="#676767"/></linearGradient><linearGradient id="h3_27"><stop offset="0" stop-color="#717171"/><stop offset=".0125" stop-color="#727272"/><stop offset=".052" stop-color="#878787"/><stop offset=".0645" stop-color="#8a8a8a"/><stop offset=".0788" stop-color="#878787"/><stop offset=".0896" stop-color="#838383"/><stop offset=".1057" stop-color="#7d7d7d"/><stop offset=".1648" stop-color="#7f7f7f"/><stop offset=".2078" stop-color="#7a7a7a"/><stop offset=".2454" stop-color="#737373"/><stop offset=".2508" stop-color="#717171"/><stop offset=".2616" stop-color="#6b6b6b"/><stop offset=".2723" stop-color="#696969"/><stop offset=".2777" stop-color="#656565"/><stop offset=".3099" stop-color="#5b5b5b"/><stop offset=".369" stop-color="#535353"/><stop offset=".412" stop-color="#515151"/><stop offset=".4335" stop-color="#535353"/><stop offset=".5088" stop-color="#656565"/><stop offset=".5303" stop-color="#696969"/><stop offset=".5518" stop-color="#707070"/><stop offset=".6593" stop-color="#7e7e7e"/><stop offset=".7345" stop-color="#828282"/><stop offset=".8259" stop-color="#838383"/><stop offset=".9387" stop-color="#7e7e7e"/><stop offset=".971" stop-color="#787878"/><stop offset=".9764" stop-color="#777777"/><stop offset=".9817" stop-color="#747474"/><stop offset=".9925" stop-color="#717171"/><stop offset="1" stop-color="#717171"/></linearGradient><linearGradient id="h3_28"><stop offset="0" stop-color="#717171"/><stop offset=".0143" stop-color="#727272"/><stop offset=".0376" stop-color="#7a7a7a"/><stop offset=".0537" stop-color="#868686"/><stop offset=".0627" stop-color="#868686"/><stop offset=".0752" stop-color="#808080"/><stop offset=".0788" stop-color="#7c7c7c"/><stop offset=".0878" stop-color="#787878"/><stop offset=".0949" stop-color="#727272"/><stop offset=".1021" stop-color="#6f6f6f"/><stop offset=".1218" stop-color="#717171"/><stop offset=".1648" stop-color="#777777"/><stop offset=".2024" stop-color="#767676"/><stop offset=".2616" stop-color="#6f6f6f"/><stop offset=".2723" stop-color="#6d6d6d"/><stop offset=".2777" stop-color="#6a6a6a"/><stop offset=".2884" stop-color="#686868"/><stop offset=".3153" stop-color="#616161"/><stop offset=".3583" stop-color="#5c5c5c"/><stop offset=".412" stop-color="#595959"/><stop offset=".4443" stop-color="#5b5b5b"/><stop offset=".5249" stop-color="#676767"/><stop offset=".5518" stop-color="#6a6a6a"/><stop offset=".5733" stop-color="#6e6e6e"/><stop offset=".7076" stop-color="#7a7a7a"/><stop offset=".8689" stop-color="#7e7e7e"/><stop offset=".971" stop-color="#7a7a7a"/><stop offset="1" stop-color="#787878"/></linearGradient><linearGradient id="h3_29"><stop offset="0" stop-color="#717171"/><stop offset=".0161" stop-color="#727272"/><stop offset=".0322" stop-color="#797979"/><stop offset=".0394" stop-color="#808080"/><stop offset=".0484" stop-color="#8b8b8b"/><stop offset=".0537" stop-color="#8d8d8d"/><stop offset=".0609" stop-color="#898989"/><stop offset=".0699" stop-color="#808080"/><stop offset=".0717" stop-color="#7c7c7c"/><stop offset=".0735" stop-color="#777777"/><stop offset=".077" stop-color="#757575"/><stop offset=".0806" stop-color="#747474"/><stop offset=".0824" stop-color="#727272"/><stop offset=".086" stop-color="#6c6c6c"/><stop offset=".0949" stop-color="#636363"/><stop offset=".1039" stop-color="#626262"/><stop offset=".1594" stop-color="#6e6e6e"/><stop offset=".1917" stop-color="#717171"/><stop offset=".2562" stop-color="#6d6d6d"/><stop offset=".2884" stop-color="#6b6b6b"/><stop offset=".2992" stop-color="#686868"/><stop offset=".3529" stop-color="#616161"/><stop offset=".4174" stop-color="#5f5f5f"/><stop offset=".4604" stop-color="#606060"/><stop offset=".6216" stop-color="#6f6f6f"/><stop offset=".7291" stop-color="#757575"/><stop offset=".9226" stop-color="#7a7a7a"/><stop offset="1" stop-color="#787878"/></linearGradient><linearGradient id="h3_30"><stop offset="0" stop-color="#717171"/><stop offset=".0143" stop-color="#727272"/><stop offset=".0233" stop-color="#787878"/><stop offset=".0322" stop-color="#818181"/><stop offset=".043" stop-color="#949494"/><stop offset=".0466" stop-color="#979797"/><stop offset=".052" stop-color="#969696"/><stop offset=".0573" stop-color="#919191"/><stop offset=".0645" stop-color="#868686"/><stop offset=".0663" stop-color="#828282"/><stop offset=".0681" stop-color="#787878"/><stop offset=".0699" stop-color="#737373"/><stop offset=".0752" stop-color="#717171"/><stop offset=".077" stop-color="#6f6f6f"/><stop offset=".0806" stop-color="#636363"/><stop offset=".0878" stop-color="#565656"/><stop offset=".0914" stop-color="#525252"/><stop offset=".1003" stop-color="#525252"/><stop offset=".1451" stop-color="#636363"/><stop offset=".1702" stop-color="#696969"/><stop offset=".2078" stop-color="#6c6c6c"/><stop offset=".3046" stop-color="#696969"/><stop offset=".369" stop-color="#636363"/><stop offset=".4497" stop-color="#636363"/><stop offset=".7291" stop-color="#727272"/><stop offset=".9656" stop-color="#777777"/><stop offset="1" stop-color="#777777"/></linearGradient><linearGradient id="h3_31"><stop offset="0" stop-color="#717171"/><stop offset=".0125" stop-color="#727272"/><stop offset=".0179" stop-color="#797979"/><stop offset=".0322" stop-color="#929292"/><stop offset=".0376" stop-color="#9d9d9d"/><stop offset=".0412" stop-color="#a2a2a2"/><stop offset=".0448" stop-color="#a3a3a3"/><stop offset=".0502" stop-color="#9f9f9f"/><stop offset=".0573" stop-color="#939393"/><stop offset=".0609" stop-color="#8a8a8a"/><stop offset=".0627" stop-color="#7d7d7d"/><stop offset=".0645" stop-color="#747474"/><stop offset=".0699" stop-color="#6f6f6f"/><stop offset=".0717" stop-color="#6c6c6c"/><stop offset=".0752" stop-color="#585858"/><stop offset=".0788" stop-color="#4c4c4c"/><stop offset=".0824" stop-color="#444444"/><stop offset=".086" stop-color="#404040"/><stop offset=".0967" stop-color="#404040"/><stop offset=".1111" stop-color="#464646"/><stop offset=".1523" stop-color="#5e5e5e"/><stop offset=".1756" stop-color="#656565"/><stop offset=".2132" stop-color="#686868"/><stop offset=".3207" stop-color="#676767"/><stop offset=".4067" stop-color="#656565"/><stop offset=".5142" stop-color="#676767"/><stop offset=".7399" stop-color="#717171"/><stop offset="1" stop-color="#767676"/></linearGradient><linearGradient id="h3_32"><stop offset="0" stop-color="#727272"/><stop offset=".0107" stop-color="#727272"/><stop offset=".0125" stop-color="#747474"/><stop offset=".0197" stop-color="#898989"/><stop offset=".0322" stop-color="#a6a6a6"/><stop offset=".0376" stop-color="#afafaf"/><stop offset=".0412" stop-color="#afafaf"/><stop offset=".0466" stop-color="#a8a8a8"/><stop offset=".0537" stop-color="#9a9a9a"/><stop offset=".0555" stop-color="#959595"/><stop offset=".0591" stop-color="#777777"/><stop offset=".0609" stop-color="#727272"/><stop offset=".0645" stop-color="#6e6e6e"/><stop offset=".0663" stop-color="#6a6a6a"/><stop offset=".0681" stop-color="#5a5a5a"/><stop offset=".0699" stop-color="#494949"/><stop offset=".0717" stop-color="#424242"/><stop offset=".0752" stop-color="#393939"/><stop offset=".0788" stop-color="#343434"/><stop offset=".0842" stop-color="#333333"/><stop offset=".0967" stop-color="#353535"/><stop offset=".1272" stop-color="#434343"/><stop offset=".1433" stop-color="#4f4f4f"/><stop offset=".1541" stop-color="#565656"/><stop offset=".1702" stop-color="#5d5d5d"/><stop offset=".1917" stop-color="#626262"/><stop offset=".2508" stop-color="#656565"/><stop offset=".3637" stop-color="#666666"/><stop offset=".5088" stop-color="#676767"/><stop offset=".756" stop-color="#707070"/><stop offset=".9817" stop-color="#747474"/><stop offset="1" stop-color="#747474"/></linearGradient><linearGradient id="h3_33"><stop offset="0" stop-color="#737373"/><stop offset=".0107" stop-color="#737373"/><stop offset=".0125" stop-color="#797979"/><stop offset=".0143" stop-color="#838383"/><stop offset=".0179" stop-color="#929292"/><stop offset=".0287" stop-color="#b4b4b4"/><stop offset=".0322" stop-color="#bbbbbb"/><stop offset=".034" stop-color="#bdbdbd"/><stop offset=".0376" stop-color="#bcbcbc"/><stop offset=".0412" stop-color="#b7b7b7"/><stop offset=".0502" stop-color="#a0a0a0"/><stop offset=".052" stop-color="#949494"/><stop offset=".0537" stop-color="#7f7f7f"/><stop offset=".0555" stop-color="#747474"/><stop offset=".0591" stop-color="#6e6e6e"/><stop offset=".0609" stop-color="#696969"/><stop offset=".0627" stop-color="#545454"/><stop offset=".0645" stop-color="#3e3e3e"/><stop offset=".0663" stop-color="#373737"/><stop offset=".0699" stop-color="#2f2f2f"/><stop offset=".0735" stop-color="#2a2a2a"/><stop offset=".0788" stop-color="#282828"/><stop offset=".0932" stop-color="#2b2b2b"/><stop offset=".1272" stop-color="#393939"/><stop offset=".1648" stop-color="#535353"/><stop offset=".1809" stop-color="#5a5a5a"/><stop offset=".2132" stop-color="#5f5f5f"/><stop offset=".2562" stop-color="#636363"/><stop offset=".3744" stop-color="#676767"/><stop offset=".5518" stop-color="#686868"/><stop offset=".7614" stop-color="#707070"/><stop offset="1" stop-color="#727272"/></linearGradient><linearGradient id="h3_34"><stop offset="0" stop-color="#757575"/><stop offset=".0107" stop-color="#757575"/><stop offset=".0143" stop-color="#8f8f8f"/><stop offset=".0161" stop-color="#999999"/><stop offset=".0215" stop-color="#afafaf"/><stop offset=".0233" stop-color="#b8b8b8"/><stop offset=".0251" stop-color="#bfbfbf"/><stop offset=".0269" stop-color="#c4c4c4"/><stop offset=".0287" stop-color="#c7c7c7"/><stop offset=".0305" stop-color="#c9c9c9"/><stop offset=".034" stop-color="#c8c8c8"/><stop offset=".0376" stop-color="#c2c2c2"/><stop offset=".0412" stop-color="#b8b8b8"/><stop offset=".0466" stop-color="#a6a6a6"/><stop offset=".0484" stop-color="#919191"/><stop offset=".0502" stop-color="#7a7a7a"/><stop offset=".052" stop-color="#737373"/><stop offset=".0555" stop-color="#696969"/><stop offset=".0573" stop-color="#565656"/><stop offset=".0591" stop-color="#393939"/><stop offset=".0609" stop-color="#2f2f2f"/><stop offset=".0645" stop-color="#272727"/><stop offset=".0681" stop-color="#222222"/><stop offset=".0735" stop-color="#1f1f1f"/><stop offset=".0896" stop-color="#222222"/><stop offset=".1272" stop-color="#323232"/><stop offset=".1702" stop-color="#4d4d4d"/><stop offset=".1863" stop-color="#555555"/><stop offset=".2186" stop-color="#5c5c5c"/><stop offset=".2562" stop-color="#606060"/><stop offset=".3798" stop-color="#676767"/><stop offset=".5625" stop-color="#696969"/><stop offset=".7668" stop-color="#707070"/><stop offset="1" stop-color="#717171"/></linearGradient><linearGradient id="h3_35"><stop offset="0" stop-color="#787878"/><stop offset=".0107" stop-color="#787878"/><stop offset=".0125" stop-color="#8b8b8b"/><stop offset=".0143" stop-color="#9b9b9b"/><stop offset=".0161" stop-color="#a6a6a6"/><stop offset=".0179" stop-color="#afafaf"/><stop offset=".0215" stop-color="#c4c4c4"/><stop offset=".0233" stop-color="#cbcbcb"/><stop offset=".0251" stop-color="#d0d0d0"/><stop offset=".0269" stop-color="#d3d3d3"/><stop offset=".0287" stop-color="#d3d3d3"/><stop offset=".0322" stop-color="#cfcfcf"/><stop offset=".0358" stop-color="#c7c7c7"/><stop offset=".0394" stop-color="#bbbbbb"/><stop offset=".0412" stop-color="#b4b4b4"/><stop offset=".043" stop-color="#ababab"/><stop offset=".0448" stop-color="#949494"/><stop offset=".0466" stop-color="#7b7b7b"/><stop offset=".0502" stop-color="#6c6c6c"/><stop offset=".052" stop-color="#636363"/><stop offset=".0537" stop-color="#414141"/><stop offset=".0555" stop-color="#2c2c2c"/><stop offset=".0573" stop-color="#262626"/><stop offset=".0609" stop-color="#1e1e1e"/><stop offset=".0645" stop-color="#191919"/><stop offset=".0681" stop-color="#171717"/><stop offset=".0806" stop-color="#191919"/><stop offset=".1254" stop-color="#2b2b2b"/><stop offset=".1702" stop-color="#464646"/><stop offset=".1971" stop-color="#525252"/><stop offset=".2401" stop-color="#5c5c5c"/><stop offset=".3368" stop-color="#656565"/><stop offset=".4013" stop-color="#686868"/><stop offset=".5733" stop-color="#6a6a6a"/><stop offset=".7721" stop-color="#707070"/><stop offset="1" stop-color="#717171"/></linearGradient><linearGradient id="h3_36"><stop offset="0" stop-color="#7a7a7a"/><stop offset=".0107" stop-color="#7a7a7a"/><stop offset=".0125" stop-color="#949494"/><stop offset=".0143" stop-color="#a5a5a5"/><stop offset=".0197" stop-color="#cacaca"/><stop offset=".0215" stop-color="#d3d3d3"/><stop offset=".0233" stop-color="#d9d9d9"/><stop offset=".0251" stop-color="#dbdbdb"/><stop offset=".0269" stop-color="#dbdbdb"/><stop offset=".0305" stop-color="#d5d5d5"/><stop offset=".034" stop-color="#cbcbcb"/><stop offset=".0394" stop-color="#b6b6b6"/><stop offset=".0412" stop-color="#a0a0a0"/><stop offset=".043" stop-color="#828282"/><stop offset=".0448" stop-color="#767676"/><stop offset=".0484" stop-color="#626262"/><stop offset=".0502" stop-color="#3d3d3d"/><stop offset=".052" stop-color="#262626"/><stop offset=".0537" stop-color="#202020"/><stop offset=".0573" stop-color="#171717"/><stop offset=".0609" stop-color="#111111"/><stop offset=".0645" stop-color="#0f0f0f"/><stop offset=".077" stop-color="#121212"/><stop offset=".1129" stop-color="#222222"/><stop offset=".1344" stop-color="#2c2c2c"/><stop offset=".1702" stop-color="#414141"/><stop offset=".2078" stop-color="#505050"/><stop offset=".2454" stop-color="#5b5b5b"/><stop offset=".3637" stop-color="#676767"/><stop offset=".4443" stop-color="#696969"/><stop offset=".6001" stop-color="#6b6b6b"/><stop offset=".7829" stop-color="#707070"/><stop offset="1" stop-color="#717171"/></linearGradient><linearGradient id="h3_37"><stop offset="0" stop-color="#7d7d7d"/><stop offset=".0107" stop-color="#7d7d7d"/><stop offset=".0125" stop-color="#9b9b9b"/><stop offset=".0143" stop-color="#adadad"/><stop offset=".0179" stop-color="#cacaca"/><stop offset=".0197" stop-color="#d5d5d5"/><stop offset=".0215" stop-color="#dddddd"/><stop offset=".0233" stop-color="#e1e1e1"/><stop offset=".0251" stop-color="#e1e1e1"/><stop offset=".0269" stop-color="#dfdfdf"/><stop offset=".0305" stop-color="#d6d6d6"/><stop offset=".034" stop-color="#c9c9c9"/><stop offset=".0358" stop-color="#c1c1c1"/><stop offset=".0376" stop-color="#b7b7b7"/><stop offset=".0394" stop-color="#9a9a9a"/><stop offset=".0412" stop-color="#7f7f7f"/><stop offset=".0448" stop-color="#676767"/><stop offset=".0466" stop-color="#515151"/><stop offset=".0484" stop-color="#2c2c2c"/><stop offset=".0502" stop-color="#1e1e1e"/><stop offset=".0537" stop-color="#141414"/><stop offset=".0573" stop-color="#0d0d0d"/><stop offset=".0609" stop-color="#0a0a0a"/><stop offset=".0735" stop-color="#0c0c0c"/><stop offset=".129" stop-color="#262626"/><stop offset=".1702" stop-color="#3e3e3e"/><stop offset=".2239" stop-color="#525252"/><stop offset=".2508" stop-color="#5a5a5a"/><stop offset=".3583" stop-color="#676767"/><stop offset=".412" stop-color="#696969"/><stop offset=".6001" stop-color="#6c6c6c"/><stop offset=".7882" stop-color="#717171"/><stop offset="1" stop-color="#717171"/></linearGradient><linearGradient id="h3_38"><stop offset="0" stop-color="#7e7e7e"/><stop offset=".0107" stop-color="#7e7e7e"/><stop offset=".0125" stop-color="#9f9f9f"/><stop offset=".0143" stop-color="#b3b3b3"/><stop offset=".0179" stop-color="#d1d1d1"/><stop offset=".0197" stop-color="#dcdcdc"/><stop offset=".0215" stop-color="#e3e3e3"/><stop offset=".0233" stop-color="#e5e5e5"/><stop offset=".0251" stop-color="#e3e3e3"/><stop offset=".0269" stop-color="#e0e0e0"/><stop offset=".0305" stop-color="#d5d5d5"/><stop offset=".034" stop-color="#c6c6c6"/><stop offset=".0358" stop-color="#bebebe"/><stop offset=".0376" stop-color="#a2a2a2"/><stop offset=".0394" stop-color="#838383"/><stop offset=".043" stop-color="#686868"/><stop offset=".0448" stop-color="#545454"/><stop offset=".0466" stop-color="#2d2d2d"/><stop offset=".0484" stop-color="#1c1c1c"/><stop offset=".052" stop-color="#111111"/><stop offset=".0555" stop-color="#0a0a0a"/><stop offset=".0591" stop-color="#070707"/><stop offset=".0699" stop-color="#090909"/><stop offset=".129" stop-color="#252525"/><stop offset=".1702" stop-color="#3c3c3c"/><stop offset=".2401" stop-color="#565656"/><stop offset=".2562" stop-color="#5a5a5a"/><stop offset=".3475" stop-color="#676767"/><stop offset=".4013" stop-color="#6a6a6a"/><stop offset=".6163" stop-color="#6d6d6d"/><stop offset=".799" stop-color="#717171"/><stop offset="1" stop-color="#717171"/></linearGradient><linearGradient id="h3_39"><stop offset="0" stop-color="#7f7f7f"/><stop offset=".0107" stop-color="#7f7f7f"/><stop offset=".0125" stop-color="#a1a1a1"/><stop offset=".0143" stop-color="#b5b5b5"/><stop offset=".0179" stop-color="#d3d3d3"/><stop offset=".0197" stop-color="#dedede"/><stop offset=".0215" stop-color="#e4e4e4"/><stop offset=".0233" stop-color="#e6e6e6"/><stop offset=".0251" stop-color="#e4e4e4"/><stop offset=".0269" stop-color="#e0e0e0"/><stop offset=".0305" stop-color="#d5d5d5"/><stop offset=".034" stop-color="#c6c6c6"/><stop offset=".0358" stop-color="#bababa"/><stop offset=".0376" stop-color="#9b9b9b"/><stop offset=".0394" stop-color="#808080"/><stop offset=".043" stop-color="#636363"/><stop offset=".0448" stop-color="#464646"/><stop offset=".0466" stop-color="#262626"/><stop offset=".0484" stop-color="#191919"/><stop offset=".052" stop-color="#0e0e0e"/><stop offset=".0555" stop-color="#080808"/><stop offset=".0591" stop-color="#060606"/><stop offset=".0717" stop-color="#090909"/><stop offset=".1326" stop-color="#262626"/><stop offset=".1702" stop-color="#3b3b3b"/><stop offset=".2454" stop-color="#595959"/><stop offset=".326" stop-color="#656565"/><stop offset=".3852" stop-color="#6b6b6b"/><stop offset=".67" stop-color="#707070"/><stop offset=".8635" stop-color="#727272"/><stop offset="1" stop-color="#727272"/></linearGradient><linearGradient id="h3_40"><stop offset="0" stop-color="#7e7e7e"/><stop offset=".0107" stop-color="#7e7e7e"/><stop offset=".0125" stop-color="#9f9f9f"/><stop offset=".0143" stop-color="#b2b2b2"/><stop offset=".0179" stop-color="#d0d0d0"/><stop offset=".0197" stop-color="#dcdcdc"/><stop offset=".0215" stop-color="#e2e2e2"/><stop offset=".0233" stop-color="#e4e4e4"/><stop offset=".0251" stop-color="#e3e3e3"/><stop offset=".0269" stop-color="#e0e0e0"/><stop offset=".0305" stop-color="#d5d5d5"/><stop offset=".034" stop-color="#c7c7c7"/><stop offset=".0358" stop-color="#bebebe"/><stop offset=".0376" stop-color="#a4a4a4"/><stop offset=".0394" stop-color="#848484"/><stop offset=".0412" stop-color="#767676"/><stop offset=".043" stop-color="#696969"/><stop offset=".0448" stop-color="#575757"/><stop offset=".0466" stop-color="#2f2f2f"/><stop offset=".0484" stop-color="#1d1d1d"/><stop offset=".052" stop-color="#111111"/><stop offset=".0555" stop-color="#0a0a0a"/><stop offset=".0591" stop-color="#070707"/><stop offset=".0699" stop-color="#090909"/><stop offset=".129" stop-color="#252525"/><stop offset=".1702" stop-color="#3c3c3c"/><stop offset=".2347" stop-color="#575757"/><stop offset=".2508" stop-color="#5c5c5c"/><stop offset=".3314" stop-color="#686868"/><stop offset=".3905" stop-color="#6d6d6d"/><stop offset=".842" stop-color="#747474"/><stop offset="1" stop-color="#747474"/></linearGradient><linearGradient id="h3_41"><stop offset="0" stop-color="#7c7c7c"/><stop offset=".0107" stop-color="#7c7c7c"/><stop offset=".0125" stop-color="#9a9a9a"/><stop offset=".0143" stop-color="#acacac"/><stop offset=".0179" stop-color="#c9c9c9"/><stop offset=".0197" stop-color="#d5d5d5"/><stop offset=".0215" stop-color="#dcdcdc"/><stop offset=".0233" stop-color="#e0e0e0"/><stop offset=".0251" stop-color="#e0e0e0"/><stop offset=".0269" stop-color="#dedede"/><stop offset=".0305" stop-color="#d6d6d6"/><stop offset=".034" stop-color="#c9c9c9"/><stop offset=".0358" stop-color="#c2c2c2"/><stop offset=".0376" stop-color="#b8b8b8"/><stop offset=".0412" stop-color="#808080"/><stop offset=".0448" stop-color="#686868"/><stop offset=".0466" stop-color="#565656"/><stop offset=".0484" stop-color="#303030"/><stop offset=".0502" stop-color="#1f1f1f"/><stop offset=".0537" stop-color="#151515"/><stop offset=".0573" stop-color="#0e0e0e"/><stop offset=".0609" stop-color="#0b0b0b"/><stop offset=".0717" stop-color="#0c0c0c"/><stop offset=".1272" stop-color="#262626"/><stop offset=".1756" stop-color="#414141"/><stop offset=".2239" stop-color="#575757"/><stop offset=".2508" stop-color="#606060"/><stop offset=".326" stop-color="#6b6b6b"/><stop offset=".3852" stop-color="#707070"/><stop offset=".885" stop-color="#777777"/><stop offset="1" stop-color="#787878"/></linearGradient><linearGradient id="h3_42"><stop offset="0" stop-color="#7a7a7a"/><stop offset=".0107" stop-color="#7a7a7a"/><stop offset=".0125" stop-color="#939393"/><stop offset=".0143" stop-color="#a4a4a4"/><stop offset=".0197" stop-color="#c9c9c9"/><stop offset=".0215" stop-color="#d2d2d2"/><stop offset=".0233" stop-color="#d8d8d8"/><stop offset=".0251" stop-color="#dadada"/><stop offset=".0269" stop-color="#dadada"/><stop offset=".0305" stop-color="#d5d5d5"/><stop offset=".034" stop-color="#cccccc"/><stop offset=".0394" stop-color="#b7b7b7"/><stop offset=".0412" stop-color="#a3a3a3"/><stop offset=".043" stop-color="#868686"/><stop offset=".0448" stop-color="#777777"/><stop offset=".0484" stop-color="#646464"/><stop offset=".0502" stop-color="#434343"/><stop offset=".052" stop-color="#292929"/><stop offset=".0537" stop-color="#212121"/><stop offset=".0591" stop-color="#151515"/><stop offset=".0627" stop-color="#111111"/><stop offset=".0717" stop-color="#111111"/><stop offset=".0932" stop-color="#1a1a1a"/><stop offset=".1254" stop-color="#282828"/><stop offset=".1863" stop-color="#4d4d4d"/><stop offset=".2132" stop-color="#595959"/><stop offset=".2508" stop-color="#656565"/><stop offset=".326" stop-color="#707070"/><stop offset=".3905" stop-color="#757575"/><stop offset="1" stop-color="#7d7d7d"/></linearGradient><linearGradient id="h3_43"><stop offset="0" stop-color="#777777"/><stop offset=".0107" stop-color="#777777"/><stop offset=".0125" stop-color="#8a8a8a"/><stop offset=".0143" stop-color="#9a9a9a"/><stop offset=".0161" stop-color="#a4a4a4"/><stop offset=".0179" stop-color="#adadad"/><stop offset=".0215" stop-color="#c2c2c2"/><stop offset=".0233" stop-color="#cacaca"/><stop offset=".0251" stop-color="#cfcfcf"/><stop offset=".0269" stop-color="#d2d2d2"/><stop offset=".0287" stop-color="#d2d2d2"/><stop offset=".0322" stop-color="#cfcfcf"/><stop offset=".0358" stop-color="#c7c7c7"/><stop offset=".0394" stop-color="#bcbcbc"/><stop offset=".043" stop-color="#adadad"/><stop offset=".0448" stop-color="#999999"/><stop offset=".0466" stop-color="#7e7e7e"/><stop offset=".0484" stop-color="#747474"/><stop offset=".052" stop-color="#666666"/><stop offset=".0537" stop-color="#494949"/><stop offset=".0555" stop-color="#2f2f2f"/><stop offset=".0573" stop-color="#272727"/><stop offset=".0609" stop-color="#1f1f1f"/><stop offset=".0645" stop-color="#1a1a1a"/><stop offset=".0681" stop-color="#181818"/><stop offset=".0806" stop-color="#1a1a1a"/><stop offset=".1236" stop-color="#2b2b2b"/><stop offset=".1541" stop-color="#404040"/><stop offset=".1809" stop-color="#535353"/><stop offset=".2024" stop-color="#5d5d5d"/><stop offset=".2454" stop-color="#6b6b6b"/><stop offset=".3153" stop-color="#757575"/><stop offset=".3852" stop-color="#7b7b7b"/><stop offset="1" stop-color="#838383"/></linearGradient><linearGradient id="h3_44"><stop offset="0" stop-color="#757575"/><stop offset=".0107" stop-color="#757575"/><stop offset=".0143" stop-color="#8e8e8e"/><stop offset=".0161" stop-color="#979797"/><stop offset=".0215" stop-color="#adadad"/><stop offset=".0233" stop-color="#b6b6b6"/><stop offset=".0251" stop-color="#bdbdbd"/><stop offset=".0269" stop-color="#c2c2c2"/><stop offset=".0287" stop-color="#c6c6c6"/><stop offset=".0305" stop-color="#c8c8c8"/><stop offset=".034" stop-color="#c7c7c7"/><stop offset=".0376" stop-color="#c2c2c2"/><stop offset=".0412" stop-color="#b8b8b8"/><stop offset=".0466" stop-color="#a6a6a6"/><stop offset=".0484" stop-color="#969696"/><stop offset=".0502" stop-color="#7e7e7e"/><stop offset=".052" stop-color="#747474"/><stop offset=".0555" stop-color="#6b6b6b"/><stop offset=".0573" stop-color="#5e5e5e"/><stop offset=".0591" stop-color="#3f3f3f"/><stop offset=".0609" stop-color="#323232"/><stop offset=".0645" stop-color="#282828"/><stop offset=".0681" stop-color="#232323"/><stop offset=".0735" stop-color="#202020"/><stop offset=".0878" stop-color="#222222"/><stop offset=".1147" stop-color="#2d2d2d"/><stop offset=".1308" stop-color="#363636"/><stop offset=".1523" stop-color="#484848"/><stop offset=".1702" stop-color="#585858"/><stop offset=".1863" stop-color="#626262"/><stop offset=".2186" stop-color="#6d6d6d"/><stop offset=".2508" stop-color="#767676"/><stop offset=".3099" stop-color="#7e7e7e"/><stop offset=".3852" stop-color="#838383"/><stop offset=".9226" stop-color="#898989"/><stop offset="1" stop-color="#8a8a8a"/></linearGradient><linearGradient id="h3_45"><stop offset="0" stop-color="#737373"/><stop offset=".0107" stop-color="#737373"/><stop offset=".0125" stop-color="#787878"/><stop offset=".0161" stop-color="#8a8a8a"/><stop offset=".0197" stop-color="#969696"/><stop offset=".0287" stop-color="#b2b2b2"/><stop offset=".0322" stop-color="#b9b9b9"/><stop offset=".034" stop-color="#bbbbbb"/><stop offset=".0376" stop-color="#bbbbbb"/><stop offset=".0412" stop-color="#b7b7b7"/><stop offset=".0484" stop-color="#a5a5a5"/><stop offset=".0502" stop-color="#a0a0a0"/><stop offset=".052" stop-color="#989898"/><stop offset=".0537" stop-color="#838383"/><stop offset=".0555" stop-color="#757575"/><stop offset=".0609" stop-color="#6b6b6b"/><stop offset=".0627" stop-color="#5c5c5c"/><stop offset=".0645" stop-color="#424242"/><stop offset=".0663" stop-color="#3a3a3a"/><stop offset=".0699" stop-color="#303030"/><stop offset=".0735" stop-color="#2b2b2b"/><stop offset=".0788" stop-color="#292929"/><stop offset=".0932" stop-color="#2b2b2b"/><stop offset=".1129" stop-color="#343434"/><stop offset=".129" stop-color="#3e3e3e"/><stop offset=".1415" stop-color="#4b4b4b"/><stop offset=".1541" stop-color="#5a5a5a"/><stop offset=".1702" stop-color="#666666"/><stop offset=".1917" stop-color="#717171"/><stop offset=".2293" stop-color="#7c7c7c"/><stop offset=".2616" stop-color="#828282"/><stop offset=".3422" stop-color="#888888"/><stop offset=".4389" stop-color="#8b8b8b"/><stop offset=".842" stop-color="#8e8e8e"/><stop offset="1" stop-color="#909090"/></linearGradient><linearGradient id="h3_46"><stop offset="0" stop-color="#727272"/><stop offset=".0107" stop-color="#727272"/><stop offset=".0125" stop-color="#747474"/><stop offset=".0215" stop-color="#8d8d8d"/><stop offset=".0322" stop-color="#a6a6a6"/><stop offset=".0376" stop-color="#afafaf"/><stop offset=".0412" stop-color="#afafaf"/><stop offset=".0448" stop-color="#ababab"/><stop offset=".0502" stop-color="#a2a2a2"/><stop offset=".0555" stop-color="#959595"/><stop offset=".0573" stop-color="#8a8a8a"/><stop offset=".0591" stop-color="#797979"/><stop offset=".0609" stop-color="#717171"/><stop offset=".0663" stop-color="#696969"/><stop offset=".0681" stop-color="#5c5c5c"/><stop offset=".0699" stop-color="#4a4a4a"/><stop offset=".0717" stop-color="#424242"/><stop offset=".0752" stop-color="#393939"/><stop offset=".0788" stop-color="#343434"/><stop offset=".0842" stop-color="#323232"/><stop offset=".0949" stop-color="#343434"/><stop offset=".1093" stop-color="#3b3b3b"/><stop offset=".1236" stop-color="#484848"/><stop offset=".1469" stop-color="#646464"/><stop offset=".1594" stop-color="#6f6f6f"/><stop offset=".1756" stop-color="#797979"/><stop offset=".1917" stop-color="#7f7f7f"/><stop offset=".2293" stop-color="#868686"/><stop offset=".2938" stop-color="#8d8d8d"/><stop offset=".4013" stop-color="#919191"/><stop offset=".8259" stop-color="#949494"/><stop offset="1" stop-color="#979797"/></linearGradient><linearGradient id="h3_47"><stop offset="0" stop-color="#717171"/><stop offset=".0107" stop-color="#717171"/><stop offset=".0125" stop-color="#727272"/><stop offset=".0161" stop-color="#7a7a7a"/><stop offset=".0251" stop-color="#949494"/><stop offset=".0287" stop-color="#9c9c9c"/><stop offset=".034" stop-color="#a3a3a3"/><stop offset=".0412" stop-color="#a6a6a6"/><stop offset=".0466" stop-color="#a3a3a3"/><stop offset=".0537" stop-color="#999999"/><stop offset=".0591" stop-color="#8c8c8c"/><stop offset=".0609" stop-color="#878787"/><stop offset=".0627" stop-color="#767676"/><stop offset=".0645" stop-color="#696969"/><stop offset=".0663" stop-color="#656565"/><stop offset=".0717" stop-color="#606060"/><stop offset=".0735" stop-color="#585858"/><stop offset=".0752" stop-color="#4d4d4d"/><stop offset=".0788" stop-color="#454545"/><stop offset=".0824" stop-color="#3f3f3f"/><stop offset=".086" stop-color="#3d3d3d"/><stop offset=".0932" stop-color="#3e3e3e"/><stop offset=".1039" stop-color="#444444"/><stop offset=".1111" stop-color="#4d4d4d"/><stop offset=".1254" stop-color="#616161"/><stop offset=".1487" stop-color="#787878"/><stop offset=".1594" stop-color="#808080"/><stop offset=".1809" stop-color="#878787"/><stop offset=".2239" stop-color="#8e8e8e"/><stop offset=".3153" stop-color="#949494"/><stop offset=".4335" stop-color="#979797"/><stop offset=".8097" stop-color="#999999"/><stop offset="1" stop-color="#9c9c9c"/></linearGradient><linearGradient id="h3_48"><stop offset="0" stop-color="#727272"/><stop offset=".0107" stop-color="#727272"/><stop offset=".0125" stop-color="#757575"/><stop offset=".0215" stop-color="#a3a3a3"/><stop offset=".0251" stop-color="#afafaf"/><stop offset=".0269" stop-color="#b3b3b3"/><stop offset=".0287" stop-color="#b4b4b4"/><stop offset=".0305" stop-color="#b2b2b2"/><stop offset=".0376" stop-color="#a1a1a1"/><stop offset=".0412" stop-color="#9b9b9b"/><stop offset=".043" stop-color="#959595"/><stop offset=".0448" stop-color="#949494"/><stop offset=".0484" stop-color="#959595"/><stop offset=".0537" stop-color="#898989"/><stop offset=".0573" stop-color="#7d7d7d"/><stop offset=".0609" stop-color="#707070"/><stop offset=".0663" stop-color="#626262"/><stop offset=".0681" stop-color="#585858"/><stop offset=".0699" stop-color="#545454"/><stop offset=".077" stop-color="#565656"/><stop offset=".0806" stop-color="#4e4e4e"/><stop offset=".086" stop-color="#4a4a4a"/><stop offset=".0914" stop-color="#4c4c4c"/><stop offset=".1003" stop-color="#545454"/><stop offset=".1093" stop-color="#606060"/><stop offset=".1236" stop-color="#747474"/><stop offset=".1326" stop-color="#7d7d7d"/><stop offset=".1487" stop-color="#878787"/><stop offset=".1702" stop-color="#8d8d8d"/><stop offset=".2132" stop-color="#939393"/><stop offset=".3207" stop-color="#9a9a9a"/><stop offset=".4443" stop-color="#9c9c9c"/><stop offset=".8044" stop-color="#9e9e9e"/><stop offset="1" stop-color="#a1a1a1"/></linearGradient><linearGradient id="h3_49"><stop offset="0" stop-color="#737373"/><stop offset=".0107" stop-color="#737373"/><stop offset=".0125" stop-color="#828282"/><stop offset=".0143" stop-color="#959595"/><stop offset=".0197" stop-color="#c0c0c0"/><stop offset=".0215" stop-color="#cacaca"/><stop offset=".0233" stop-color="#cecece"/><stop offset=".0251" stop-color="#cecece"/><stop offset=".0269" stop-color="#cacaca"/><stop offset=".0287" stop-color="#c2c2c2"/><stop offset=".0322" stop-color="#adadad"/><stop offset=".034" stop-color="#a3a3a3"/><stop offset=".0358" stop-color="#909090"/><stop offset=".0376" stop-color="#7f7f7f"/><stop offset=".0394" stop-color="#7d7d7d"/><stop offset=".043" stop-color="#7c7c7c"/><stop offset=".0448" stop-color="#686868"/><stop offset=".0466" stop-color="#565656"/><stop offset=".0484" stop-color="#4a4a4a"/><stop offset=".0502" stop-color="#424242"/><stop offset=".052" stop-color="#3e3e3e"/><stop offset=".0555" stop-color="#3d3d3d"/><stop offset=".0663" stop-color="#454545"/><stop offset=".0717" stop-color="#484848"/><stop offset=".0735" stop-color="#474747"/><stop offset=".0752" stop-color="#484848"/><stop offset=".0788" stop-color="#4e4e4e"/><stop offset=".0824" stop-color="#565656"/><stop offset=".0896" stop-color="#5d5d5d"/><stop offset=".0985" stop-color="#646464"/><stop offset=".1021" stop-color="#686868"/><stop offset=".1164" stop-color="#7e7e7e"/><stop offset=".1254" stop-color="#868686"/><stop offset=".1451" stop-color="#8e8e8e"/><stop offset=".1756" stop-color="#949494"/><stop offset=".2454" stop-color="#9a9a9a"/><stop offset=".3852" stop-color="#a0a0a0"/><stop offset=".8044" stop-color="#a2a2a2"/><stop offset="1" stop-color="#a5a5a5"/></linearGradient><linearGradient id="h3_50"><stop offset="0" stop-color="#767676"/><stop offset=".0107" stop-color="#767676"/><stop offset=".0125" stop-color="#969696"/><stop offset=".0161" stop-color="#c4c4c4"/><stop offset=".0179" stop-color="#d8d8d8"/><stop offset=".0197" stop-color="#e2e2e2"/><stop offset=".0215" stop-color="#e5e5e5"/><stop offset=".0233" stop-color="#e0e0e0"/><stop offset=".0251" stop-color="#d6d6d6"/><stop offset=".0269" stop-color="#c8c8c8"/><stop offset=".0287" stop-color="#b9b9b9"/><stop offset=".0305" stop-color="#9e9e9e"/><stop offset=".0322" stop-color="#7b7b7b"/><stop offset=".0358" stop-color="#6c6c6c"/><stop offset=".0376" stop-color="#525252"/><stop offset=".0394" stop-color="#333333"/><stop offset=".0412" stop-color="#2c2c2c"/><stop offset=".043" stop-color="#272727"/><stop offset=".0448" stop-color="#232323"/><stop offset=".0466" stop-color="#212121"/><stop offset=".0502" stop-color="#212121"/><stop offset=".0573" stop-color="#272727"/><stop offset=".0752" stop-color="#414141"/><stop offset=".0788" stop-color="#494949"/><stop offset=".0842" stop-color="#5e5e5e"/><stop offset=".086" stop-color="#636363"/><stop offset=".0914" stop-color="#6c6c6c"/><stop offset=".1003" stop-color="#767676"/><stop offset=".1057" stop-color="#7e7e7e"/><stop offset=".1147" stop-color="#888888"/><stop offset=".1272" stop-color="#8f8f8f"/><stop offset=".1541" stop-color="#959595"/><stop offset=".2024" stop-color="#9b9b9b"/><stop offset=".3475" stop-color="#a2a2a2"/><stop offset=".5142" stop-color="#a4a4a4"/><stop offset=".8044" stop-color="#a5a5a5"/><stop offset="1" stop-color="#a9a9a9"/></linearGradient><linearGradient id="h3_51"><stop offset="0" stop-color="#7b7b7b"/><stop offset=".0107" stop-color="#7b7b7b"/><stop offset=".0125" stop-color="#a7a7a7"/><stop offset=".0143" stop-color="#c6c6c6"/><stop offset=".0161" stop-color="#e0e0e0"/><stop offset=".0179" stop-color="#f0f0f0"/><stop offset=".0197" stop-color="#f5f5f5"/><stop offset=".0215" stop-color="#eeeeee"/><stop offset=".0233" stop-color="#e1e1e1"/><stop offset=".0251" stop-color="#cfcfcf"/><stop offset=".0269" stop-color="#b4b4b4"/><stop offset=".0287" stop-color="#818181"/><stop offset=".0322" stop-color="#606060"/><stop offset=".034" stop-color="#2e2e2e"/><stop offset=".0358" stop-color="#202020"/><stop offset=".0394" stop-color="#151515"/><stop offset=".0412" stop-color="#121212"/><stop offset=".043" stop-color="#101010"/><stop offset=".0484" stop-color="#131313"/><stop offset=".0591" stop-color="#212121"/><stop offset=".0717" stop-color="#343434"/><stop offset=".0752" stop-color="#3d3d3d"/><stop offset=".077" stop-color="#434343"/><stop offset=".0806" stop-color="#555555"/><stop offset=".0842" stop-color="#626262"/><stop offset=".0878" stop-color="#6d6d6d"/><stop offset=".0932" stop-color="#797979"/><stop offset=".1021" stop-color="#848484"/><stop offset=".1147" stop-color="#8e8e8e"/><stop offset=".1308" stop-color="#949494"/><stop offset=".1702" stop-color="#9b9b9b"/><stop offset=".2562" stop-color="#a1a1a1"/><stop offset=".3959" stop-color="#a6a6a6"/><stop offset=".799" stop-color="#a7a7a7"/><stop offset="1" stop-color="#ababab"/></linearGradient><linearGradient id="h3_52"><stop offset="0" stop-color="#7e7e7e"/><stop offset=".0107" stop-color="#7e7e7e"/><stop offset=".0125" stop-color="#b3b3b3"/><stop offset=".0143" stop-color="#d5d5d5"/><stop offset=".0161" stop-color="#efefef"/><stop offset=".0179" stop-color="#fcfcfc"/><stop offset=".0197" stop-color="#fbfbfb"/><stop offset=".0215" stop-color="#efefef"/><stop offset=".0233" stop-color="#dcdcdc"/><stop offset=".0251" stop-color="#c4c4c4"/><stop offset=".0269" stop-color="#888888"/><stop offset=".0287" stop-color="#6f6f6f"/><stop offset=".0305" stop-color="#515151"/><stop offset=".0322" stop-color="#212121"/><stop offset=".034" stop-color="#161616"/><stop offset=".0358" stop-color="#0f0f0f"/><stop offset=".0376" stop-color="#0a0a0a"/><stop offset=".0394" stop-color="#080808"/><stop offset=".043" stop-color="#080808"/><stop offset=".0484" stop-color="#0d0d0d"/><stop offset=".0699" stop-color="#2e2e2e"/><stop offset=".0735" stop-color="#363636"/><stop offset=".0752" stop-color="#3c3c3c"/><stop offset=".077" stop-color="#444444"/><stop offset=".0806" stop-color="#575757"/><stop offset=".0824" stop-color="#5f5f5f"/><stop offset=".086" stop-color="#6d6d6d"/><stop offset=".0914" stop-color="#7b7b7b"/><stop offset=".0949" stop-color="#818181"/><stop offset=".1003" stop-color="#888888"/><stop offset=".1147" stop-color="#919191"/><stop offset=".1344" stop-color="#979797"/><stop offset=".1809" stop-color="#9e9e9e"/><stop offset=".3153" stop-color="#a5a5a5"/><stop offset=".4443" stop-color="#a7a7a7"/><stop offset=".7936" stop-color="#a8a8a8"/><stop offset="1" stop-color="#acacac"/></linearGradient><linearGradient id="h3_53"><stop offset="0" stop-color="#7e7e7e"/><stop offset=".0107" stop-color="#7e7e7e"/><stop offset=".0125" stop-color="#b5b5b5"/><stop offset=".0143" stop-color="#d7d7d7"/><stop offset=".0161" stop-color="#f2f2f2"/><stop offset=".0179" stop-color="#fefefe"/><stop offset=".0197" stop-color="#fcfcfc"/><stop offset=".0215" stop-color="#efefef"/><stop offset=".0233" stop-color="#dbdbdb"/><stop offset=".0251" stop-color="#bebebe"/><stop offset=".0269" stop-color="#828282"/><stop offset=".0287" stop-color="#6b6b6b"/><stop offset=".0305" stop-color="#424242"/><stop offset=".0322" stop-color="#1c1c1c"/><stop offset=".034" stop-color="#131313"/><stop offset=".0358" stop-color="#0c0c0c"/><stop offset=".0376" stop-color="#080808"/><stop offset=".0394" stop-color="#060606"/><stop offset=".0448" stop-color="#080808"/><stop offset=".052" stop-color="#111111"/><stop offset=".0627" stop-color="#222222"/><stop offset=".0699" stop-color="#2d2d2d"/><stop offset=".0735" stop-color="#363636"/><stop offset=".077" stop-color="#434343"/><stop offset=".0806" stop-color="#575757"/><stop offset=".086" stop-color="#6d6d6d"/><stop offset=".0914" stop-color="#7c7c7c"/><stop offset=".0985" stop-color="#878787"/><stop offset=".1111" stop-color="#909090"/><stop offset=".129" stop-color="#969696"/><stop offset=".1702" stop-color="#9d9d9d"/><stop offset=".2669" stop-color="#a3a3a3"/><stop offset=".4013" stop-color="#a7a7a7"/><stop offset=".7936" stop-color="#a8a8a8"/><stop offset="1" stop-color="#acacac"/></linearGradient><linearGradient id="h3_54"><stop offset="0" stop-color="#7c7c7c"/><stop offset=".0107" stop-color="#7c7c7c"/><stop offset=".0125" stop-color="#adadad"/><stop offset=".0143" stop-color="#cdcdcd"/><stop offset=".0161" stop-color="#e8e8e8"/><stop offset=".0179" stop-color="#f6f6f6"/><stop offset=".0197" stop-color="#f8f8f8"/><stop offset=".0215" stop-color="#efefef"/><stop offset=".0233" stop-color="#dfdfdf"/><stop offset=".0251" stop-color="#cbcbcb"/><stop offset=".0269" stop-color="#9f9f9f"/><stop offset=".0287" stop-color="#787878"/><stop offset=".0305" stop-color="#666666"/><stop offset=".0322" stop-color="#3a3a3a"/><stop offset=".034" stop-color="#202020"/><stop offset=".0358" stop-color="#181818"/><stop offset=".0376" stop-color="#121212"/><stop offset=".0394" stop-color="#0e0e0e"/><stop offset=".0412" stop-color="#0c0c0c"/><stop offset=".0448" stop-color="#0d0d0d"/><stop offset=".0502" stop-color="#121212"/><stop offset=".0699" stop-color="#2e2e2e"/><stop offset=".0735" stop-color="#363636"/><stop offset=".077" stop-color="#424242"/><stop offset=".0788" stop-color="#4a4a4a"/><stop offset=".0806" stop-color="#545454"/><stop offset=".0824" stop-color="#5c5c5c"/><stop offset=".0878" stop-color="#707070"/><stop offset=".0932" stop-color="#7c7c7c"/><stop offset=".1003" stop-color="#868686"/><stop offset=".1129" stop-color="#909090"/><stop offset=".1308" stop-color="#969696"/><stop offset=".1702" stop-color="#9c9c9c"/><stop offset=".2669" stop-color="#a2a2a2"/><stop offset=".4013" stop-color="#a6a6a6"/><stop offset=".7936" stop-color="#a7a7a7"/><stop offset="1" stop-color="#ababab"/></linearGradient><linearGradient id="h3_55"><stop offset="0" stop-color="#787878"/><stop offset=".0107" stop-color="#787878"/><stop offset=".0125" stop-color="#9d9d9d"/><stop offset=".0143" stop-color="#b8b8b8"/><stop offset=".0161" stop-color="#d1d1d1"/><stop offset=".0179" stop-color="#e3e3e3"/><stop offset=".0197" stop-color="#ebebeb"/><stop offset=".0215" stop-color="#ebebeb"/><stop offset=".0233" stop-color="#e2e2e2"/><stop offset=".0251" stop-color="#d4d4d4"/><stop offset=".0269" stop-color="#c4c4c4"/><stop offset=".0287" stop-color="#aaaaaa"/><stop offset=".0305" stop-color="#7f7f7f"/><stop offset=".0322" stop-color="#717171"/><stop offset=".034" stop-color="#676767"/><stop offset=".0358" stop-color="#424242"/><stop offset=".0376" stop-color="#2b2b2b"/><stop offset=".0394" stop-color="#242424"/><stop offset=".043" stop-color="#1c1c1c"/><stop offset=".0448" stop-color="#1a1a1a"/><stop offset=".0484" stop-color="#191919"/><stop offset=".0573" stop-color="#222222"/><stop offset=".0717" stop-color="#353535"/><stop offset=".0752" stop-color="#3c3c3c"/><stop offset=".077" stop-color="#414141"/><stop offset=".0788" stop-color="#484848"/><stop offset=".0824" stop-color="#595959"/><stop offset=".0842" stop-color="#5f5f5f"/><stop offset=".0896" stop-color="#6f6f6f"/><stop offset=".0967" stop-color="#7c7c7c"/><stop offset=".1021" stop-color="#848484"/><stop offset=".1129" stop-color="#8c8c8c"/><stop offset=".1272" stop-color="#929292"/><stop offset=".1648" stop-color="#999999"/><stop offset=".2454" stop-color="#9f9f9f"/><stop offset=".3905" stop-color="#a4a4a4"/><stop offset=".799" stop-color="#a6a6a6"/><stop offset="1" stop-color="#aaaaaa"/></linearGradient><linearGradient id="h3_56"><stop offset="0" stop-color="#747474"/><stop offset=".0107" stop-color="#747474"/><stop offset=".0143" stop-color="#9e9e9e"/><stop offset=".0161" stop-color="#aeaeae"/><stop offset=".0179" stop-color="#c1c1c1"/><stop offset=".0197" stop-color="#cfcfcf"/><stop offset=".0215" stop-color="#d7d7d7"/><stop offset=".0233" stop-color="#d8d8d8"/><stop offset=".0251" stop-color="#d4d4d4"/><stop offset=".0269" stop-color="#cccccc"/><stop offset=".0287" stop-color="#c0c0c0"/><stop offset=".0322" stop-color="#a6a6a6"/><stop offset=".034" stop-color="#898989"/><stop offset=".0358" stop-color="#757575"/><stop offset=".0394" stop-color="#6c6c6c"/><stop offset=".0412" stop-color="#606060"/><stop offset=".043" stop-color="#404040"/><stop offset=".0448" stop-color="#373737"/><stop offset=".0466" stop-color="#303030"/><stop offset=".0484" stop-color="#2c2c2c"/><stop offset=".0502" stop-color="#2a2a2a"/><stop offset=".0537" stop-color="#2a2a2a"/><stop offset=".0591" stop-color="#2e2e2e"/><stop offset=".0717" stop-color="#3e3e3e"/><stop offset=".077" stop-color="#464646"/><stop offset=".0788" stop-color="#4a4a4a"/><stop offset=".086" stop-color="#626262"/><stop offset=".0932" stop-color="#707070"/><stop offset=".1057" stop-color="#818181"/><stop offset=".1182" stop-color="#8b8b8b"/><stop offset=".1344" stop-color="#909090"/><stop offset=".1756" stop-color="#979797"/><stop offset=".2723" stop-color="#9d9d9d"/><stop offset=".4067" stop-color="#a2a2a2"/><stop offset=".799" stop-color="#a3a3a3"/><stop offset="1" stop-color="#a7a7a7"/></linearGradient><linearGradient id="h3_57"><stop offset="0" stop-color="#727272"/><stop offset=".0107" stop-color="#727272"/><stop offset=".0125" stop-color="#787878"/><stop offset=".0143" stop-color="#858585"/><stop offset=".0197" stop-color="#a6a6a6"/><stop offset=".0215" stop-color="#b1b1b1"/><stop offset=".0233" stop-color="#b9b9b9"/><stop offset=".0251" stop-color="#bdbdbd"/><stop offset=".0269" stop-color="#bebebe"/><stop offset=".0287" stop-color="#bcbcbc"/><stop offset=".0305" stop-color="#b6b6b6"/><stop offset=".0376" stop-color="#999999"/><stop offset=".0394" stop-color="#8c8c8c"/><stop offset=".0412" stop-color="#787878"/><stop offset=".043" stop-color="#727272"/><stop offset=".0466" stop-color="#6d6d6d"/><stop offset=".0484" stop-color="#5d5d5d"/><stop offset=".0502" stop-color="#525252"/><stop offset=".052" stop-color="#4a4a4a"/><stop offset=".0537" stop-color="#444444"/><stop offset=".0555" stop-color="#424242"/><stop offset=".0591" stop-color="#414141"/><stop offset=".0663" stop-color="#464646"/><stop offset=".0824" stop-color="#5a5a5a"/><stop offset=".0914" stop-color="#6a6a6a"/><stop offset=".1111" stop-color="#7f7f7f"/><stop offset=".1236" stop-color="#888888"/><stop offset=".1487" stop-color="#8f8f8f"/><stop offset=".2024" stop-color="#959595"/><stop offset=".3368" stop-color="#9c9c9c"/><stop offset=".4819" stop-color="#9e9e9e"/><stop offset=".8044" stop-color="#9f9f9f"/><stop offset="1" stop-color="#a3a3a3"/></linearGradient><linearGradient id="h3_58"><stop offset="0" stop-color="#717171"/><stop offset=".0107" stop-color="#717171"/><stop offset=".0125" stop-color="#727272"/><stop offset=".0143" stop-color="#757575"/><stop offset=".0197" stop-color="#868686"/><stop offset=".0233" stop-color="#949494"/><stop offset=".0251" stop-color="#999999"/><stop offset=".0269" stop-color="#9e9e9e"/><stop offset=".0287" stop-color="#a0a0a0"/><stop offset=".0305" stop-color="#a1a1a1"/><stop offset=".0322" stop-color="#a1a1a1"/><stop offset=".0358" stop-color="#9c9c9c"/><stop offset=".0412" stop-color="#8f8f8f"/><stop offset=".043" stop-color="#898989"/><stop offset=".0448" stop-color="#818181"/><stop offset=".0466" stop-color="#747474"/><stop offset=".0484" stop-color="#717171"/><stop offset=".052" stop-color="#6f6f6f"/><stop offset=".0537" stop-color="#6a6a6a"/><stop offset=".0591" stop-color="#616161"/><stop offset=".0645" stop-color="#5e5e5e"/><stop offset=".0735" stop-color="#5f5f5f"/><stop offset=".0878" stop-color="#666666"/><stop offset=".1021" stop-color="#727272"/><stop offset=".1218" stop-color="#818181"/><stop offset=".1379" stop-color="#878787"/><stop offset=".1809" stop-color="#8e8e8e"/><stop offset=".2669" stop-color="#959595"/><stop offset=".4013" stop-color="#999999"/><stop offset=".8097" stop-color="#9b9b9b"/><stop offset="1" stop-color="#9e9e9e"/></linearGradient><linearGradient id="h3_59"><stop offset="0" stop-color="#737373"/><stop offset=".0143" stop-color="#737373"/><stop offset=".0215" stop-color="#797979"/><stop offset=".0305" stop-color="#878787"/><stop offset=".034" stop-color="#898989"/><stop offset=".0376" stop-color="#898989"/><stop offset=".043" stop-color="#838383"/><stop offset=".0502" stop-color="#757575"/><stop offset=".052" stop-color="#737373"/><stop offset=".0573" stop-color="#727272"/><stop offset=".0699" stop-color="#6c6c6c"/><stop offset=".0824" stop-color="#6c6c6c"/><stop offset=".0949" stop-color="#6f6f6f"/><stop offset=".1147" stop-color="#797979"/><stop offset=".1272" stop-color="#808080"/><stop offset=".1594" stop-color="#878787"/><stop offset=".2293" stop-color="#8e8e8e"/><stop offset=".3583" stop-color="#939393"/><stop offset=".6808" stop-color="#959595"/><stop offset="1" stop-color="#9a9a9a"/></linearGradient><linearGradient id="h3_60"><stop offset="0" stop-color="#767676"/><stop offset=".0233" stop-color="#777777"/><stop offset=".0376" stop-color="#7b7b7b"/><stop offset=".0466" stop-color="#797979"/><stop offset=".0555" stop-color="#767676"/><stop offset=".0878" stop-color="#737373"/><stop offset=".1021" stop-color="#747474"/><stop offset=".1326" stop-color="#7f7f7f"/><stop offset=".1809" stop-color="#858585"/><stop offset=".2777" stop-color="#8c8c8c"/><stop offset=".4228" stop-color="#909090"/><stop offset=".8312" stop-color="#929292"/><stop offset="1" stop-color="#959595"/></linearGradient><linearGradient id="h3_61"><stop offset="0" stop-color="#797979"/><stop offset=".052" stop-color="#797979"/><stop offset=".1039" stop-color="#787878"/><stop offset=".1451" stop-color="#7f7f7f"/><stop offset=".2347" stop-color="#868686"/><stop offset=".3852" stop-color="#8b8b8b"/><stop offset=".8635" stop-color="#8e8e8e"/><stop offset="1" stop-color="#909090"/></linearGradient><linearGradient id="h3_62"><stop offset="0" stop-color="#7a7a7a"/><stop offset=".1111" stop-color="#7a7a7a"/><stop offset=".1756" stop-color="#808080"/><stop offset=".3046" stop-color="#858585"/><stop offset=".5303" stop-color="#888888"/><stop offset=".9172" stop-color="#8a8a8a"/><stop offset="1" stop-color="#8b8b8b"/></linearGradient><linearGradient id="h3_63"><stop offset="0" stop-color="#7a7a7a"/><stop offset=".1147" stop-color="#7b7b7b"/><stop offset=".2024" stop-color="#818181"/><stop offset=".3529" stop-color="#858585"/><stop offset=".9495" stop-color="#898989"/><stop offset="1" stop-color="#898989"/></linearGradient><linearGradient id="h3_64"><stop offset="0" stop-color="#7a7a7a"/><stop offset=".1147" stop-color="#7b7b7b"/><stop offset=".2024" stop-color="#818181"/><stop offset=".3529" stop-color="#858585"/><stop offset=".9495" stop-color="#898989"/><stop offset="1" stop-color="#898989"/></linearGradient><clipPath id="cp3"><rect x="743.8" y="447.5" width="546.2" height="182.4"/></clipPath></defs>
<g clip-path="url(#cp3)"><g filter="url(#rb)"><rect x="737.8" y="441.5" width="558.2" height="3.5" fill="url(#h3_0)"/><rect x="737.8" y="444.5" width="558.2" height="3.5" fill="url(#h3_1)"/><rect x="737.8" y="447.5" width="558.2" height="3.5" fill="url(#h3_2)"/><rect x="737.8" y="450.5" width="558.2" height="3.5" fill="url(#h3_3)"/><rect x="737.8" y="453.5" width="558.2" height="3.5" fill="url(#h3_4)"/><rect x="737.8" y="456.5" width="558.2" height="3.5" fill="url(#h3_5)"/><rect x="737.8" y="459.5" width="558.2" height="3.5" fill="url(#h3_6)"/><rect x="737.8" y="462.5" width="558.2" height="3.5" fill="url(#h3_7)"/><rect x="737.8" y="465.5" width="558.2" height="3.5" fill="url(#h3_8)"/><rect x="737.8" y="468.5" width="558.2" height="3.5" fill="url(#h3_9)"/><rect x="737.8" y="471.5" width="558.2" height="3.5" fill="url(#h3_10)"/><rect x="737.8" y="474.5" width="558.2" height="3.5" fill="url(#h3_11)"/><rect x="737.8" y="477.5" width="558.2" height="3.5" fill="url(#h3_12)"/><rect x="737.8" y="480.5" width="558.2" height="3.5" fill="url(#h3_13)"/><rect x="737.8" y="483.5" width="558.2" height="3.5" fill="url(#h3_14)"/><rect x="737.8" y="486.5" width="558.2" height="3.5" fill="url(#h3_15)"/><rect x="737.8" y="489.5" width="558.2" height="3.5" fill="url(#h3_16)"/><rect x="737.8" y="492.5" width="558.2" height="3.5" fill="url(#h3_17)"/><rect x="737.8" y="495.5" width="558.2" height="3.5" fill="url(#h3_18)"/><rect x="737.8" y="498.5" width="558.2" height="3.5" fill="url(#h3_19)"/><rect x="737.8" y="501.5" width="558.2" height="3.5" fill="url(#h3_20)"/><rect x="737.8" y="504.5" width="558.2" height="3.5" fill="url(#h3_21)"/><rect x="737.8" y="507.5" width="558.2" height="3.5" fill="url(#h3_22)"/><rect x="737.8" y="510.5" width="558.2" height="3.5" fill="url(#h3_23)"/><rect x="737.8" y="513.5" width="558.2" height="3.5" fill="url(#h3_24)"/><rect x="737.8" y="516.5" width="558.2" height="3.5" fill="url(#h3_25)"/><rect x="737.8" y="519.5" width="558.2" height="3.5" fill="url(#h3_26)"/><rect x="737.8" y="522.5" width="558.2" height="3.5" fill="url(#h3_27)"/><rect x="737.8" y="525.5" width="558.2" height="3.5" fill="url(#h3_28)"/><rect x="737.8" y="528.5" width="558.2" height="3.5" fill="url(#h3_29)"/><rect x="737.8" y="531.5" width="558.2" height="3.5" fill="url(#h3_30)"/><rect x="737.8" y="534.5" width="558.2" height="3.5" fill="url(#h3_31)"/><rect x="737.8" y="537.5" width="558.2" height="3.5" fill="url(#h3_32)"/><rect x="737.8" y="540.5" width="558.2" height="3.5" fill="url(#h3_33)"/><rect x="737.8" y="543.5" width="558.2" height="3.5" fill="url(#h3_34)"/><rect x="737.8" y="546.5" width="558.2" height="3.5" fill="url(#h3_35)"/><rect x="737.8" y="549.5" width="558.2" height="3.5" fill="url(#h3_36)"/><rect x="737.8" y="552.5" width="558.2" height="3.5" fill="url(#h3_37)"/><rect x="737.8" y="555.5" width="558.2" height="3.5" fill="url(#h3_38)"/><rect x="737.8" y="558.5" width="558.2" height="3.5" fill="url(#h3_39)"/><rect x="737.8" y="561.5" width="558.2" height="3.5" fill="url(#h3_40)"/><rect x="737.8" y="564.5" width="558.2" height="3.5" fill="url(#h3_41)"/><rect x="737.8" y="567.5" width="558.2" height="3.5" fill="url(#h3_42)"/><rect x="737.8" y="570.5" width="558.2" height="3.5" fill="url(#h3_43)"/><rect x="737.8" y="573.5" width="558.2" height="3.5" fill="url(#h3_44)"/><rect x="737.8" y="576.5" width="558.2" height="3.5" fill="url(#h3_45)"/><rect x="737.8" y="579.5" width="558.2" height="3.5" fill="url(#h3_46)"/><rect x="737.8" y="582.5" width="558.2" height="3.5" fill="url(#h3_47)"/><rect x="737.8" y="585.5" width="558.2" height="3.5" fill="url(#h3_48)"/><rect x="737.8" y="588.5" width="558.2" height="3.5" fill="url(#h3_49)"/><rect x="737.8" y="591.5" width="558.2" height="3.5" fill="url(#h3_50)"/><rect x="737.8" y="594.5" width="558.2" height="3.5" fill="url(#h3_51)"/><rect x="737.8" y="597.5" width="558.2" height="3.5" fill="url(#h3_52)"/><rect x="737.8" y="600.5" width="558.2" height="3.5" fill="url(#h3_53)"/><rect x="737.8" y="603.5" width="558.2" height="3.5" fill="url(#h3_54)"/><rect x="737.8" y="606.5" width="558.2" height="3.5" fill="url(#h3_55)"/><rect x="737.8" y="609.5" width="558.2" height="3.5" fill="url(#h3_56)"/><rect x="737.8" y="612.5" width="558.2" height="3.5" fill="url(#h3_57)"/><rect x="737.8" y="615.5" width="558.2" height="3.5" fill="url(#h3_58)"/><rect x="737.8" y="618.5" width="558.2" height="3.5" fill="url(#h3_59)"/><rect x="737.8" y="621.5" width="558.2" height="3.5" fill="url(#h3_60)"/><rect x="737.8" y="624.5" width="558.2" height="3.5" fill="url(#h3_61)"/><rect x="737.8" y="627.5" width="558.2" height="3.5" fill="url(#h3_62)"/><rect x="737.8" y="630.5" width="558.2" height="3.5" fill="url(#h3_63)"/><rect x="737.8" y="633.5" width="558.2" height="3.5" fill="url(#h3_64)"/></g></g>
<rect x="743.8" y="447.5" width="546.2" height="182.4" fill="none" stroke="#808080" stroke-width="0.7"/>
<line x1="880.8" y1="629.9" x2="880.8" y2="624.9" stroke="#7a7a7a" stroke-width="0.8"/>
<text transform="translate(880.8 666.3) scale(1 1.07)" text-anchor="middle" font-size="34" fill="#666">0.5</text>
<line x1="1017.0" y1="629.9" x2="1017.0" y2="624.9" stroke="#7a7a7a" stroke-width="0.8"/>
<text transform="translate(1017.0 666.3) scale(1 1.07)" text-anchor="middle" font-size="34" fill="#666">1</text>
<line x1="1153.4" y1="629.9" x2="1153.4" y2="624.9" stroke="#7a7a7a" stroke-width="0.8"/>
<text transform="translate(1153.4 666.3) scale(1 1.07)" text-anchor="middle" font-size="34" fill="#666">1.5</text>
<text transform="translate(1289.8 666.3) scale(1 1.07)" text-anchor="middle" font-size="34" fill="#666">2</text>
<line x1="743.8" y1="538.7" x2="748.8" y2="538.7" stroke="#7a7a7a" stroke-width="0.8"/>
<text transform="translate(713.1 459.5) scale(1 1.07)" text-anchor="end" font-size="34" fill="#666">2</text>
<text x="738.7" y="459.5" text-anchor="end" font-size="35.5" fill="#666" font-style="italic">π</text>
<text x="738.7" y="550.8" text-anchor="end" font-size="35.5" fill="#666" font-style="italic">π</text>
<text transform="translate(739.1 641.8) scale(1 1.07)" text-anchor="end" font-size="34" fill="#666">0</text>
<defs><linearGradient id="cb3"><stop offset="0" stop-color="#781c86"/><stop offset=".05" stop-color="#581da0"/><stop offset=".1" stop-color="#462cb7"/><stop offset=".15" stop-color="#4040c7"/><stop offset=".2" stop-color="#3f5fd0"/><stop offset=".25" stop-color="#447ccd"/><stop offset=".3" stop-color="#4b90c0"/><stop offset=".35" stop-color="#569eb0"/><stop offset=".4" stop-color="#62a99c"/><stop offset=".45" stop-color="#72b385"/><stop offset=".5" stop-color="#83ba70"/><stop offset=".55" stop-color="#94bd61"/><stop offset=".6" stop-color="#a7be54"/><stop offset=".65" stop-color="#bbbc48"/><stop offset=".7" stop-color="#cbb742"/><stop offset=".75" stop-color="#d8ac3c"/><stop offset=".8" stop-color="#e29c38"/><stop offset=".85" stop-color="#e68032"/><stop offset=".9" stop-color="#e4662d"/><stop offset=".95" stop-color="#e04628"/><stop offset="1" stop-color="#db2122"/></linearGradient></defs>
<rect x="839.0" y="698.1" width="339.2" height="22.4" fill="url(#cb3)"/>
<line x1="877.0" y1="720.5" x2="877.0" y2="727.8" stroke="#cbcbcb" stroke-width="1.2"/>
<text transform="translate(877.0 757.3) scale(1 1.05)" text-anchor="middle" font-size="27.6" fill="#666">−10</text>
<line x1="944.9" y1="720.5" x2="944.9" y2="727.8" stroke="#cbcbcb" stroke-width="1.2"/>
<text transform="translate(944.9 757.3) scale(1 1.05)" text-anchor="middle" font-size="27.6" fill="#666">−1</text>
<line x1="999.2" y1="720.5" x2="999.2" y2="727.8" stroke="#cbcbcb" stroke-width="1.2"/>
<text transform="translate(999.2 757.3) scale(1 1.05)" text-anchor="middle" font-size="27.6" fill="#666">1</text>
<line x1="1066.5" y1="720.5" x2="1066.5" y2="727.8" stroke="#cbcbcb" stroke-width="1.2"/>
<text transform="translate(1066.5 757.3) scale(1 1.05)" text-anchor="middle" font-size="27.6" fill="#666">10</text>
<line x1="1154.2" y1="720.5" x2="1154.2" y2="727.8" stroke="#cbcbcb" stroke-width="1.2"/>
<text transform="translate(1154.2 757.3) scale(1 1.05)" text-anchor="middle" font-size="27.6" fill="#666">100</text>
<g class="cap" font-size="33" fill="#111"><text x="931.2" y="800.3" font-size="35.5">(</text><text x="942.8" y="801.0">d</text><text x="962.2" y="800.3" font-size="35.5">)</text><text x="988.6" y="801.0" font-style="italic">j</text><text transform="translate(1009.5 803.0) scale(1.32 1)">=</text><text x="1045.1" y="801.0">3</text></g>
</svg></body></html>
